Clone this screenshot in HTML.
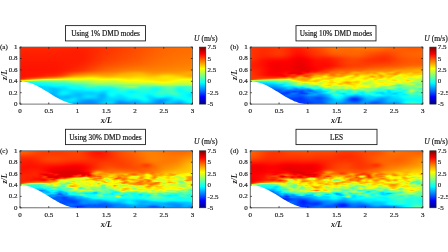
<!DOCTYPE html><html><head><meta charset="utf-8"><style>*{margin:0;padding:0}
html,body{width:448px;height:252px;overflow:hidden;background:#fff}
.fld{position:absolute;width:172.5px;height:57px}
.fld div{position:absolute;left:0;width:100%;height:1.05px}
svg{position:absolute;left:0;top:0}
.t{font-family:"Liberation Serif",serif;font-size:7px;fill:#111;stroke:#333;stroke-width:0.2px}
.tt{font-family:"Liberation Serif",serif;font-size:7.3px;fill:#111;stroke:#222;stroke-width:0.2px}
.al{font-family:"Liberation Serif",serif;font-size:8px;font-weight:bold;font-style:italic;fill:#111}
.u{font-size:7.6px}
</style></head><body><div class="fld" style="left:20.0px;top:47.1px"><div style="top:0.00px;background:linear-gradient(90deg,#ff2700,#ff2700,#ff2700,#ff2700,#ff2700,#ff2700,#ff2700,#ff2700,#ff2700,#ff2700,#ff2700,#ff2700,#ff2700,#ff2700,#ff2700,#ff2700,#ff2700,#ff2700,#ff2600,#ff2600,#ff2600,#ff2500,#ff2500,#ff2400,#ff2400,#ff2400,#ff2300,#ff2300,#ff2300,#ff2300,#ff2300,#ff2400,#ff2400,#ff2500,#ff2600,#ff2800,#ff2900,#ff2b00,#ff2c00,#ff2e00,#ff2f00,#ff3100,#ff3300,#ff3400,#ff3500,#ff3700,#ff3900,#ff3a00,#ff3c00,#ff3e00,#ff3f00,#ff4100,#ff4300,#ff4500,#ff4700,#ff4800,#ff4a00,#ff4c00,#ff4e00,#ff5000,#ff5100,#ff5300,#ff5500,#ff5700,#ff5900,#ff5b00,#ff5d00,#ff5f00,#ff6000,#ff6200,#ff6300,#ff6400,#ff6500,#ff6600,#ff6700,#ff6800,#ff6900,#ff6900,#ff6a00,#ff6b00,#ff6b00,#ff6c00,#ff6c00,#ff6d00,#ff6d00,#ff6d00,#ff6d00)"></div><div style="top:1.00px;background:linear-gradient(90deg,#ff2600,#ff2600,#ff2600,#ff2600,#ff2600,#ff2600,#ff2600,#ff2600,#ff2600,#ff2600,#ff2600,#ff2600,#ff2600,#ff2600,#ff2600,#ff2600,#ff2600,#ff2600,#ff2500,#ff2500,#ff2400,#ff2400,#ff2300,#ff2300,#ff2200,#ff2200,#ff2200,#ff2100,#ff2100,#ff2100,#ff2200,#ff2200,#ff2300,#ff2400,#ff2500,#ff2700,#ff2800,#ff2a00,#ff2c00,#ff2e00,#ff2f00,#ff3100,#ff3300,#ff3400,#ff3600,#ff3700,#ff3900,#ff3b00,#ff3c00,#ff3e00,#ff4000,#ff4200,#ff4300,#ff4500,#ff4700,#ff4900,#ff4a00,#ff4c00,#ff4e00,#ff5000,#ff5200,#ff5400,#ff5600,#ff5800,#ff5900,#ff5b00,#ff5d00,#ff5f00,#ff6100,#ff6200,#ff6300,#ff6500,#ff6500,#ff6600,#ff6700,#ff6800,#ff6900,#ff6a00,#ff6a00,#ff6b00,#ff6b00,#ff6c00,#ff6c00,#ff6d00,#ff6d00,#ff6d00,#ff6d00)"></div><div style="top:2.00px;background:linear-gradient(90deg,#ff2500,#ff2500,#ff2500,#ff2500,#ff2500,#ff2500,#ff2500,#ff2500,#ff2500,#ff2500,#ff2500,#ff2500,#ff2500,#ff2500,#ff2500,#ff2500,#ff2500,#ff2400,#ff2400,#ff2400,#ff2300,#ff2300,#ff2200,#ff2200,#ff2100,#ff2100,#ff2000,#ff2000,#ff2000,#ff2000,#ff2000,#ff2100,#ff2200,#ff2300,#ff2400,#ff2600,#ff2800,#ff2a00,#ff2b00,#ff2d00,#ff2f00,#ff3100,#ff3300,#ff3500,#ff3600,#ff3800,#ff3900,#ff3b00,#ff3d00,#ff3e00,#ff4000,#ff4200,#ff4400,#ff4500,#ff4700,#ff4900,#ff4b00,#ff4c00,#ff4e00,#ff5000,#ff5200,#ff5400,#ff5600,#ff5800,#ff5a00,#ff5c00,#ff5e00,#ff5f00,#ff6100,#ff6200,#ff6400,#ff6500,#ff6600,#ff6700,#ff6800,#ff6800,#ff6900,#ff6a00,#ff6b00,#ff6b00,#ff6c00,#ff6c00,#ff6d00,#ff6d00,#ff6d00,#ff6e00,#ff6e00)"></div><div style="top:3.00px;background:linear-gradient(90deg,#ff2400,#ff2400,#ff2400,#ff2400,#ff2400,#ff2400,#ff2400,#ff2400,#ff2400,#ff2400,#ff2400,#ff2400,#ff2400,#ff2400,#ff2400,#ff2400,#ff2300,#ff2300,#ff2300,#ff2200,#ff2200,#ff2100,#ff2100,#ff2000,#ff2000,#ff2000,#ff1f00,#ff1f00,#ff1f00,#ff1f00,#ff1f00,#ff2000,#ff2100,#ff2200,#ff2400,#ff2500,#ff2700,#ff2900,#ff2b00,#ff2d00,#ff2f00,#ff3100,#ff3300,#ff3500,#ff3700,#ff3800,#ff3a00,#ff3c00,#ff3d00,#ff3f00,#ff4100,#ff4200,#ff4400,#ff4600,#ff4800,#ff4900,#ff4b00,#ff4d00,#ff4f00,#ff5000,#ff5200,#ff5400,#ff5600,#ff5800,#ff5a00,#ff5c00,#ff5e00,#ff6000,#ff6100,#ff6300,#ff6400,#ff6500,#ff6600,#ff6700,#ff6800,#ff6900,#ff6a00,#ff6a00,#ff6b00,#ff6c00,#ff6c00,#ff6d00,#ff6d00,#ff6e00,#ff6e00,#ff6e00,#ff6e00)"></div><div style="top:4.00px;background:linear-gradient(90deg,#ff2200,#ff2200,#ff2200,#ff2200,#ff2200,#ff2200,#ff2200,#ff2200,#ff2200,#ff2200,#ff2200,#ff2200,#ff2200,#ff2200,#ff2200,#ff2200,#ff2200,#ff2200,#ff2200,#ff2100,#ff2100,#ff2000,#ff2000,#ff1f00,#ff1f00,#ff1f00,#ff1e00,#ff1e00,#ff1e00,#ff1e00,#ff1e00,#ff1f00,#ff2000,#ff2200,#ff2300,#ff2500,#ff2700,#ff2900,#ff2b00,#ff2e00,#ff3000,#ff3200,#ff3400,#ff3600,#ff3700,#ff3900,#ff3b00,#ff3c00,#ff3e00,#ff4000,#ff4100,#ff4300,#ff4500,#ff4700,#ff4800,#ff4a00,#ff4c00,#ff4d00,#ff4f00,#ff5100,#ff5300,#ff5500,#ff5700,#ff5900,#ff5b00,#ff5d00,#ff5f00,#ff6000,#ff6200,#ff6400,#ff6500,#ff6600,#ff6700,#ff6800,#ff6900,#ff6900,#ff6a00,#ff6b00,#ff6c00,#ff6c00,#ff6d00,#ff6d00,#ff6e00,#ff6e00,#ff6f00,#ff6f00,#ff6f00)"></div><div style="top:5.00px;background:linear-gradient(90deg,#ff2100,#ff2100,#ff2100,#ff2100,#ff2100,#ff2100,#ff2100,#ff2100,#ff2100,#ff2100,#ff2100,#ff2100,#ff2100,#ff2100,#ff2100,#ff2100,#ff2100,#ff2100,#ff2100,#ff2000,#ff2000,#ff1f00,#ff1f00,#ff1f00,#ff1e00,#ff1e00,#ff1e00,#ff1d00,#ff1d00,#ff1d00,#ff1e00,#ff1e00,#ff2000,#ff2100,#ff2300,#ff2500,#ff2700,#ff2900,#ff2c00,#ff2e00,#ff3000,#ff3200,#ff3400,#ff3600,#ff3800,#ff3a00,#ff3b00,#ff3d00,#ff3f00,#ff4100,#ff4200,#ff4400,#ff4600,#ff4700,#ff4900,#ff4b00,#ff4c00,#ff4e00,#ff5000,#ff5200,#ff5400,#ff5600,#ff5800,#ff5a00,#ff5c00,#ff5e00,#ff5f00,#ff6100,#ff6300,#ff6400,#ff6600,#ff6700,#ff6800,#ff6900,#ff6900,#ff6a00,#ff6b00,#ff6c00,#ff6c00,#ff6d00,#ff6e00,#ff6e00,#ff6f00,#ff6f00,#ff6f00,#ff6f00,#ff7000)"></div><div style="top:6.00px;background:linear-gradient(90deg,#ff2000,#ff2000,#ff2000,#ff2000,#ff2000,#ff2000,#ff2000,#ff2000,#ff2000,#ff2000,#ff2000,#ff2000,#ff2000,#ff2000,#ff2000,#ff2000,#ff2000,#ff2000,#ff2000,#ff1f00,#ff1f00,#ff1f00,#ff1e00,#ff1e00,#ff1e00,#ff1d00,#ff1d00,#ff1d00,#ff1d00,#ff1d00,#ff1d00,#ff1e00,#ff1f00,#ff2100,#ff2300,#ff2500,#ff2700,#ff2900,#ff2c00,#ff2e00,#ff3100,#ff3300,#ff3500,#ff3700,#ff3900,#ff3b00,#ff3c00,#ff3e00,#ff4000,#ff4100,#ff4300,#ff4500,#ff4600,#ff4800,#ff4a00,#ff4c00,#ff4d00,#ff4f00,#ff5100,#ff5300,#ff5400,#ff5600,#ff5800,#ff5a00,#ff5c00,#ff5e00,#ff6000,#ff6200,#ff6400,#ff6500,#ff6600,#ff6800,#ff6800,#ff6900,#ff6a00,#ff6b00,#ff6c00,#ff6d00,#ff6d00,#ff6e00,#ff6f00,#ff6f00,#ff6f00,#ff7000,#ff7000,#ff7000,#ff7000)"></div><div style="top:7.00px;background:linear-gradient(90deg,#ff1f00,#ff1f00,#ff1f00,#ff1f00,#ff1f00,#ff1f00,#ff1f00,#ff1f00,#ff1f00,#ff1f00,#ff1f00,#ff1f00,#ff1f00,#ff1f00,#ff1f00,#ff1f00,#ff1f00,#ff1f00,#ff1f00,#ff1e00,#ff1e00,#ff1e00,#ff1e00,#ff1d00,#ff1d00,#ff1d00,#ff1c00,#ff1c00,#ff1c00,#ff1c00,#ff1d00,#ff1e00,#ff1f00,#ff2100,#ff2300,#ff2500,#ff2700,#ff2a00,#ff2c00,#ff2f00,#ff3100,#ff3400,#ff3600,#ff3800,#ff3a00,#ff3c00,#ff3d00,#ff3f00,#ff4100,#ff4200,#ff4400,#ff4600,#ff4700,#ff4900,#ff4b00,#ff4c00,#ff4e00,#ff5000,#ff5200,#ff5300,#ff5500,#ff5700,#ff5900,#ff5b00,#ff5d00,#ff5f00,#ff6100,#ff6300,#ff6500,#ff6600,#ff6700,#ff6800,#ff6900,#ff6a00,#ff6b00,#ff6c00,#ff6d00,#ff6d00,#ff6e00,#ff6f00,#ff6f00,#ff7000,#ff7000,#ff7100,#ff7100,#ff7100,#ff7100)"></div><div style="top:8.00px;background:linear-gradient(90deg,#ff1e00,#ff1e00,#ff1e00,#ff1e00,#ff1e00,#ff1e00,#ff1e00,#ff1e00,#ff1e00,#ff1e00,#ff1e00,#ff1e00,#ff1e00,#ff1e00,#ff1e00,#ff1e00,#ff1e00,#ff1e00,#ff1e00,#ff1e00,#ff1d00,#ff1d00,#ff1d00,#ff1d00,#ff1c00,#ff1c00,#ff1c00,#ff1c00,#ff1c00,#ff1c00,#ff1c00,#ff1d00,#ff1f00,#ff2100,#ff2300,#ff2500,#ff2800,#ff2a00,#ff2d00,#ff3000,#ff3200,#ff3500,#ff3700,#ff3900,#ff3b00,#ff3d00,#ff3e00,#ff4000,#ff4200,#ff4300,#ff4500,#ff4700,#ff4800,#ff4a00,#ff4c00,#ff4d00,#ff4f00,#ff5100,#ff5300,#ff5400,#ff5600,#ff5800,#ff5a00,#ff5c00,#ff5e00,#ff6000,#ff6200,#ff6400,#ff6600,#ff6700,#ff6800,#ff6900,#ff6a00,#ff6b00,#ff6c00,#ff6d00,#ff6e00,#ff6e00,#ff6f00,#ff7000,#ff7000,#ff7100,#ff7100,#ff7200,#ff7200,#ff7200,#ff7200)"></div><div style="top:9.00px;background:linear-gradient(90deg,#ff1d00,#ff1d00,#ff1d00,#ff1d00,#ff1d00,#ff1d00,#ff1d00,#ff1d00,#ff1d00,#ff1d00,#ff1d00,#ff1d00,#ff1d00,#ff1d00,#ff1d00,#ff1d00,#ff1d00,#ff1d00,#ff1d00,#ff1d00,#ff1d00,#ff1d00,#ff1c00,#ff1c00,#ff1c00,#ff1c00,#ff1c00,#ff1c00,#ff1c00,#ff1c00,#ff1c00,#ff1d00,#ff1f00,#ff2100,#ff2300,#ff2500,#ff2800,#ff2b00,#ff2d00,#ff3000,#ff3300,#ff3600,#ff3800,#ff3a00,#ff3c00,#ff3e00,#ff3f00,#ff4100,#ff4300,#ff4500,#ff4600,#ff4800,#ff4a00,#ff4b00,#ff4d00,#ff4f00,#ff5000,#ff5200,#ff5400,#ff5500,#ff5700,#ff5900,#ff5b00,#ff5d00,#ff5f00,#ff6100,#ff6300,#ff6500,#ff6700,#ff6800,#ff6900,#ff6a00,#ff6b00,#ff6c00,#ff6d00,#ff6e00,#ff6f00,#ff6f00,#ff7000,#ff7100,#ff7100,#ff7200,#ff7200,#ff7300,#ff7300,#ff7300,#ff7300)"></div><div style="top:10.00px;background:linear-gradient(90deg,#ff1c00,#ff1c00,#ff1c00,#ff1c00,#ff1c00,#ff1c00,#ff1c00,#ff1c00,#ff1c00,#ff1c00,#ff1c00,#ff1c00,#ff1c00,#ff1c00,#ff1c00,#ff1c00,#ff1c00,#ff1c00,#ff1c00,#ff1c00,#ff1c00,#ff1c00,#ff1c00,#ff1c00,#ff1c00,#ff1c00,#ff1c00,#ff1c00,#ff1c00,#ff1c00,#ff1c00,#ff1d00,#ff1f00,#ff2100,#ff2300,#ff2600,#ff2800,#ff2b00,#ff2e00,#ff3100,#ff3400,#ff3700,#ff3900,#ff3b00,#ff3d00,#ff3f00,#ff4100,#ff4200,#ff4400,#ff4600,#ff4700,#ff4900,#ff4b00,#ff4c00,#ff4e00,#ff5000,#ff5100,#ff5300,#ff5500,#ff5700,#ff5900,#ff5a00,#ff5c00,#ff5e00,#ff6000,#ff6200,#ff6400,#ff6600,#ff6800,#ff6900,#ff6a00,#ff6c00,#ff6c00,#ff6d00,#ff6e00,#ff6f00,#ff7000,#ff7100,#ff7100,#ff7200,#ff7200,#ff7300,#ff7300,#ff7400,#ff7400,#ff7400,#ff7400)"></div><div style="top:11.00px;background:linear-gradient(90deg,#ff1b00,#ff1b00,#ff1b00,#ff1b00,#ff1b00,#ff1b00,#ff1b00,#ff1b00,#ff1b00,#ff1b00,#ff1b00,#ff1b00,#ff1b00,#ff1b00,#ff1b00,#ff1b00,#ff1b00,#ff1b00,#ff1b00,#ff1b00,#ff1b00,#ff1b00,#ff1b00,#ff1b00,#ff1b00,#ff1c00,#ff1c00,#ff1c00,#ff1c00,#ff1c00,#ff1c00,#ff1d00,#ff1f00,#ff2100,#ff2300,#ff2600,#ff2900,#ff2c00,#ff2f00,#ff3200,#ff3500,#ff3800,#ff3a00,#ff3c00,#ff3e00,#ff4000,#ff4200,#ff4400,#ff4500,#ff4700,#ff4900,#ff4a00,#ff4c00,#ff4e00,#ff4f00,#ff5100,#ff5300,#ff5400,#ff5600,#ff5800,#ff5a00,#ff5c00,#ff5e00,#ff6000,#ff6200,#ff6300,#ff6500,#ff6700,#ff6900,#ff6a00,#ff6c00,#ff6d00,#ff6e00,#ff6e00,#ff6f00,#ff7000,#ff7100,#ff7200,#ff7200,#ff7300,#ff7400,#ff7400,#ff7500,#ff7500,#ff7500,#ff7500,#ff7500)"></div><div style="top:12.00px;background:linear-gradient(90deg,#ff1b00,#ff1b00,#ff1b00,#ff1b00,#ff1b00,#ff1b00,#ff1b00,#ff1b00,#ff1b00,#ff1b00,#ff1b00,#ff1b00,#ff1b00,#ff1b00,#ff1b00,#ff1b00,#ff1b00,#ff1b00,#ff1b00,#ff1b00,#ff1b00,#ff1b00,#ff1b00,#ff1b00,#ff1b00,#ff1b00,#ff1b00,#ff1b00,#ff1c00,#ff1c00,#ff1c00,#ff1e00,#ff1f00,#ff2200,#ff2400,#ff2700,#ff2a00,#ff2d00,#ff3000,#ff3300,#ff3600,#ff3900,#ff3c00,#ff3e00,#ff4000,#ff4200,#ff4300,#ff4500,#ff4700,#ff4900,#ff4a00,#ff4c00,#ff4d00,#ff4f00,#ff5100,#ff5200,#ff5400,#ff5600,#ff5700,#ff5900,#ff5b00,#ff5d00,#ff5f00,#ff6100,#ff6300,#ff6500,#ff6700,#ff6800,#ff6a00,#ff6b00,#ff6d00,#ff6e00,#ff6f00,#ff6f00,#ff7000,#ff7100,#ff7200,#ff7300,#ff7300,#ff7400,#ff7500,#ff7500,#ff7600,#ff7600,#ff7600,#ff7600,#ff7700)"></div><div style="top:13.00px;background:linear-gradient(90deg,#ff1a00,#ff1a00,#ff1a00,#ff1a00,#ff1a00,#ff1a00,#ff1a00,#ff1a00,#ff1a00,#ff1a00,#ff1a00,#ff1a00,#ff1a00,#ff1a00,#ff1a00,#ff1a00,#ff1a00,#ff1a00,#ff1a00,#ff1a00,#ff1a00,#ff1a00,#ff1a00,#ff1b00,#ff1b00,#ff1b00,#ff1b00,#ff1c00,#ff1c00,#ff1c00,#ff1d00,#ff1e00,#ff2000,#ff2300,#ff2500,#ff2800,#ff2b00,#ff2e00,#ff3200,#ff3500,#ff3800,#ff3b00,#ff3d00,#ff4000,#ff4200,#ff4300,#ff4500,#ff4700,#ff4900,#ff4b00,#ff4c00,#ff4e00,#ff4f00,#ff5100,#ff5300,#ff5400,#ff5600,#ff5800,#ff5900,#ff5b00,#ff5d00,#ff5f00,#ff6100,#ff6300,#ff6400,#ff6600,#ff6800,#ff6a00,#ff6b00,#ff6d00,#ff6e00,#ff6f00,#ff7000,#ff7100,#ff7200,#ff7200,#ff7300,#ff7400,#ff7500,#ff7500,#ff7600,#ff7600,#ff7700,#ff7700,#ff7700,#ff7800,#ff7800)"></div><div style="top:14.00px;background:linear-gradient(90deg,#ff1900,#ff1900,#ff1900,#ff1900,#ff1900,#ff1900,#ff1900,#ff1900,#ff1900,#ff1900,#ff1900,#ff1900,#ff1900,#ff1900,#ff1900,#ff1900,#ff1900,#ff1900,#ff1900,#ff1900,#ff1900,#ff1a00,#ff1a00,#ff1a00,#ff1b00,#ff1b00,#ff1b00,#ff1c00,#ff1c00,#ff1d00,#ff1e00,#ff1f00,#ff2200,#ff2400,#ff2700,#ff2a00,#ff2d00,#ff3000,#ff3400,#ff3700,#ff3a00,#ff3d00,#ff4000,#ff4200,#ff4400,#ff4600,#ff4800,#ff4900,#ff4b00,#ff4d00,#ff4f00,#ff5000,#ff5200,#ff5300,#ff5500,#ff5700,#ff5800,#ff5a00,#ff5b00,#ff5d00,#ff5f00,#ff6100,#ff6300,#ff6400,#ff6600,#ff6800,#ff6a00,#ff6b00,#ff6d00,#ff6e00,#ff6f00,#ff7000,#ff7100,#ff7200,#ff7300,#ff7400,#ff7400,#ff7500,#ff7600,#ff7600,#ff7700,#ff7800,#ff7800,#ff7800,#ff7900,#ff7900,#ff7900)"></div><div style="top:15.00px;background:linear-gradient(90deg,#ff1800,#ff1800,#ff1800,#ff1800,#ff1800,#ff1800,#ff1800,#ff1800,#ff1800,#ff1800,#ff1800,#ff1800,#ff1800,#ff1800,#ff1800,#ff1800,#ff1800,#ff1800,#ff1800,#ff1800,#ff1900,#ff1900,#ff1a00,#ff1a00,#ff1b00,#ff1b00,#ff1c00,#ff1c00,#ff1d00,#ff1e00,#ff1f00,#ff2100,#ff2300,#ff2600,#ff2900,#ff2c00,#ff2f00,#ff3300,#ff3600,#ff3900,#ff3d00,#ff4000,#ff4200,#ff4500,#ff4700,#ff4900,#ff4a00,#ff4c00,#ff4e00,#ff5000,#ff5100,#ff5300,#ff5500,#ff5600,#ff5800,#ff5900,#ff5b00,#ff5c00,#ff5e00,#ff6000,#ff6100,#ff6300,#ff6500,#ff6700,#ff6800,#ff6a00,#ff6b00,#ff6d00,#ff6e00,#ff7000,#ff7100,#ff7200,#ff7300,#ff7400,#ff7400,#ff7500,#ff7600,#ff7700,#ff7700,#ff7800,#ff7800,#ff7900,#ff7900,#ff7a00,#ff7a00,#ff7a00,#ff7b00)"></div><div style="top:16.00px;background:linear-gradient(90deg,#ff1700,#ff1700,#ff1700,#ff1700,#ff1700,#ff1700,#ff1700,#ff1700,#ff1700,#ff1700,#ff1700,#ff1700,#ff1700,#ff1700,#ff1700,#ff1700,#ff1700,#ff1700,#ff1700,#ff1800,#ff1800,#ff1900,#ff1900,#ff1a00,#ff1b00,#ff1b00,#ff1c00,#ff1d00,#ff1e00,#ff1f00,#ff2000,#ff2200,#ff2500,#ff2800,#ff2b00,#ff2e00,#ff3200,#ff3500,#ff3900,#ff3c00,#ff3f00,#ff4300,#ff4500,#ff4800,#ff4a00,#ff4c00,#ff4e00,#ff4f00,#ff5100,#ff5300,#ff5500,#ff5600,#ff5800,#ff5900,#ff5b00,#ff5d00,#ff5e00,#ff6000,#ff6100,#ff6300,#ff6400,#ff6600,#ff6800,#ff6900,#ff6b00,#ff6c00,#ff6e00,#ff6f00,#ff7000,#ff7200,#ff7300,#ff7400,#ff7400,#ff7500,#ff7600,#ff7700,#ff7700,#ff7800,#ff7900,#ff7900,#ff7a00,#ff7b00,#ff7b00,#ff7b00,#ff7c00,#ff7c00,#ff7c00)"></div><div style="top:17.00px;background:linear-gradient(90deg,#ff1600,#ff1600,#ff1600,#ff1600,#ff1600,#ff1600,#ff1600,#ff1600,#ff1600,#ff1600,#ff1600,#ff1600,#ff1600,#ff1600,#ff1600,#ff1600,#ff1600,#ff1600,#ff1700,#ff1700,#ff1800,#ff1900,#ff1900,#ff1a00,#ff1b00,#ff1c00,#ff1d00,#ff1e00,#ff1f00,#ff2000,#ff2200,#ff2400,#ff2700,#ff2a00,#ff2d00,#ff3100,#ff3400,#ff3800,#ff3c00,#ff3f00,#ff4300,#ff4600,#ff4900,#ff4b00,#ff4d00,#ff4f00,#ff5100,#ff5300,#ff5500,#ff5700,#ff5800,#ff5a00,#ff5c00,#ff5d00,#ff5f00,#ff6000,#ff6200,#ff6300,#ff6500,#ff6600,#ff6800,#ff6900,#ff6a00,#ff6c00,#ff6d00,#ff6f00,#ff7000,#ff7100,#ff7200,#ff7400,#ff7500,#ff7600,#ff7600,#ff7700,#ff7800,#ff7900,#ff7900,#ff7a00,#ff7b00,#ff7b00,#ff7c00,#ff7c00,#ff7d00,#ff7d00,#ff7e00,#ff7e00,#ff7e00)"></div><div style="top:18.00px;background:linear-gradient(90deg,#ff1500,#ff1500,#ff1500,#ff1500,#ff1500,#ff1500,#ff1500,#ff1500,#ff1500,#ff1500,#ff1500,#ff1500,#ff1500,#ff1500,#ff1500,#ff1500,#ff1500,#ff1600,#ff1600,#ff1700,#ff1800,#ff1800,#ff1900,#ff1a00,#ff1c00,#ff1d00,#ff1e00,#ff1f00,#ff2100,#ff2200,#ff2400,#ff2600,#ff2900,#ff2d00,#ff3000,#ff3400,#ff3800,#ff3b00,#ff3f00,#ff4300,#ff4700,#ff4a00,#ff4d00,#ff4f00,#ff5100,#ff5300,#ff5500,#ff5700,#ff5900,#ff5b00,#ff5d00,#ff5e00,#ff6000,#ff6100,#ff6300,#ff6400,#ff6600,#ff6700,#ff6800,#ff6a00,#ff6b00,#ff6d00,#ff6e00,#ff6f00,#ff7000,#ff7200,#ff7300,#ff7400,#ff7500,#ff7600,#ff7700,#ff7800,#ff7900,#ff7900,#ff7a00,#ff7b00,#ff7b00,#ff7c00,#ff7d00,#ff7d00,#ff7e00,#ff7e00,#ff7f00,#ff7f00,#ff8000,#ff8000,#ff8000)"></div><div style="top:19.00px;background:linear-gradient(90deg,#ff1400,#ff1400,#ff1400,#ff1400,#ff1400,#ff1400,#ff1400,#ff1400,#ff1400,#ff1400,#ff1400,#ff1400,#ff1400,#ff1400,#ff1400,#ff1500,#ff1500,#ff1500,#ff1600,#ff1600,#ff1700,#ff1800,#ff1a00,#ff1b00,#ff1c00,#ff1e00,#ff1f00,#ff2100,#ff2200,#ff2400,#ff2600,#ff2900,#ff2c00,#ff2f00,#ff3300,#ff3700,#ff3b00,#ff3f00,#ff4300,#ff4700,#ff4b00,#ff4e00,#ff5100,#ff5400,#ff5600,#ff5800,#ff5a00,#ff5c00,#ff5e00,#ff6000,#ff6100,#ff6300,#ff6500,#ff6600,#ff6700,#ff6900,#ff6a00,#ff6c00,#ff6d00,#ff6e00,#ff6f00,#ff7000,#ff7200,#ff7300,#ff7400,#ff7500,#ff7600,#ff7700,#ff7800,#ff7900,#ff7a00,#ff7a00,#ff7b00,#ff7c00,#ff7c00,#ff7d00,#ff7e00,#ff7e00,#ff7f00,#ff8000,#ff8000,#ff8100,#ff8100,#ff8200,#ff8200,#ff8200,#ff8300)"></div><div style="top:20.00px;background:linear-gradient(90deg,#ff1400,#ff1400,#ff1400,#ff1400,#ff1400,#ff1400,#ff1400,#ff1400,#ff1400,#ff1400,#ff1400,#ff1400,#ff1400,#ff1400,#ff1400,#ff1400,#ff1400,#ff1500,#ff1500,#ff1600,#ff1700,#ff1900,#ff1a00,#ff1b00,#ff1d00,#ff1f00,#ff2100,#ff2300,#ff2400,#ff2600,#ff2900,#ff2c00,#ff2f00,#ff3300,#ff3700,#ff3b00,#ff3f00,#ff4300,#ff4800,#ff4c00,#ff4f00,#ff5300,#ff5600,#ff5800,#ff5b00,#ff5d00,#ff5f00,#ff6100,#ff6300,#ff6500,#ff6600,#ff6800,#ff6a00,#ff6b00,#ff6d00,#ff6e00,#ff6f00,#ff7100,#ff7200,#ff7300,#ff7400,#ff7500,#ff7600,#ff7600,#ff7700,#ff7800,#ff7900,#ff7a00,#ff7b00,#ff7c00,#ff7c00,#ff7d00,#ff7e00,#ff7f00,#ff7f00,#ff8000,#ff8000,#ff8100,#ff8200,#ff8200,#ff8300,#ff8300,#ff8400,#ff8400,#ff8500,#ff8500,#ff8500)"></div><div style="top:21.00px;background:linear-gradient(90deg,#ff1400,#ff1400,#ff1400,#ff1400,#ff1400,#ff1400,#ff1400,#ff1400,#ff1400,#ff1400,#ff1400,#ff1400,#ff1400,#ff1400,#ff1400,#ff1400,#ff1400,#ff1500,#ff1500,#ff1600,#ff1700,#ff1900,#ff1a00,#ff1c00,#ff1e00,#ff2000,#ff2200,#ff2400,#ff2700,#ff2900,#ff2c00,#ff2f00,#ff3300,#ff3700,#ff3b00,#ff3f00,#ff4300,#ff4800,#ff4c00,#ff5000,#ff5400,#ff5800,#ff5b00,#ff5e00,#ff6000,#ff6200,#ff6400,#ff6600,#ff6800,#ff6a00,#ff6c00,#ff6e00,#ff7000,#ff7100,#ff7300,#ff7400,#ff7500,#ff7600,#ff7700,#ff7800,#ff7900,#ff7900,#ff7a00,#ff7b00,#ff7b00,#ff7c00,#ff7d00,#ff7d00,#ff7e00,#ff7f00,#ff7f00,#ff8000,#ff8100,#ff8100,#ff8200,#ff8300,#ff8300,#ff8400,#ff8500,#ff8500,#ff8600,#ff8600,#ff8700,#ff8700,#ff8700,#ff8800,#ff8800)"></div><div style="top:22.00px;background:linear-gradient(90deg,#ff1300,#ff1300,#ff1300,#ff1300,#ff1300,#ff1300,#ff1300,#ff1300,#ff1300,#ff1300,#ff1300,#ff1300,#ff1300,#ff1300,#ff1300,#ff1400,#ff1400,#ff1400,#ff1500,#ff1600,#ff1800,#ff1900,#ff1b00,#ff1d00,#ff1f00,#ff2100,#ff2400,#ff2600,#ff2900,#ff2c00,#ff2f00,#ff3300,#ff3700,#ff3b00,#ff3f00,#ff4400,#ff4800,#ff4d00,#ff5100,#ff5600,#ff5a00,#ff5d00,#ff6000,#ff6300,#ff6500,#ff6700,#ff6900,#ff6b00,#ff6d00,#ff7000,#ff7200,#ff7400,#ff7600,#ff7800,#ff7900,#ff7b00,#ff7c00,#ff7d00,#ff7e00,#ff7e00,#ff7f00,#ff7f00,#ff7f00,#ff7f00,#ff7f00,#ff8000,#ff8000,#ff8000,#ff8100,#ff8200,#ff8200,#ff8300,#ff8400,#ff8400,#ff8500,#ff8600,#ff8600,#ff8700,#ff8800,#ff8800,#ff8900,#ff8900,#ff8a00,#ff8a00,#ff8b00,#ff8b00,#ff8c00)"></div><div style="top:23.00px;background:linear-gradient(90deg,#ff1300,#ff1300,#ff1300,#ff1300,#ff1300,#ff1300,#ff1300,#ff1300,#ff1300,#ff1300,#ff1300,#ff1400,#ff1400,#ff1400,#ff1400,#ff1400,#ff1400,#ff1500,#ff1600,#ff1700,#ff1900,#ff1a00,#ff1c00,#ff1f00,#ff2200,#ff2500,#ff2800,#ff2b00,#ff2e00,#ff3100,#ff3500,#ff3900,#ff3e00,#ff4200,#ff4700,#ff4b00,#ff5000,#ff5400,#ff5800,#ff5d00,#ff6100,#ff6400,#ff6700,#ff6900,#ff6b00,#ff6d00,#ff6f00,#ff7100,#ff7300,#ff7500,#ff7800,#ff7a00,#ff7d00,#ff8000,#ff8200,#ff8400,#ff8600,#ff8700,#ff8700,#ff8700,#ff8700,#ff8600,#ff8500,#ff8500,#ff8400,#ff8400,#ff8400,#ff8400,#ff8500,#ff8500,#ff8600,#ff8700,#ff8700,#ff8800,#ff8900,#ff8a00,#ff8a00,#ff8b00,#ff8c00,#ff8c00,#ff8d00,#ff8e00,#ff8f00,#ff9000,#ff9000,#ff9100,#ff9100)"></div><div style="top:24.00px;background:linear-gradient(90deg,#ff1300,#ff1300,#ff1300,#ff1300,#ff1300,#ff1400,#ff1400,#ff1400,#ff1400,#ff1400,#ff1400,#ff1400,#ff1500,#ff1500,#ff1500,#ff1500,#ff1600,#ff1600,#ff1800,#ff1a00,#ff1c00,#ff1f00,#ff2300,#ff2600,#ff2a00,#ff2e00,#ff3200,#ff3600,#ff3a00,#ff3e00,#ff4300,#ff4800,#ff4c00,#ff5100,#ff5500,#ff5900,#ff5d00,#ff6100,#ff6500,#ff6800,#ff6c00,#ff6f00,#ff7100,#ff7300,#ff7400,#ff7600,#ff7800,#ff7a00,#ff7c00,#ff7e00,#ff8100,#ff8500,#ff8800,#ff8b00,#ff8f00,#ff9200,#ff9400,#ff9500,#ff9600,#ff9500,#ff9400,#ff9200,#ff9000,#ff8e00,#ff8d00,#ff8c00,#ff8b00,#ff8a00,#ff8b00,#ff8b00,#ff8c00,#ff8e00,#ff8f00,#ff8f00,#ff9000,#ff9100,#ff9100,#ff9200,#ff9200,#ff9300,#ff9500,#ff9600,#ff9800,#ff9900,#ff9a00,#ff9b00,#ff9c00)"></div><div style="top:25.00px;background:linear-gradient(90deg,#ff1300,#ff1300,#ff1300,#ff1400,#ff1400,#ff1400,#ff1400,#ff1400,#ff1500,#ff1500,#ff1500,#ff1500,#ff1600,#ff1800,#ff1800,#ff1800,#ff1900,#ff1a00,#ff1c00,#ff1f00,#ff2200,#ff2700,#ff2c00,#ff3100,#ff3700,#ff3d00,#ff4300,#ff4800,#ff4d00,#ff5200,#ff5700,#ff5c00,#ff6000,#ff6500,#ff6900,#ff6c00,#ff6f00,#ff7200,#ff7500,#ff7800,#ff7a00,#ff7c00,#ff7e00,#ff7f00,#ff8000,#ff8200,#ff8300,#ff8600,#ff8900,#ff8c00,#ff8f00,#ff9300,#ff9600,#ff9a00,#ff9e00,#ffa100,#ffa400,#ffa600,#ffa600,#ffa600,#ffa400,#ffa100,#ff9e00,#ff9b00,#ff9800,#ff9500,#ff9300,#ff9200,#ff9200,#ff9400,#ff9600,#ff9800,#ff9900,#ff9a00,#ff9b00,#ff9b00,#ff9a00,#ff9a00,#ff9b00,#ff9c00,#ff9d00,#ff9f00,#ffa100,#ffa300,#ffa400,#ffa500,#ffa600)"></div><div style="top:26.00px;background:linear-gradient(90deg,#ff1300,#ff1300,#ff1400,#ff1400,#ff1400,#ff1400,#ff1500,#ff1500,#ff1600,#ff1600,#ff1700,#ff1700,#ff1900,#ff1c00,#ff1d00,#ff1d00,#ff1e00,#ff1f00,#ff2100,#ff2500,#ff2900,#ff2f00,#ff3600,#ff3d00,#ff4600,#ff4e00,#ff5600,#ff5d00,#ff6300,#ff6800,#ff6d00,#ff7200,#ff7600,#ff7a00,#ff7e00,#ff8000,#ff8300,#ff8500,#ff8700,#ff8800,#ff8a00,#ff8a00,#ff8b00,#ff8c00,#ff8d00,#ff8f00,#ff9100,#ff9500,#ff9800,#ff9c00,#ffa000,#ffa300,#ffa500,#ffa800,#ffab00,#ffae00,#ffb100,#ffb300,#ffb400,#ffb400,#ffb200,#ffb000,#ffac00,#ffa800,#ffa400,#ffa000,#ff9d00,#ff9c00,#ff9d00,#ffa000,#ffa300,#ffa700,#ffa900,#ffaa00,#ffaa00,#ffa900,#ffa800,#ffa600,#ffa500,#ffa600,#ffa600,#ffa700,#ffa800,#ffa900,#ffa900,#ffa900,#ffa900)"></div><div style="top:27.00px;background:linear-gradient(90deg,#ff1300,#ff1300,#ff1400,#ff1400,#ff1400,#ff1500,#ff1600,#ff1600,#ff1700,#ff1800,#ff1900,#ff1a00,#ff1d00,#ff2100,#ff2300,#ff2300,#ff2400,#ff2500,#ff2800,#ff2b00,#ff3100,#ff3800,#ff4000,#ff4a00,#ff5500,#ff6000,#ff6a00,#ff7200,#ff7900,#ff7e00,#ff8300,#ff8700,#ff8b00,#ff8f00,#ff9200,#ff9500,#ff9700,#ff9900,#ff9900,#ff9900,#ff9800,#ff9700,#ff9700,#ff9700,#ff9800,#ff9a00,#ff9e00,#ffa200,#ffa600,#ffaa00,#ffae00,#ffb000,#ffb100,#ffb300,#ffb400,#ffb600,#ffb800,#ffbb00,#ffbc00,#ffbd00,#ffbd00,#ffbb00,#ffb800,#ffb400,#ffaf00,#ffac00,#ffaa00,#ffaa00,#ffac00,#ffb000,#ffb500,#ffba00,#ffbe00,#ffbf00,#ffbe00,#ffbc00,#ffb900,#ffb600,#ffb300,#ffb200,#ffb000,#ffaf00,#ffad00,#ffab00,#ffa800,#ffa600,#ffa600)"></div><div style="top:28.00px;background:linear-gradient(90deg,#ff1300,#ff1300,#ff1400,#ff1400,#ff1500,#ff1600,#ff1700,#ff1800,#ff1900,#ff1a00,#ff1c00,#ff1e00,#ff2100,#ff2600,#ff2900,#ff2a00,#ff2b00,#ff2e00,#ff3100,#ff3700,#ff3e00,#ff4700,#ff5100,#ff5d00,#ff6a00,#ff7700,#ff8200,#ff8c00,#ff9300,#ff9800,#ff9b00,#ff9f00,#ffa300,#ffa700,#ffab00,#ffae00,#ffaf00,#ffb000,#ffaf00,#ffad00,#ffaa00,#ffa700,#ffa500,#ffa400,#ffa400,#ffa600,#ffaa00,#ffae00,#ffb300,#ffb600,#ffb900,#ffba00,#ffbb00,#ffbb00,#ffbb00,#ffbc00,#ffbe00,#ffc100,#ffc300,#ffc500,#ffc600,#ffc500,#ffc200,#ffbf00,#ffbb00,#ffb800,#ffb700,#ffb900,#ffbd00,#ffc200,#ffc900,#ffce00,#ffd200,#ffd300,#ffd200,#ffcf00,#ffcb00,#ffc700,#ffc300,#ffbf00,#ffbb00,#ffb800,#ffb300,#ffae00,#ffaa00,#ffa600,#ffa400)"></div><div style="top:29.00px;background:linear-gradient(90deg,#ff1300,#ff1400,#ff1400,#ff1600,#ff1800,#ff1a00,#ff1c00,#ff1f00,#ff2200,#ff2600,#ff2900,#ff2d00,#ff3300,#ff3a00,#ff3f00,#ff4200,#ff4500,#ff4a00,#ff4f00,#ff5700,#ff5f00,#ff6900,#ff7500,#ff8100,#ff8e00,#ff9a00,#ffa400,#ffac00,#ffb200,#ffb500,#ffb700,#ffba00,#ffbe00,#ffc200,#ffc600,#ffc900,#ffcb00,#ffca00,#ffc800,#ffc400,#ffc000,#ffbc00,#ffb800,#ffb600,#ffb600,#ffb700,#ffba00,#ffbe00,#ffc200,#ffc400,#ffc600,#ffc600,#ffc500,#ffc500,#ffc500,#ffc600,#ffc800,#ffcb00,#ffce00,#ffd000,#ffd000,#ffd000,#ffcd00,#ffca00,#ffc700,#ffc500,#ffc500,#ffc700,#ffcc00,#ffd200,#ffd800,#ffdd00,#ffe000,#ffe100,#ffe000,#ffdd00,#ffda00,#ffd500,#ffd100,#ffcd00,#ffc900,#ffc500,#ffc000,#ffba00,#ffb500,#ffb100,#ffaf00)"></div><div style="top:30.00px;background:linear-gradient(90deg,#ff1300,#ff1900,#ff1e00,#ff2300,#ff2900,#ff2e00,#ff3400,#ff3a00,#ff4000,#ff4600,#ff4c00,#ff5200,#ff5a00,#ff6200,#ff6900,#ff6f00,#ff7400,#ff7a00,#ff8200,#ff8a00,#ff9300,#ff9d00,#ffa700,#ffb200,#ffbb00,#ffc400,#ffca00,#ffcf00,#ffd100,#ffd200,#ffd400,#ffd600,#ffda00,#ffde00,#ffe200,#ffe500,#ffe500,#ffe400,#ffe100,#ffdd00,#ffd800,#ffd400,#ffd000,#ffce00,#ffce00,#ffcf00,#ffd100,#ffd400,#ffd600,#ffd700,#ffd600,#ffd500,#ffd300,#ffd200,#ffd300,#ffd400,#ffd700,#ffda00,#ffdc00,#ffdd00,#ffdd00,#ffdc00,#ffd900,#ffd600,#ffd300,#ffd100,#ffd100,#ffd300,#ffd700,#ffdb00,#ffe000,#ffe300,#ffe600,#ffe600,#ffe500,#ffe400,#ffe200,#ffe000,#ffde00,#ffdc00,#ffda00,#ffd700,#ffd300,#ffd000,#ffcc00,#ffc900,#ffc700)"></div><div style="top:31.00px;background:linear-gradient(90deg,#ff1400,#ff2100,#ff2e00,#ff3a00,#ff4700,#ff5200,#ff5e00,#ff6800,#ff7300,#ff7d00,#ff8600,#ff8f00,#ff9800,#ffa100,#ffa800,#ffae00,#ffb300,#ffb900,#ffc000,#ffc700,#ffd000,#ffd800,#ffe000,#ffe700,#ffec00,#fff000,#fff200,#fff200,#fff200,#fff100,#fff100,#fff300,#fff600,#fffa00,#fffc00,#fffe00,#fffd00,#fffa00,#fff700,#fff300,#ffef00,#ffec00,#ffea00,#ffea00,#ffeb00,#ffec00,#ffee00,#ffef00,#ffef00,#ffee00,#ffeb00,#ffe800,#ffe500,#ffe300,#ffe300,#ffe500,#ffe700,#ffea00,#ffeb00,#ffeb00,#ffea00,#ffe800,#ffe400,#ffe100,#ffde00,#ffdc00,#ffdb00,#ffdc00,#ffde00,#ffe000,#ffe200,#ffe400,#ffe500,#ffe600,#ffe600,#ffe700,#ffe700,#ffe800,#ffea00,#ffeb00,#ffec00,#ffec00,#ffec00,#ffea00,#ffe900,#ffe700,#ffe600)"></div><div style="top:32.00px;background:linear-gradient(90deg,#ff4400,#ff5700,#ff6a00,#ff7d00,#ff8f00,#ffa100,#ffb100,#ffc100,#ffcf00,#ffdc00,#ffe700,#fff100,#fff900,#fffe00,#fdff02,#fcff03,#fbff04,#faff05,#f7ff08,#f3ff0c,#eeff11,#e9ff16,#e5ff1a,#e2ff1d,#e2ff1d,#e4ff1b,#e6ff19,#e9ff16,#eaff15,#ebff14,#eaff15,#e8ff17,#e6ff19,#e4ff1b,#e3ff1c,#e4ff1b,#e7ff18,#ebff14,#efff10,#f3ff0c,#f6ff09,#f8ff07,#f8ff07,#f8ff07,#f6ff09,#f4ff0b,#f3ff0c,#f4ff0b,#f6ff09,#faff05,#ffff00,#fffa00,#fff600,#fff300,#fff300,#fff400,#fff600,#fff700,#fff700,#fff600,#fff400,#fff100,#ffee00,#ffeb00,#ffe900,#ffe700,#ffe500,#ffe400,#ffe300,#ffe200,#ffe200,#ffe300,#ffe400,#ffe500,#ffe700,#ffea00,#ffee00,#fff200,#fff600,#fffa00,#fffe00,#fdff02,#fbff04,#faff05,#faff05,#fbff04,#fbff04)"></div><div style="top:33.00px;background:linear-gradient(90deg,#ffd300,#ffe300,#fff200,#fdff02,#efff10,#e1ff1e,#d5ff2a,#caff35,#c0ff3f,#b7ff48,#afff50,#a9ff56,#a4ff5b,#a1ff5e,#a0ff5f,#a0ff5f,#a2ff5d,#a3ff5c,#a3ff5c,#a2ff5d,#a1ff5e,#a0ff5f,#a0ff5f,#a3ff5c,#a9ff56,#b1ff4e,#b8ff47,#bfff40,#c3ff3c,#c5ff3a,#c5ff3a,#c4ff3b,#c3ff3c,#c4ff3b,#c6ff39,#caff35,#cfff30,#d5ff2a,#daff25,#deff21,#e0ff1f,#e1ff1e,#e0ff1f,#deff21,#dcff23,#daff25,#daff25,#dbff24,#dfff20,#e5ff1a,#ebff14,#f2ff0d,#f7ff08,#faff05,#fbff04,#fbff04,#faff05,#faff05,#fcff03,#feff01,#fffe00,#fffb00,#fff900,#fff700,#fff600,#fff400,#fff100,#ffee00,#ffeb00,#ffe800,#ffe600,#ffe600,#ffe700,#ffe900,#ffed00,#fff200,#fff700,#fffd00,#fbff04,#f5ff0a,#f0ff0f,#ecff13,#eaff15,#e9ff16,#e8ff17,#e8ff17,#e8ff17)"></div><div style="top:34.00px;background:linear-gradient(90deg,#37ffc8,#38ffc7,#3affc5,#3cffc3,#3effc1,#40ffbf,#43ffbc,#45ffba,#48ffb7,#4bffb4,#4effb1,#51ffae,#54ffab,#58ffa7,#5cffa3,#61ff9e,#65ff9a,#69ff96,#6cff93,#6dff92,#6eff91,#6fff90,#71ff8e,#76ff89,#7eff81,#87ff78,#90ff6f,#97ff68,#9cff63,#9eff61,#9fff60,#9fff60,#a1ff5e,#a5ff5a,#aaff55,#b1ff4e,#b9ff46,#c1ff3e,#c7ff38,#cbff34,#cdff32,#cdff32,#ccff33,#c9ff36,#c7ff38,#c5ff3a,#c5ff3a,#c7ff38,#ccff33,#d2ff2d,#d9ff26,#e0ff1f,#e5ff1a,#e9ff16,#eaff15,#ebff14,#ebff14,#ecff13,#eeff11,#f0ff0f,#f2ff0d,#f4ff0b,#f5ff0a,#f5ff0a,#f5ff0a,#f7ff08,#faff05,#feff01,#fffb00,#fff600,#fff200,#fff100,#fff200,#fff500,#fff900,#ffff00,#f9ff06,#f3ff0c,#ecff13,#e7ff18,#e2ff1d,#dfff20,#deff21,#deff21,#dfff20,#e0ff1f,#e0ff1f)"></div><div style="top:35.00px;background:linear-gradient(90deg,#08fff7,#0afff5,#0cfff3,#0efff1,#11ffee,#14ffeb,#17ffe8,#1affe5,#1dffe2,#20ffdf,#24ffdb,#27ffd8,#2bffd4,#30ffcf,#34ffcb,#39ffc6,#3fffc0,#44ffbb,#47ffb8,#4affb5,#4bffb4,#4dffb2,#50ffaf,#55ffaa,#5effa1,#67ff98,#70ff8f,#77ff88,#7bff84,#7eff81,#80ff7f,#82ff7d,#86ff79,#8cff73,#95ff6a,#9eff61,#a7ff58,#afff50,#b6ff49,#baff45,#bbff44,#bbff44,#baff45,#b7ff48,#b5ff4a,#b4ff4b,#b5ff4a,#b7ff48,#bbff44,#c1ff3e,#c7ff38,#cdff32,#d2ff2d,#d5ff2a,#d7ff28,#d8ff27,#d9ff26,#daff25,#dbff24,#ddff22,#deff21,#dfff20,#deff21,#ddff22,#dcff23,#ddff22,#e1ff1e,#e6ff19,#ecff13,#f3ff0c,#f7ff08,#f9ff06,#f9ff06,#f6ff09,#f2ff0d,#edff12,#e7ff18,#e1ff1e,#dcff23,#d7ff28,#d4ff2b,#d3ff2c,#d3ff2c,#d5ff2a,#d7ff28,#daff25,#dcff23)"></div><div style="top:36.00px;background:linear-gradient(90deg,#00f6ff,#00f7ff,#00f8ff,#00faff,#00fcff,#00feff,#01fffe,#03fffc,#06fff9,#09fff6,#0bfff4,#0efff1,#12ffed,#15ffea,#19ffe6,#1effe1,#23ffdc,#28ffd7,#2cffd3,#2fffd0,#31ffce,#33ffcc,#36ffc9,#3bffc4,#42ffbd,#4affb5,#52ffad,#58ffa7,#5cffa3,#60ff9f,#63ff9c,#68ff97,#6eff91,#76ff89,#80ff7f,#89ff76,#92ff6d,#9aff65,#9fff60,#a2ff5d,#a3ff5c,#a3ff5c,#a2ff5d,#a1ff5e,#a0ff5f,#a0ff5f,#a1ff5e,#a4ff5b,#a7ff58,#acff53,#b1ff4e,#b6ff49,#baff45,#bdff42,#bfff40,#c0ff3f,#c1ff3e,#c2ff3d,#c2ff3d,#c3ff3c,#c3ff3c,#c3ff3c,#c2ff3d,#c0ff3f,#bfff40,#c0ff3f,#c3ff3c,#c9ff36,#d0ff2f,#d7ff28,#ddff22,#e0ff1f,#e0ff1f,#dfff20,#dbff24,#d7ff28,#d2ff2d,#cdff32,#c9ff36,#c5ff3a,#c3ff3c,#c3ff3c,#c4ff3b,#c7ff38,#cbff34,#cfff30,#d2ff2d)"></div><div style="top:37.00px;background:linear-gradient(90deg,#00ebff,#00ecff,#00ecff,#00edff,#00efff,#00f0ff,#00f2ff,#00f4ff,#00f6ff,#00f8ff,#00faff,#00fdff,#00ffff,#03fffc,#06fff9,#0afff5,#0ffff0,#14ffeb,#18ffe7,#1bffe4,#1effe1,#1fffe0,#22ffdd,#25ffda,#2affd5,#2fffd0,#35ffca,#39ffc6,#3effc1,#42ffbd,#47ffb8,#4dffb2,#55ffaa,#5effa1,#67ff98,#70ff8f,#78ff87,#7eff81,#82ff7d,#84ff7b,#85ff7a,#85ff7a,#85ff7a,#85ff7a,#86ff79,#87ff78,#88ff77,#8aff75,#8cff73,#90ff6f,#93ff6c,#97ff68,#9aff65,#9dff62,#9fff60,#a0ff5f,#a0ff5f,#a0ff5f,#a0ff5f,#a0ff5f,#a0ff5f,#9fff60,#9eff61,#9dff62,#9cff63,#9eff61,#a2ff5d,#a8ff57,#afff50,#b6ff49,#bcff43,#c0ff3f,#c1ff3e,#c1ff3e,#bfff40,#bcff43,#b8ff47,#b4ff4b,#b0ff4f,#adff52,#abff54,#acff53,#adff52,#b1ff4e,#b5ff4a,#b9ff46,#bcff43)"></div><div style="top:38.00px;background:linear-gradient(90deg,#00e5ff,#00e5ff,#00e5ff,#00e6ff,#00e7ff,#00e8ff,#00e9ff,#00eaff,#00ecff,#00edff,#00efff,#00f1ff,#00f2ff,#00f4ff,#00f6ff,#00f9ff,#00feff,#03fffc,#08fff7,#0bfff4,#0efff1,#11ffee,#13ffec,#15ffea,#17ffe8,#1bffe4,#1effe1,#22ffdd,#26ffd9,#2affd5,#2fffd0,#36ffc9,#3dffc2,#45ffba,#4dffb2,#54ffab,#5bffa4,#5fffa0,#63ff9c,#65ff9a,#66ff99,#67ff98,#68ff97,#68ff97,#69ff96,#6bff94,#6cff93,#6eff91,#70ff8f,#72ff8d,#74ff8b,#77ff88,#7aff85,#7cff83,#7eff81,#7fff80,#7fff80,#7fff80,#7fff80,#7eff81,#7eff81,#7dff82,#7cff83,#7bff84,#7bff84,#7cff83,#80ff7f,#85ff7a,#8bff74,#91ff6e,#97ff68,#9bff64,#9dff62,#9dff62,#9cff63,#9aff65,#97ff68,#93ff6c,#90ff6f,#8dff72,#8cff73,#8cff73,#8dff72,#90ff6f,#94ff6b,#97ff68,#9aff65)"></div><div style="top:39.00px;background:linear-gradient(90deg,#1effe1,#10ffef,#00fbff,#00e8ff,#00dbff,#00d3ff,#00ceff,#00cbff,#00cbff,#00cdff,#00d3ff,#00d9ff,#00dfff,#00e3ff,#00e5ff,#00e7ff,#00ecff,#00f1ff,#00f5ff,#00f6ff,#00f5ff,#00f3ff,#00f3ff,#00f7ff,#02fffd,#0dfff2,#16ffe9,#19ffe6,#18ffe7,#18ffe7,#1bffe4,#24ffdb,#32ffcd,#42ffbd,#4dffb2,#52ffad,#50ffaf,#49ffb6,#41ffbe,#39ffc6,#34ffcb,#35ffca,#39ffc6,#3dffc2,#40ffbf,#44ffbb,#4dffb2,#58ffa7,#62ff9d,#68ff97,#6cff93,#72ff8d,#7bff84,#86ff79,#92ff6d,#9aff65,#9dff62,#97ff68,#87ff78,#70ff8f,#5cffa3,#53ffac,#57ffa8,#5effa1,#62ff9d,#5cffa3,#52ffad,#4cffb3,#4dffb2,#53ffac,#5affa5,#60ff9f,#65ff9a,#6eff91,#76ff89,#7aff85,#73ff8c,#64ff9b,#54ffab,#4affb5,#45ffba,#43ffbc,#44ffbb,#45ffba,#49ffb6,#4effb1,#52ffad)"></div><div style="top:40.00px;background:linear-gradient(90deg,#16ffe9,#0afff5,#00f6ff,#00e4ff,#00d7ff,#00ceff,#00c8ff,#00c5ff,#00c4ff,#00c8ff,#00ceff,#00d4ff,#00d7ff,#00d8ff,#00d7ff,#00d6ff,#00d7ff,#00daff,#00deff,#00e2ff,#00e6ff,#00e8ff,#00eaff,#00f0ff,#00f9ff,#05fffa,#0cfff3,#0efff1,#0cfff3,#0afff5,#0bfff4,#10ffef,#1affe5,#25ffda,#2dffd2,#30ffcf,#2fffd0,#2effd1,#2effd1,#2bffd4,#28ffd7,#25ffda,#25ffda,#26ffd9,#25ffda,#27ffd8,#2dffd2,#38ffc7,#43ffbc,#4cffb3,#53ffac,#5bffa4,#63ff9c,#6bff94,#72ff8d,#78ff87,#7bff84,#77ff88,#6bff94,#58ffa7,#46ffb9,#3fffc0,#41ffbe,#47ffb8,#47ffb8,#3dffc2,#30ffcf,#27ffd8,#28ffd7,#31ffce,#3cffc3,#45ffba,#4dffb2,#56ffa9,#5fffa0,#62ff9d,#5affa5,#49ffb6,#37ffc8,#2affd5,#27ffd8,#2bffd4,#30ffcf,#34ffcb,#37ffc8,#39ffc6,#3bffc4)"></div><div style="top:41.00px;background:linear-gradient(90deg,#0ffff0,#04fffb,#00f2ff,#00e1ff,#00d5ff,#00cdff,#00c7ff,#00c3ff,#00c3ff,#00c6ff,#00cbff,#00d0ff,#00d3ff,#00d3ff,#00d0ff,#00ccff,#00c9ff,#00c8ff,#00ccff,#00d3ff,#00daff,#00e1ff,#00e5ff,#00eaff,#00f1ff,#00f9ff,#00feff,#01fffe,#00ffff,#00ffff,#00ffff,#03fffc,#08fff7,#10ffef,#15ffea,#17ffe8,#17ffe8,#1affe5,#1effe1,#1effe1,#1affe5,#15ffea,#12ffed,#11ffee,#10ffef,#11ffee,#15ffea,#1effe1,#2affd5,#35ffca,#40ffbf,#47ffb8,#4cffb3,#4dffb2,#4effb1,#50ffaf,#52ffad,#52ffad,#4cffb3,#41ffbe,#35ffca,#2fffd0,#31ffce,#35ffca,#32ffcd,#27ffd8,#19ffe6,#10ffef,#11ffee,#1dffe2,#2cffd3,#38ffc7,#42ffbd,#4affb5,#51ffae,#52ffad,#49ffb6,#36ffc9,#21ffde,#14ffeb,#14ffeb,#1dffe2,#29ffd6,#30ffcf,#32ffcd,#32ffcd,#31ffce)"></div><div style="top:42.00px;background:linear-gradient(90deg,#0dfff2,#01fffe,#00efff,#00e0ff,#00d5ff,#00ceff,#00caff,#00c6ff,#00c5ff,#00c7ff,#00cbff,#00cfff,#00d2ff,#00d2ff,#00cfff,#00c9ff,#00c3ff,#00c0ff,#00c3ff,#00cbff,#00d6ff,#00dfff,#00e4ff,#00e7ff,#00eaff,#00edff,#00f0ff,#00f1ff,#00f2ff,#00f4ff,#00f5ff,#00f6ff,#00faff,#00ffff,#04fffb,#05fffa,#06fff9,#09fff6,#0efff1,#0ffff0,#09fff6,#02fffd,#00feff,#00feff,#01fffe,#03fffc,#07fff8,#0ffff0,#1affe5,#26ffd9,#32ffcd,#38ffc7,#38ffc7,#32ffcd,#2cffd3,#29ffd6,#2affd5,#2effd1,#2fffd0,#2cffd3,#28ffd7,#26ffd9,#27ffd8,#29ffd6,#25ffda,#1bffe4,#0efff1,#07fff8,#0afff5,#17ffe8,#28ffd7,#35ffca,#3dffc2,#43ffbc,#48ffb7,#49ffb6,#40ffbf,#2dffd2,#16ffe9,#07fff8,#07fff8,#13ffec,#22ffdd,#2cffd3,#30ffcf,#2fffd0,#2dffd2)"></div><div style="top:43.00px;background:linear-gradient(90deg,#0ffff0,#01fffe,#00eeff,#00deff,#00d6ff,#00d2ff,#00d0ff,#00cdff,#00cbff,#00caff,#00cbff,#00cfff,#00d2ff,#00d3ff,#00d1ff,#00caff,#00c2ff,#00bdff,#00c0ff,#00caff,#00d8ff,#00e2ff,#00e8ff,#00e9ff,#00e7ff,#00e5ff,#00e3ff,#00e3ff,#00e5ff,#00e7ff,#00e9ff,#00eaff,#00edff,#00f0ff,#00f3ff,#00f4ff,#00f4ff,#00f8ff,#00fcff,#00fcff,#00f6ff,#00efff,#00ecff,#00f0ff,#00f7ff,#00fdff,#03fffc,#09fff6,#11ffee,#1cffe3,#27ffd8,#2cffd3,#28ffd7,#1dffe2,#12ffed,#0bfff4,#0bfff4,#12ffed,#19ffe6,#1dffe2,#1fffe0,#20ffdf,#21ffde,#21ffde,#1dffe2,#15ffea,#0dfff2,#0afff5,#0ffff0,#1dffe2,#2cffd3,#37ffc8,#3cffc3,#3fffc0,#43ffbc,#45ffba,#40ffbf,#2fffd0,#18ffe7,#06fff9,#02fffd,#0bfff4,#19ffe6,#24ffdb,#28ffd7,#28ffd7,#27ffd8)"></div><div style="top:44.00px;background:linear-gradient(90deg,#14ffeb,#04fffb,#00edff,#00dcff,#00d5ff,#00d6ff,#00d7ff,#00d6ff,#00d2ff,#00ceff,#00cbff,#00cdff,#00d0ff,#00d2ff,#00d0ff,#00c8ff,#00bfff,#00bbff,#00c0ff,#00cdff,#00ddff,#00eaff,#00f0ff,#00eeff,#00e8ff,#00e1ff,#00dbff,#00d8ff,#00d8ff,#00daff,#00dcff,#00ddff,#00dfff,#00e1ff,#00e3ff,#00e3ff,#00e4ff,#00e8ff,#00ebff,#00ebff,#00e5ff,#00deff,#00dfff,#00e7ff,#00f4ff,#00feff,#06fff9,#09fff6,#0dfff2,#14ffeb,#1cffe3,#20ffdf,#1bffe4,#10ffef,#03fffc,#00faff,#00faff,#02fffd,#0cfff3,#14ffeb,#1affe5,#1cffe3,#1dffe2,#1affe5,#16ffe9,#12ffed,#10ffef,#12ffed,#1affe5,#27ffd8,#33ffcc,#39ffc6,#3affc5,#3bffc4,#3fffc0,#45ffba,#45ffba,#39ffc6,#24ffdb,#10ffef,#06fff9,#08fff7,#0ffff0,#16ffe9,#19ffe6,#19ffe6,#19ffe6)"></div><div style="top:45.00px;background:linear-gradient(90deg,#1affe5,#06fff9,#00ecff,#00d9ff,#00d3ff,#00d7ff,#00ddff,#00ddff,#00d9ff,#00d1ff,#00cbff,#00c9ff,#00cbff,#00cdff,#00caff,#00c3ff,#00bbff,#00baff,#00c2ff,#00d2ff,#00e3ff,#00f0ff,#00f5ff,#00f2ff,#00eaff,#00e0ff,#00d7ff,#00d1ff,#00ceff,#00cdff,#00cfff,#00d2ff,#00d4ff,#00d6ff,#00d5ff,#00d5ff,#00d6ff,#00dbff,#00deff,#00ddff,#00d6ff,#00d0ff,#00d4ff,#00e2ff,#00f4ff,#04fffb,#0afff5,#0afff5,#08fff7,#0afff5,#0ffff0,#13ffec,#11ffee,#08fff7,#00fdff,#00f7ff,#00f8ff,#00feff,#08fff7,#11ffee,#16ffe9,#18ffe7,#16ffe9,#13ffec,#0ffff0,#0ffff0,#12ffed,#19ffe6,#24ffdb,#2fffd0,#36ffc9,#38ffc7,#35ffca,#35ffca,#3affc5,#44ffbb,#48ffb7,#42ffbd,#31ffce,#1dffe2,#0efff1,#07fff8,#07fff8,#07fff8,#07fff8,#06fff9,#05fffa)"></div><div style="top:46.00px;background:linear-gradient(90deg,#19ffe6,#04fffb,#00e8ff,#00d4ff,#00cfff,#00d5ff,#00deff,#00e1ff,#00ddff,#00d3ff,#00caff,#00c5ff,#00c5ff,#00c4ff,#00c1ff,#00baff,#00b6ff,#00b9ff,#00c4ff,#00d5ff,#00e6ff,#00f0ff,#00f3ff,#00eeff,#00e5ff,#00dbff,#00d3ff,#00ccff,#00c6ff,#00c3ff,#00c5ff,#00caff,#00d0ff,#00d2ff,#00d1ff,#00cfff,#00d0ff,#00d4ff,#00d6ff,#00d1ff,#00c9ff,#00c4ff,#00caff,#00ddff,#00f4ff,#06fff9,#0cfff3,#08fff7,#00ffff,#00fcff,#01fffe,#06fff9,#08fff7,#06fff9,#02fffd,#00ffff,#02fffd,#07fff8,#0dfff2,#11ffee,#13ffec,#12ffed,#0dfff2,#08fff7,#05fffa,#08fff7,#10ffef,#1bffe4,#26ffd9,#2effd1,#32ffcd,#31ffce,#2dffd2,#2cffd3,#32ffcd,#3cffc3,#44ffbb,#43ffbc,#37ffc8,#25ffda,#14ffeb,#08fff7,#02fffd,#00fcff,#00f7ff,#00f3ff,#00f1ff)"></div><div style="top:47.00px;background:linear-gradient(90deg,#0efff1,#00faff,#00e0ff,#00cdff,#00c7ff,#00ceff,#00d9ff,#00deff,#00dbff,#00d2ff,#00c8ff,#00c1ff,#00beff,#00bbff,#00b6ff,#00b0ff,#00aeff,#00b4ff,#00c2ff,#00d3ff,#00e1ff,#00e7ff,#00e5ff,#00dfff,#00d8ff,#00d2ff,#00cdff,#00c7ff,#00c1ff,#00bdff,#00c0ff,#00c8ff,#00d1ff,#00d6ff,#00d5ff,#00d3ff,#00d3ff,#00d4ff,#00d2ff,#00c9ff,#00bdff,#00b9ff,#00c1ff,#00d7ff,#00f0ff,#03fffc,#09fff6,#02fffd,#00f6ff,#00f0ff,#00f3ff,#00f9ff,#00ffff,#04fffb,#06fff9,#09fff6,#0cfff3,#10ffef,#13ffec,#14ffeb,#11ffee,#0cfff3,#04fffb,#00fbff,#00f7ff,#00fbff,#06fff9,#13ffec,#1fffe0,#26ffd9,#29ffd6,#26ffd9,#21ffde,#1effe1,#21ffde,#2affd5,#34ffcb,#38ffc7,#32ffcd,#25ffda,#16ffe9,#0afff5,#01fffe,#00f7ff,#00efff,#00e9ff,#00e6ff)"></div><div style="top:48.00px;background:linear-gradient(90deg,#00fbff,#00ebff,#00d5ff,#00c3ff,#00bcff,#00c1ff,#00cbff,#00d1ff,#00d0ff,#00caff,#00c3ff,#00bdff,#00b9ff,#00b4ff,#00adff,#00a6ff,#00a3ff,#00aaff,#00b9ff,#00c9ff,#00d5ff,#00d8ff,#00d3ff,#00ccff,#00c8ff,#00c7ff,#00c8ff,#00c6ff,#00c0ff,#00bcff,#00bfff,#00c9ff,#00d5ff,#00dcff,#00ddff,#00dbff,#00daff,#00d8ff,#00d0ff,#00c3ff,#00b6ff,#00b1ff,#00bbff,#00d1ff,#00e9ff,#00fbff,#00ffff,#00f8ff,#00eeff,#00e7ff,#00e8ff,#00efff,#00f6ff,#00feff,#06fff9,#0cfff3,#11ffee,#16ffe9,#17ffe8,#16ffe9,#11ffee,#09fff6,#00fdff,#00f2ff,#00ecff,#00eeff,#00f8ff,#06fff9,#11ffee,#18ffe7,#1affe5,#16ffe9,#10ffef,#0bfff4,#0bfff4,#11ffee,#1cffe3,#24ffdb,#25ffda,#1dffe2,#13ffec,#0bfff4,#03fffc,#00f9ff,#00efff,#00e8ff,#00e5ff)"></div><div style="top:49.00px;background:linear-gradient(90deg,#00e7ff,#00dbff,#00caff,#00b9ff,#00b0ff,#00b0ff,#00b5ff,#00baff,#00bbff,#00bbff,#00baff,#00b9ff,#00b7ff,#00b1ff,#00a7ff,#009dff,#0099ff,#009eff,#00acff,#00bcff,#00c7ff,#00c9ff,#00c4ff,#00beff,#00bdff,#00c1ff,#00c7ff,#00c9ff,#00c5ff,#00c0ff,#00c2ff,#00ccff,#00d7ff,#00deff,#00e0ff,#00deff,#00dcff,#00d8ff,#00cfff,#00c0ff,#00b3ff,#00b0ff,#00baff,#00cdff,#00e1ff,#00f0ff,#00f4ff,#00efff,#00e6ff,#00e1ff,#00e1ff,#00e5ff,#00ecff,#00f6ff,#00ffff,#07fff8,#0dfff2,#12ffed,#15ffea,#15ffea,#11ffee,#0afff5,#00fdff,#00f0ff,#00e5ff,#00e3ff,#00e9ff,#00f4ff,#00feff,#05fffa,#05fffa,#00ffff,#00f8ff,#00f2ff,#00f1ff,#00f7ff,#03fffc,#0ffff0,#14ffeb,#12ffed,#0ffff0,#0cfff3,#07fff8,#00fdff,#00f4ff,#00eeff,#00edff)"></div><div style="top:50.00px;background:linear-gradient(90deg,#00d7ff,#00cfff,#00c2ff,#00b3ff,#00a7ff,#00a1ff,#00a0ff,#00a1ff,#00a4ff,#00a9ff,#00b0ff,#00b6ff,#00b7ff,#00b2ff,#00a7ff,#009bff,#0094ff,#0097ff,#00a4ff,#00b4ff,#00c0ff,#00c2ff,#00bfff,#00bbff,#00bdff,#00c5ff,#00ceff,#00d1ff,#00cdff,#00c6ff,#00c5ff,#00caff,#00d2ff,#00d8ff,#00d8ff,#00d6ff,#00d4ff,#00d0ff,#00c9ff,#00bdff,#00b4ff,#00b3ff,#00bdff,#00ccff,#00dbff,#00e4ff,#00e7ff,#00e4ff,#00dfff,#00dbff,#00daff,#00dcff,#00e2ff,#00ecff,#00f6ff,#00fcff,#01fffe,#06fff9,#0afff5,#0efff1,#10ffef,#0dfff2,#03fffc,#00f4ff,#00e5ff,#00dcff,#00dcff,#00e2ff,#00e8ff,#00eaff,#00e8ff,#00e2ff,#00dcff,#00d9ff,#00dbff,#00e3ff,#00f0ff,#00fdff,#04fffb,#06fff9,#08fff7,#0afff5,#09fff6,#02fffd,#00faff,#00f9ff,#00fbff)"></div><div style="top:51.00px;background:linear-gradient(90deg,#00ccff,#00c7ff,#00c0ff,#00b3ff,#00a6ff,#009bff,#0093ff,#0090ff,#0092ff,#009bff,#00a9ff,#00b4ff,#00b8ff,#00b5ff,#00abff,#009eff,#0097ff,#0099ff,#00a5ff,#00b5ff,#00c0ff,#00c4ff,#00c3ff,#00c3ff,#00c8ff,#00d2ff,#00dbff,#00dcff,#00d4ff,#00c9ff,#00c3ff,#00c2ff,#00c6ff,#00c7ff,#00c5ff,#00c2ff,#00c2ff,#00c1ff,#00beff,#00b8ff,#00b4ff,#00b7ff,#00c1ff,#00cdff,#00d6ff,#00dcff,#00ddff,#00dbff,#00d7ff,#00d4ff,#00d2ff,#00d3ff,#00daff,#00e3ff,#00ecff,#00f0ff,#00f1ff,#00f2ff,#00f7ff,#00ffff,#07fff8,#0bfff4,#07fff8,#00faff,#00e8ff,#00d9ff,#00d2ff,#00d0ff,#00d0ff,#00cdff,#00c8ff,#00c3ff,#00c2ff,#00c5ff,#00ccff,#00d8ff,#00e6ff,#00f0ff,#00f5ff,#00f7ff,#00fcff,#04fffb,#07fff8,#05fffa,#02fffd,#04fffb,#09fff6)"></div><div style="top:52.00px;background:linear-gradient(90deg,#00c4ff,#00c3ff,#00c1ff,#00b9ff,#00acff,#009fff,#0093ff,#008aff,#008aff,#0093ff,#00a2ff,#00b0ff,#00b7ff,#00b5ff,#00adff,#00a3ff,#009cff,#009fff,#00acff,#00bbff,#00c6ff,#00cbff,#00cdff,#00d0ff,#00d7ff,#00e0ff,#00e6ff,#00e3ff,#00d7ff,#00c8ff,#00bcff,#00b6ff,#00b4ff,#00b1ff,#00aeff,#00abff,#00acff,#00afff,#00b1ff,#00b1ff,#00b2ff,#00b8ff,#00c2ff,#00ccff,#00d3ff,#00d6ff,#00d5ff,#00d2ff,#00cdff,#00c8ff,#00c6ff,#00c8ff,#00cfff,#00d9ff,#00e0ff,#00e1ff,#00deff,#00dcff,#00e0ff,#00e9ff,#00f6ff,#01fffe,#04fffb,#00faff,#00e9ff,#00d7ff,#00caff,#00c1ff,#00baff,#00b2ff,#00abff,#00aaff,#00aeff,#00b9ff,#00c6ff,#00d4ff,#00dfff,#00e5ff,#00e5ff,#00e6ff,#00ecff,#00f7ff,#01fffe,#05fffa,#08fff7,#0dfff2,#14ffeb)"></div><div style="top:53.00px;background:linear-gradient(90deg,#00bfff,#00c1ff,#00c4ff,#00c1ff,#00b7ff,#00a9ff,#009bff,#008eff,#008aff,#008fff,#009bff,#00a7ff,#00afff,#00b1ff,#00abff,#00a3ff,#009fff,#00a4ff,#00b2ff,#00c2ff,#00ceff,#00d4ff,#00d6ff,#00daff,#00e0ff,#00e6ff,#00e8ff,#00e1ff,#00d3ff,#00c1ff,#00b2ff,#00a8ff,#00a3ff,#009eff,#009aff,#0099ff,#009bff,#00a0ff,#00a6ff,#00aaff,#00b0ff,#00b8ff,#00c2ff,#00cbff,#00d1ff,#00d3ff,#00d0ff,#00c9ff,#00bfff,#00b7ff,#00b4ff,#00b7ff,#00bfff,#00c9ff,#00cfff,#00cfff,#00caff,#00c6ff,#00c9ff,#00d3ff,#00e1ff,#00efff,#00f5ff,#00f1ff,#00e3ff,#00d2ff,#00c2ff,#00b4ff,#00a8ff,#009dff,#0098ff,#009cff,#00a7ff,#00b7ff,#00c5ff,#00d1ff,#00d7ff,#00d7ff,#00d3ff,#00d1ff,#00d7ff,#00e5ff,#00f4ff,#00ffff,#08fff7,#10ffef,#17ffe8)"></div><div style="top:54.00px;background:linear-gradient(90deg,#00bcff,#00c1ff,#00c7ff,#00c7ff,#00c0ff,#00b3ff,#00a4ff,#0096ff,#008dff,#008bff,#0091ff,#009aff,#00a3ff,#00a8ff,#00a6ff,#00a0ff,#009fff,#00a8ff,#00b9ff,#00caff,#00d6ff,#00dcff,#00ddff,#00deff,#00dfff,#00e0ff,#00ddff,#00d4ff,#00c6ff,#00b5ff,#00a7ff,#009dff,#0096ff,#0092ff,#008fff,#008eff,#0091ff,#0097ff,#009fff,#00a8ff,#00b1ff,#00bbff,#00c6ff,#00cfff,#00d4ff,#00d4ff,#00cdff,#00c0ff,#00b0ff,#00a4ff,#00a0ff,#00a3ff,#00abff,#00b3ff,#00b9ff,#00baff,#00b8ff,#00b6ff,#00b8ff,#00c1ff,#00cfff,#00dcff,#00e3ff,#00e0ff,#00d6ff,#00c8ff,#00b9ff,#00aaff,#009cff,#0092ff,#0091ff,#009aff,#00abff,#00bcff,#00c8ff,#00cdff,#00cdff,#00c8ff,#00c0ff,#00bcff,#00c2ff,#00d2ff,#00e5ff,#00f4ff,#01fffe,#0afff5,#11ffee)"></div><div style="top:55.00px;background:linear-gradient(90deg,#00bcff,#00c2ff,#00caff,#00cbff,#00c4ff,#00b9ff,#00abff,#009cff,#0090ff,#0088ff,#0087ff,#008cff,#0096ff,#009eff,#00a0ff,#009eff,#00a0ff,#00acff,#00c1ff,#00d4ff,#00e0ff,#00e3ff,#00e2ff,#00deff,#00d9ff,#00d3ff,#00ccff,#00c1ff,#00b4ff,#00a7ff,#009bff,#0093ff,#008eff,#008cff,#008aff,#008aff,#008cff,#0092ff,#009cff,#00a9ff,#00b6ff,#00c2ff,#00cdff,#00d6ff,#00dbff,#00d9ff,#00cdff,#00b9ff,#00a4ff,#0095ff,#008fff,#0091ff,#0096ff,#009cff,#00a1ff,#00a6ff,#00aaff,#00adff,#00b0ff,#00b7ff,#00c2ff,#00cbff,#00d0ff,#00cdff,#00c5ff,#00baff,#00aeff,#00a1ff,#0095ff,#008dff,#0090ff,#00a0ff,#00b4ff,#00c3ff,#00caff,#00c9ff,#00c3ff,#00baff,#00b0ff,#00abff,#00b1ff,#00c2ff,#00d5ff,#00e6ff,#00f2ff,#00fbff,#02fffd)"></div><div style="top:56.00px;background:linear-gradient(90deg,#00bdff,#00c3ff,#00cbff,#00cdff,#00c6ff,#00bbff,#00aeff,#00a0ff,#0092ff,#0086ff,#0080ff,#0083ff,#008dff,#0098ff,#009dff,#009eff,#00a2ff,#00b1ff,#00c7ff,#00dcff,#00e7ff,#00e8ff,#00e4ff,#00ddff,#00d4ff,#00caff,#00bfff,#00b3ff,#00a7ff,#009cff,#0093ff,#008dff,#008aff,#0089ff,#0089ff,#0088ff,#008aff,#008fff,#009bff,#00abff,#00bbff,#00c8ff,#00d3ff,#00ddff,#00e1ff,#00ddff,#00ceff,#00b6ff,#009dff,#008cff,#0085ff,#0086ff,#0088ff,#008bff,#0091ff,#009aff,#00a2ff,#00a9ff,#00adff,#00b3ff,#00bbff,#00c1ff,#00c3ff,#00c0ff,#00b8ff,#00afff,#00a6ff,#009bff,#0090ff,#008bff,#0091ff,#00a4ff,#00b9ff,#00c7ff,#00caff,#00c4ff,#00bbff,#00b0ff,#00a6ff,#00a1ff,#00a7ff,#00b7ff,#00caff,#00daff,#00e5ff,#00eeff,#00f4ff)"></div></div><div class="fld" style="left:250.3px;top:47.1px"><div style="top:0.00px;background:linear-gradient(90deg,#ff3700,#ff3700,#ff3600,#ff3400,#ff3200,#ff3000,#ff2f00,#ff2e00,#ff2e00,#ff2f00,#ff3000,#ff3200,#ff3400,#ff3600,#ff3700,#ff3700,#ff3600,#ff3400,#ff3100,#ff2c00,#ff2800,#ff2400,#ff2100,#ff1f00,#ff1f00,#ff2100,#ff2500,#ff2a00,#ff2f00,#ff3400,#ff3900,#ff3e00,#ff4200,#ff4500,#ff4900,#ff4d00,#ff5200,#ff5700,#ff5c00,#ff6200,#ff6700,#ff6b00,#ff6e00,#ff6f00,#ff6f00,#ff6e00,#ff6d00,#ff6d00,#ff6c00,#ff6d00,#ff6e00,#ff6f00,#ff7100,#ff7200,#ff7300,#ff7400,#ff7500,#ff7500,#ff7600,#ff7600,#ff7600,#ff7600,#ff7500,#ff7300,#ff7100,#ff6f00,#ff6c00,#ff6900,#ff6700,#ff6400,#ff6300,#ff6100,#ff6000,#ff5f00,#ff5e00,#ff5d00,#ff5c00,#ff5b00,#ff5a00,#ff5900,#ff5800,#ff5800,#ff5800,#ff5800,#ff5800,#ff5900,#ff5900)"></div><div style="top:1.00px;background:linear-gradient(90deg,#ff3500,#ff3500,#ff3400,#ff3300,#ff3100,#ff2f00,#ff2e00,#ff2d00,#ff2d00,#ff2e00,#ff3000,#ff3200,#ff3400,#ff3600,#ff3700,#ff3700,#ff3600,#ff3300,#ff3000,#ff2b00,#ff2700,#ff2200,#ff1f00,#ff1d00,#ff1d00,#ff1f00,#ff2200,#ff2700,#ff2d00,#ff3200,#ff3700,#ff3c00,#ff4000,#ff4300,#ff4700,#ff4b00,#ff5000,#ff5500,#ff5b00,#ff6100,#ff6600,#ff6a00,#ff6d00,#ff6e00,#ff6e00,#ff6d00,#ff6c00,#ff6b00,#ff6b00,#ff6b00,#ff6c00,#ff6d00,#ff6f00,#ff7000,#ff7100,#ff7100,#ff7200,#ff7200,#ff7200,#ff7200,#ff7200,#ff7100,#ff7100,#ff6f00,#ff6d00,#ff6b00,#ff6800,#ff6600,#ff6300,#ff6200,#ff6000,#ff5f00,#ff5f00,#ff5e00,#ff5d00,#ff5d00,#ff5c00,#ff5b00,#ff5a00,#ff5900,#ff5900,#ff5900,#ff5900,#ff5900,#ff5900,#ff5a00,#ff5a00)"></div><div style="top:2.00px;background:linear-gradient(90deg,#ff3400,#ff3400,#ff3300,#ff3100,#ff2f00,#ff2e00,#ff2c00,#ff2c00,#ff2d00,#ff2e00,#ff3000,#ff3200,#ff3400,#ff3600,#ff3700,#ff3700,#ff3600,#ff3300,#ff2f00,#ff2a00,#ff2500,#ff2000,#ff1d00,#ff1b00,#ff1a00,#ff1c00,#ff2000,#ff2400,#ff2a00,#ff2f00,#ff3400,#ff3900,#ff3d00,#ff4100,#ff4500,#ff4900,#ff4e00,#ff5300,#ff5900,#ff5f00,#ff6400,#ff6800,#ff6b00,#ff6c00,#ff6c00,#ff6c00,#ff6b00,#ff6a00,#ff6900,#ff6a00,#ff6a00,#ff6b00,#ff6c00,#ff6d00,#ff6e00,#ff6e00,#ff6e00,#ff6d00,#ff6d00,#ff6d00,#ff6c00,#ff6c00,#ff6b00,#ff6900,#ff6700,#ff6500,#ff6300,#ff6000,#ff5e00,#ff5d00,#ff5c00,#ff5c00,#ff5c00,#ff5c00,#ff5c00,#ff5c00,#ff5c00,#ff5b00,#ff5b00,#ff5b00,#ff5a00,#ff5a00,#ff5b00,#ff5b00,#ff5b00,#ff5c00,#ff5c00)"></div><div style="top:3.00px;background:linear-gradient(90deg,#ff3300,#ff3300,#ff3200,#ff3000,#ff2e00,#ff2d00,#ff2b00,#ff2b00,#ff2c00,#ff2d00,#ff3000,#ff3200,#ff3400,#ff3600,#ff3700,#ff3700,#ff3600,#ff3200,#ff2e00,#ff2900,#ff2400,#ff1f00,#ff1b00,#ff1800,#ff1800,#ff1a00,#ff1d00,#ff2100,#ff2700,#ff2c00,#ff3100,#ff3600,#ff3a00,#ff3e00,#ff4200,#ff4600,#ff4b00,#ff5000,#ff5600,#ff5c00,#ff6100,#ff6600,#ff6900,#ff6a00,#ff6a00,#ff6a00,#ff6900,#ff6800,#ff6800,#ff6800,#ff6900,#ff6900,#ff6a00,#ff6b00,#ff6b00,#ff6a00,#ff6a00,#ff6900,#ff6800,#ff6700,#ff6600,#ff6500,#ff6300,#ff6200,#ff6000,#ff5e00,#ff5b00,#ff5900,#ff5800,#ff5800,#ff5800,#ff5800,#ff5900,#ff5a00,#ff5b00,#ff5c00,#ff5c00,#ff5c00,#ff5c00,#ff5c00,#ff5c00,#ff5c00,#ff5d00,#ff5d00,#ff5e00,#ff5e00,#ff5e00)"></div><div style="top:4.00px;background:linear-gradient(90deg,#ff3300,#ff3300,#ff3100,#ff3000,#ff2d00,#ff2c00,#ff2a00,#ff2a00,#ff2b00,#ff2d00,#ff2f00,#ff3200,#ff3400,#ff3600,#ff3700,#ff3700,#ff3500,#ff3200,#ff2e00,#ff2800,#ff2300,#ff1d00,#ff1900,#ff1600,#ff1500,#ff1700,#ff1a00,#ff1e00,#ff2300,#ff2900,#ff2e00,#ff3300,#ff3700,#ff3b00,#ff3f00,#ff4300,#ff4800,#ff4d00,#ff5300,#ff5800,#ff5e00,#ff6200,#ff6500,#ff6700,#ff6800,#ff6800,#ff6700,#ff6600,#ff6600,#ff6600,#ff6700,#ff6800,#ff6800,#ff6900,#ff6800,#ff6700,#ff6600,#ff6400,#ff6200,#ff6000,#ff5f00,#ff5d00,#ff5c00,#ff5a00,#ff5800,#ff5600,#ff5400,#ff5200,#ff5100,#ff5200,#ff5300,#ff5400,#ff5600,#ff5800,#ff5a00,#ff5b00,#ff5c00,#ff5d00,#ff5e00,#ff5e00,#ff5e00,#ff5f00,#ff5f00,#ff6000,#ff6000,#ff6100,#ff6100)"></div><div style="top:5.00px;background:linear-gradient(90deg,#ff3300,#ff3300,#ff3100,#ff2f00,#ff2d00,#ff2b00,#ff2a00,#ff2a00,#ff2b00,#ff2d00,#ff2f00,#ff3200,#ff3400,#ff3600,#ff3700,#ff3700,#ff3500,#ff3200,#ff2d00,#ff2700,#ff2100,#ff1c00,#ff1700,#ff1400,#ff1300,#ff1400,#ff1600,#ff1b00,#ff2000,#ff2600,#ff2b00,#ff3000,#ff3400,#ff3800,#ff3c00,#ff4000,#ff4400,#ff4900,#ff4e00,#ff5400,#ff5900,#ff5e00,#ff6100,#ff6300,#ff6400,#ff6400,#ff6400,#ff6400,#ff6400,#ff6500,#ff6500,#ff6600,#ff6700,#ff6700,#ff6600,#ff6400,#ff6200,#ff5f00,#ff5d00,#ff5b00,#ff5900,#ff5700,#ff5400,#ff5200,#ff5000,#ff4e00,#ff4c00,#ff4b00,#ff4b00,#ff4c00,#ff4d00,#ff5000,#ff5300,#ff5600,#ff5900,#ff5b00,#ff5d00,#ff5e00,#ff5f00,#ff5f00,#ff6000,#ff6100,#ff6100,#ff6200,#ff6200,#ff6300,#ff6300)"></div><div style="top:6.00px;background:linear-gradient(90deg,#ff3300,#ff3300,#ff3100,#ff2f00,#ff2d00,#ff2a00,#ff2900,#ff2900,#ff2a00,#ff2c00,#ff2e00,#ff3100,#ff3400,#ff3600,#ff3700,#ff3600,#ff3400,#ff3100,#ff2c00,#ff2600,#ff2000,#ff1a00,#ff1500,#ff1100,#ff1000,#ff1100,#ff1300,#ff1700,#ff1c00,#ff2200,#ff2800,#ff2d00,#ff3100,#ff3500,#ff3900,#ff3c00,#ff4000,#ff4400,#ff4900,#ff4f00,#ff5400,#ff5800,#ff5c00,#ff5f00,#ff6000,#ff6100,#ff6100,#ff6100,#ff6200,#ff6300,#ff6400,#ff6500,#ff6500,#ff6500,#ff6400,#ff6200,#ff5f00,#ff5c00,#ff5900,#ff5600,#ff5300,#ff5100,#ff4e00,#ff4c00,#ff4900,#ff4700,#ff4500,#ff4400,#ff4500,#ff4600,#ff4900,#ff4c00,#ff5000,#ff5400,#ff5700,#ff5a00,#ff5c00,#ff5e00,#ff5f00,#ff6000,#ff6100,#ff6200,#ff6300,#ff6300,#ff6400,#ff6400,#ff6400)"></div><div style="top:7.00px;background:linear-gradient(90deg,#ff3400,#ff3300,#ff3100,#ff2f00,#ff2c00,#ff2900,#ff2800,#ff2800,#ff2800,#ff2a00,#ff2d00,#ff2f00,#ff3200,#ff3400,#ff3500,#ff3400,#ff3200,#ff2f00,#ff2a00,#ff2400,#ff1d00,#ff1700,#ff1200,#ff0f00,#ff0d00,#ff0d00,#ff1000,#ff1400,#ff1900,#ff1e00,#ff2400,#ff2900,#ff2e00,#ff3200,#ff3500,#ff3800,#ff3b00,#ff3f00,#ff4300,#ff4800,#ff4d00,#ff5100,#ff5500,#ff5800,#ff5a00,#ff5c00,#ff5d00,#ff5d00,#ff5f00,#ff6000,#ff6100,#ff6200,#ff6300,#ff6200,#ff6100,#ff5f00,#ff5c00,#ff5800,#ff5400,#ff5100,#ff4e00,#ff4b00,#ff4800,#ff4600,#ff4300,#ff4100,#ff3f00,#ff3f00,#ff4000,#ff4200,#ff4500,#ff4900,#ff4d00,#ff5200,#ff5600,#ff5900,#ff5c00,#ff5e00,#ff5f00,#ff6000,#ff6100,#ff6200,#ff6300,#ff6300,#ff6400,#ff6400,#ff6400)"></div><div style="top:8.00px;background:linear-gradient(90deg,#ff3500,#ff3300,#ff3100,#ff2e00,#ff2a00,#ff2700,#ff2600,#ff2500,#ff2500,#ff2700,#ff2900,#ff2b00,#ff2e00,#ff2f00,#ff3000,#ff3000,#ff2e00,#ff2a00,#ff2500,#ff2000,#ff1a00,#ff1400,#ff0e00,#ff0b00,#ff0900,#ff0900,#ff0b00,#ff0f00,#ff1400,#ff1900,#ff1f00,#ff2400,#ff2900,#ff2d00,#ff2f00,#ff3200,#ff3400,#ff3700,#ff3a00,#ff3f00,#ff4300,#ff4700,#ff4b00,#ff4f00,#ff5200,#ff5400,#ff5500,#ff5700,#ff5900,#ff5b00,#ff5c00,#ff5e00,#ff5e00,#ff5e00,#ff5c00,#ff5a00,#ff5700,#ff5300,#ff4f00,#ff4c00,#ff4800,#ff4500,#ff4300,#ff4000,#ff3d00,#ff3b00,#ff3a00,#ff3900,#ff3b00,#ff3d00,#ff4100,#ff4600,#ff4a00,#ff4f00,#ff5300,#ff5700,#ff5a00,#ff5c00,#ff5e00,#ff5f00,#ff6000,#ff6100,#ff6200,#ff6300,#ff6300,#ff6300,#ff6300)"></div><div style="top:9.00px;background:linear-gradient(90deg,#ff3500,#ff3300,#ff3100,#ff2e00,#ff2a00,#ff2700,#ff2400,#ff2300,#ff2300,#ff2300,#ff2500,#ff2600,#ff2800,#ff2900,#ff2900,#ff2800,#ff2600,#ff2300,#ff1f00,#ff1a00,#ff1400,#ff0f00,#ff0a00,#ff0600,#ff0400,#ff0400,#ff0600,#ff0900,#ff0e00,#ff1400,#ff1a00,#ff1f00,#ff2300,#ff2700,#ff2900,#ff2a00,#ff2c00,#ff2e00,#ff3100,#ff3400,#ff3800,#ff3c00,#ff4000,#ff4400,#ff4700,#ff4a00,#ff4d00,#ff4f00,#ff5200,#ff5400,#ff5600,#ff5800,#ff5800,#ff5800,#ff5600,#ff5400,#ff5100,#ff4d00,#ff4900,#ff4600,#ff4300,#ff4000,#ff3d00,#ff3a00,#ff3800,#ff3600,#ff3500,#ff3500,#ff3600,#ff3900,#ff3d00,#ff4200,#ff4700,#ff4c00,#ff5100,#ff5500,#ff5800,#ff5a00,#ff5c00,#ff5d00,#ff5f00,#ff5f00,#ff6000,#ff6100,#ff6100,#ff6100,#ff6200)"></div><div style="top:10.00px;background:linear-gradient(90deg,#ff3400,#ff3200,#ff2f00,#ff2b00,#ff2700,#ff2400,#ff2100,#ff1f00,#ff1e00,#ff1d00,#ff1e00,#ff1f00,#ff2000,#ff2000,#ff2000,#ff2000,#ff1e00,#ff1b00,#ff1800,#ff1300,#ff0e00,#ff0900,#ff0500,#ff0100,#fe0000,#fe0000,#ff0000,#ff0400,#ff0800,#ff0e00,#ff1400,#ff1900,#ff1d00,#ff2000,#ff2200,#ff2300,#ff2400,#ff2500,#ff2700,#ff2900,#ff2d00,#ff3100,#ff3500,#ff3900,#ff3d00,#ff4100,#ff4400,#ff4700,#ff4a00,#ff4d00,#ff4f00,#ff5100,#ff5200,#ff5100,#ff5000,#ff4d00,#ff4a00,#ff4700,#ff4300,#ff4000,#ff3d00,#ff3a00,#ff3800,#ff3500,#ff3300,#ff3200,#ff3100,#ff3100,#ff3300,#ff3600,#ff3a00,#ff3f00,#ff4400,#ff4900,#ff4e00,#ff5200,#ff5500,#ff5800,#ff5a00,#ff5b00,#ff5c00,#ff5d00,#ff5e00,#ff5e00,#ff5e00,#ff5f00,#ff5f00)"></div><div style="top:11.00px;background:linear-gradient(90deg,#ff3300,#ff3000,#ff2d00,#ff2900,#ff2400,#ff2000,#ff1c00,#ff1a00,#ff1800,#ff1700,#ff1600,#ff1700,#ff1700,#ff1700,#ff1700,#ff1700,#ff1500,#ff1300,#ff1000,#ff0d00,#ff0900,#ff0400,#ff0000,#fb0000,#f90000,#f90000,#fa0000,#fd0000,#ff0300,#ff0800,#ff0e00,#ff1300,#ff1700,#ff1a00,#ff1b00,#ff1c00,#ff1c00,#ff1d00,#ff1e00,#ff2000,#ff2300,#ff2700,#ff2b00,#ff3000,#ff3500,#ff3900,#ff3d00,#ff4100,#ff4400,#ff4700,#ff4a00,#ff4b00,#ff4c00,#ff4b00,#ff4a00,#ff4700,#ff4400,#ff4100,#ff3d00,#ff3a00,#ff3800,#ff3500,#ff3300,#ff3100,#ff3000,#ff2e00,#ff2e00,#ff2f00,#ff3100,#ff3400,#ff3800,#ff3d00,#ff4200,#ff4700,#ff4b00,#ff4f00,#ff5300,#ff5500,#ff5700,#ff5900,#ff5a00,#ff5b00,#ff5b00,#ff5c00,#ff5c00,#ff5c00,#ff5d00)"></div><div style="top:12.00px;background:linear-gradient(90deg,#ff3100,#ff2e00,#ff2a00,#ff2500,#ff2100,#ff1c00,#ff1800,#ff1500,#ff1200,#ff1000,#ff0f00,#ff0e00,#ff0e00,#ff0e00,#ff0e00,#ff0e00,#ff0d00,#ff0c00,#ff0a00,#ff0700,#ff0300,#ff0000,#fb0000,#f70000,#f50000,#f40000,#f60000,#f80000,#fd0000,#ff0300,#ff0800,#ff0d00,#ff1100,#ff1400,#ff1500,#ff1600,#ff1600,#ff1600,#ff1800,#ff1a00,#ff1d00,#ff2100,#ff2600,#ff2b00,#ff2f00,#ff3400,#ff3900,#ff3d00,#ff4100,#ff4400,#ff4600,#ff4700,#ff4700,#ff4700,#ff4500,#ff4200,#ff3f00,#ff3c00,#ff3800,#ff3600,#ff3300,#ff3200,#ff3000,#ff2f00,#ff2d00,#ff2d00,#ff2d00,#ff2e00,#ff3000,#ff3300,#ff3700,#ff3c00,#ff4100,#ff4500,#ff4a00,#ff4d00,#ff5100,#ff5300,#ff5500,#ff5700,#ff5800,#ff5900,#ff5900,#ff5a00,#ff5a00,#ff5a00,#ff5a00)"></div><div style="top:13.00px;background:linear-gradient(90deg,#ff2e00,#ff2b00,#ff2700,#ff2200,#ff1e00,#ff1900,#ff1500,#ff1100,#ff0d00,#ff0b00,#ff0900,#ff0800,#ff0700,#ff0700,#ff0700,#ff0700,#ff0700,#ff0600,#ff0500,#ff0200,#ff0000,#fb0000,#f80000,#f40000,#f20000,#f10000,#f20000,#f50000,#f90000,#fe0000,#ff0400,#ff0900,#ff0d00,#ff0f00,#ff1100,#ff1100,#ff1200,#ff1200,#ff1400,#ff1600,#ff1a00,#ff1e00,#ff2300,#ff2800,#ff2d00,#ff3200,#ff3700,#ff3b00,#ff3f00,#ff4200,#ff4400,#ff4500,#ff4500,#ff4400,#ff4200,#ff3f00,#ff3c00,#ff3800,#ff3500,#ff3300,#ff3100,#ff3000,#ff2f00,#ff2e00,#ff2e00,#ff2d00,#ff2e00,#ff2f00,#ff3100,#ff3400,#ff3800,#ff3d00,#ff4100,#ff4500,#ff4900,#ff4d00,#ff5000,#ff5200,#ff5400,#ff5600,#ff5700,#ff5800,#ff5800,#ff5800,#ff5800,#ff5900,#ff5900)"></div><div style="top:14.00px;background:linear-gradient(90deg,#ff2a00,#ff2700,#ff2300,#ff1f00,#ff1b00,#ff1700,#ff1200,#ff0e00,#ff0b00,#ff0800,#ff0500,#ff0300,#ff0200,#ff0200,#ff0200,#ff0200,#ff0200,#ff0200,#ff0100,#ff0000,#fc0000,#f90000,#f60000,#f30000,#f10000,#f00000,#f10000,#f30000,#f70000,#fc0000,#ff0200,#ff0700,#ff0b00,#ff0d00,#ff0f00,#ff0f00,#ff0f00,#ff1000,#ff1100,#ff1300,#ff1700,#ff1b00,#ff2000,#ff2500,#ff2b00,#ff3000,#ff3500,#ff3a00,#ff3e00,#ff4100,#ff4300,#ff4400,#ff4300,#ff4200,#ff4000,#ff3d00,#ff3b00,#ff3800,#ff3500,#ff3400,#ff3200,#ff3200,#ff3100,#ff3100,#ff3100,#ff3100,#ff3100,#ff3300,#ff3500,#ff3800,#ff3b00,#ff3f00,#ff4300,#ff4700,#ff4a00,#ff4d00,#ff5000,#ff5300,#ff5500,#ff5600,#ff5800,#ff5800,#ff5900,#ff5800,#ff5800,#ff5800,#ff5900)"></div><div style="top:15.00px;background:linear-gradient(90deg,#ff2700,#ff2400,#ff2100,#ff1d00,#ff1900,#ff1500,#ff1100,#ff0d00,#ff0900,#ff0500,#ff0200,#ff0000,#fd0000,#fd0000,#fd0000,#fd0000,#fe0000,#fe0000,#fe0000,#fd0000,#fb0000,#f80000,#f50000,#f20000,#f00000,#ef0000,#f00000,#f20000,#f60000,#fb0000,#ff0100,#ff0500,#ff0900,#ff0c00,#ff0d00,#ff0d00,#ff0d00,#ff0e00,#ff0f00,#ff1100,#ff1400,#ff1900,#ff1e00,#ff2300,#ff2900,#ff2f00,#ff3400,#ff3900,#ff3d00,#ff4000,#ff4200,#ff4200,#ff4200,#ff4100,#ff3f00,#ff3d00,#ff3b00,#ff3900,#ff3700,#ff3600,#ff3600,#ff3600,#ff3600,#ff3600,#ff3600,#ff3600,#ff3700,#ff3800,#ff3a00,#ff3c00,#ff4000,#ff4300,#ff4600,#ff4900,#ff4c00,#ff4f00,#ff5200,#ff5400,#ff5600,#ff5800,#ff5900,#ff5a00,#ff5a00,#ff5a00,#ff5a00,#ff5a00,#ff5a00)"></div><div style="top:16.00px;background:linear-gradient(90deg,#ff2400,#ff2100,#ff1e00,#ff1b00,#ff1800,#ff1400,#ff1000,#ff0c00,#ff0800,#ff0400,#ff0000,#fc0000,#fb0000,#fa0000,#fa0000,#fb0000,#fc0000,#fc0000,#fc0000,#fb0000,#fa0000,#f70000,#f40000,#f10000,#ee0000,#ee0000,#ee0000,#f10000,#f50000,#f90000,#fe0000,#ff0400,#ff0800,#ff0b00,#ff0c00,#ff0c00,#ff0c00,#ff0c00,#ff0d00,#ff0f00,#ff1200,#ff1600,#ff1c00,#ff2200,#ff2700,#ff2d00,#ff3300,#ff3800,#ff3c00,#ff3e00,#ff4000,#ff4100,#ff4100,#ff4000,#ff3f00,#ff3d00,#ff3c00,#ff3a00,#ff3a00,#ff3a00,#ff3a00,#ff3b00,#ff3b00,#ff3c00,#ff3c00,#ff3d00,#ff3d00,#ff3e00,#ff4000,#ff4200,#ff4500,#ff4700,#ff4a00,#ff4d00,#ff4f00,#ff5200,#ff5400,#ff5700,#ff5900,#ff5b00,#ff5c00,#ff5d00,#ff5d00,#ff5d00,#ff5c00,#ff5c00,#ff5d00)"></div><div style="top:17.00px;background:linear-gradient(90deg,#ff2200,#ff1f00,#ff1d00,#ff1a00,#ff1700,#ff1300,#ff1000,#ff0b00,#ff0700,#ff0300,#fe0000,#fb0000,#f80000,#f80000,#f80000,#f90000,#fa0000,#fb0000,#fb0000,#fa0000,#f80000,#f60000,#f30000,#ef0000,#ed0000,#ec0000,#ed0000,#ef0000,#f30000,#f80000,#fd0000,#ff0300,#ff0700,#ff0a00,#ff0b00,#ff0b00,#ff0a00,#ff0a00,#ff0b00,#ff0d00,#ff1000,#ff1500,#ff1a00,#ff2000,#ff2600,#ff2c00,#ff3100,#ff3600,#ff3a00,#ff3d00,#ff3f00,#ff4000,#ff4000,#ff4000,#ff3f00,#ff3e00,#ff3e00,#ff3d00,#ff3d00,#ff3e00,#ff3f00,#ff4000,#ff4100,#ff4200,#ff4300,#ff4400,#ff4500,#ff4500,#ff4700,#ff4900,#ff4b00,#ff4d00,#ff4f00,#ff5100,#ff5400,#ff5600,#ff5800,#ff5a00,#ff5d00,#ff5e00,#ff6000,#ff6100,#ff6100,#ff6100,#ff6000,#ff6000,#ff6100)"></div><div style="top:18.00px;background:linear-gradient(90deg,#ff2100,#ff1e00,#ff1c00,#ff1a00,#ff1700,#ff1400,#ff1000,#ff0c00,#ff0700,#ff0200,#fd0000,#fa0000,#f70000,#f60000,#f60000,#f70000,#f80000,#f90000,#fa0000,#f90000,#f80000,#f50000,#f20000,#ee0000,#ec0000,#eb0000,#ec0000,#ee0000,#f20000,#f70000,#fc0000,#ff0200,#ff0600,#ff0800,#ff0a00,#ff0900,#ff0900,#ff0900,#ff0a00,#ff0c00,#ff0f00,#ff1400,#ff1900,#ff1f00,#ff2500,#ff2b00,#ff3000,#ff3500,#ff3800,#ff3b00,#ff3d00,#ff3e00,#ff3f00,#ff3f00,#ff3f00,#ff4000,#ff4000,#ff4100,#ff4200,#ff4300,#ff4500,#ff4600,#ff4800,#ff4900,#ff4a00,#ff4b00,#ff4b00,#ff4c00,#ff4e00,#ff4f00,#ff5100,#ff5300,#ff5500,#ff5700,#ff5900,#ff5b00,#ff5e00,#ff6000,#ff6200,#ff6400,#ff6600,#ff6700,#ff6800,#ff6800,#ff6800,#ff6900,#ff6a00)"></div><div style="top:19.00px;background:linear-gradient(90deg,#ff2100,#ff1f00,#ff1d00,#ff1a00,#ff1800,#ff1400,#ff1100,#ff0c00,#ff0800,#ff0300,#fd0000,#f90000,#f70000,#f50000,#f60000,#f70000,#f80000,#f90000,#f90000,#f90000,#f70000,#f40000,#f10000,#ed0000,#eb0000,#ea0000,#ea0000,#ed0000,#f00000,#f50000,#fa0000,#ff0000,#ff0400,#ff0700,#ff0900,#ff0900,#ff0a00,#ff0b00,#ff0d00,#ff1000,#ff1400,#ff1900,#ff1e00,#ff2400,#ff2a00,#ff2f00,#ff3400,#ff3800,#ff3b00,#ff3e00,#ff3f00,#ff4100,#ff4200,#ff4300,#ff4300,#ff4400,#ff4500,#ff4700,#ff4800,#ff4a00,#ff4c00,#ff4e00,#ff5000,#ff5100,#ff5200,#ff5300,#ff5400,#ff5500,#ff5700,#ff5800,#ff5a00,#ff5c00,#ff5e00,#ff6000,#ff6200,#ff6400,#ff6600,#ff6900,#ff6b00,#ff6e00,#ff7000,#ff7100,#ff7200,#ff7300,#ff7400,#ff7500,#ff7600)"></div><div style="top:20.00px;background:linear-gradient(90deg,#ff2300,#ff2100,#ff1e00,#ff1c00,#ff1900,#ff1600,#ff1200,#ff0e00,#ff0900,#ff0300,#fe0000,#f90000,#f70000,#f50000,#f50000,#f60000,#f80000,#f90000,#f90000,#f80000,#f60000,#f40000,#f00000,#ed0000,#ea0000,#e80000,#e90000,#eb0000,#ee0000,#f30000,#f80000,#fd0000,#ff0200,#ff0500,#ff0800,#ff0a00,#ff0c00,#ff0f00,#ff1300,#ff1700,#ff1d00,#ff2300,#ff2900,#ff2f00,#ff3400,#ff3900,#ff3c00,#ff4000,#ff4200,#ff4500,#ff4600,#ff4800,#ff4900,#ff4a00,#ff4b00,#ff4c00,#ff4d00,#ff4f00,#ff5100,#ff5300,#ff5500,#ff5800,#ff5a00,#ff5b00,#ff5d00,#ff5e00,#ff5f00,#ff6000,#ff6200,#ff6400,#ff6600,#ff6700,#ff6900,#ff6c00,#ff6e00,#ff6f00,#ff7200,#ff7500,#ff7700,#ff7a00,#ff7c00,#ff7e00,#ff7f00,#ff8100,#ff8200,#ff8300,#ff8400)"></div><div style="top:21.00px;background:linear-gradient(90deg,#ff2600,#ff2300,#ff2100,#ff1e00,#ff1b00,#ff1800,#ff1400,#ff0f00,#ff0a00,#ff0400,#fe0000,#fa0000,#f70000,#f50000,#f50000,#f60000,#f80000,#f80000,#f80000,#f80000,#f70000,#f40000,#f10000,#ed0000,#e90000,#e70000,#e70000,#e90000,#ec0000,#f10000,#f60000,#fb0000,#ff0000,#ff0400,#ff0800,#ff0b00,#ff0f00,#ff1500,#ff1b00,#ff2200,#ff2900,#ff3000,#ff3700,#ff3d00,#ff4200,#ff4500,#ff4700,#ff4900,#ff4c00,#ff4e00,#ff5000,#ff5200,#ff5300,#ff5500,#ff5500,#ff5600,#ff5700,#ff5900,#ff5c00,#ff5f00,#ff6100,#ff6300,#ff6500,#ff6700,#ff6800,#ff6a00,#ff6b00,#ff6d00,#ff6f00,#ff7100,#ff7200,#ff7500,#ff7700,#ff7a00,#ff7c00,#ff7d00,#ff8000,#ff8200,#ff8500,#ff8800,#ff8a00,#ff8d00,#ff8e00,#ff9000,#ff9100,#ff9200,#ff9400)"></div><div style="top:22.00px;background:linear-gradient(90deg,#ff2900,#ff2700,#ff2400,#ff2100,#ff1e00,#ff1a00,#ff1500,#ff1000,#ff0b00,#ff0500,#ff0000,#fa0000,#f70000,#f60000,#f60000,#f70000,#f80000,#fa0000,#f90000,#f80000,#f70000,#f50000,#f20000,#ee0000,#eb0000,#e80000,#e80000,#ea0000,#ee0000,#f20000,#f80000,#fd0000,#ff0200,#ff0600,#ff0a00,#ff0f00,#ff1500,#ff1e00,#ff2600,#ff2d00,#ff3700,#ff4000,#ff4600,#ff4b00,#ff5000,#ff5300,#ff5300,#ff5400,#ff5600,#ff5900,#ff5b00,#ff5d00,#ff5e00,#ff5f00,#ff5f00,#ff6000,#ff6300,#ff6500,#ff6900,#ff6c00,#ff6e00,#ff7000,#ff7200,#ff7200,#ff7400,#ff7600,#ff7900,#ff7b00,#ff7d00,#ff7e00,#ff7e00,#ff8100,#ff8600,#ff8a00,#ff8b00,#ff8c00,#ff8f00,#ff9100,#ff9300,#ff9600,#ff9800,#ff9a00,#ff9d00,#ff9f00,#ffa100,#ffa200,#ffa300)"></div><div style="top:23.00px;background:linear-gradient(90deg,#ff2d00,#ff2a00,#ff2700,#ff2300,#ff1f00,#ff1b00,#ff1600,#ff1100,#ff0b00,#ff0500,#ff0000,#fb0000,#f70000,#f60000,#f70000,#f80000,#f90000,#fb0000,#fd0000,#fb0000,#f80000,#f70000,#f50000,#f40000,#ee0000,#ea0000,#ed0000,#ee0000,#ee0000,#f30000,#fd0000,#ff0600,#ff0a00,#ff0c00,#ff1200,#ff1a00,#ff2500,#ff3000,#ff3700,#ff3c00,#ff4600,#ff5000,#ff5500,#ff5a00,#ff5f00,#ff6200,#ff6200,#ff6100,#ff6100,#ff6300,#ff6600,#ff6a00,#ff6d00,#ff6c00,#ff6800,#ff6900,#ff7100,#ff7700,#ff7b00,#ff7c00,#ff7f00,#ff8200,#ff8300,#ff8100,#ff8200,#ff8700,#ff8800,#ff8700,#ff8700,#ff8800,#ff8900,#ff8e00,#ff9600,#ff9b00,#ff9b00,#ff9c00,#ff9e00,#ff9f00,#ffa000,#ffa200,#ffa200,#ffa600,#ffaa00,#ffad00,#ffaf00,#ffaf00,#ffaf00)"></div><div style="top:24.00px;background:linear-gradient(90deg,#ff3100,#ff2e00,#ff2a00,#ff2600,#ff2100,#ff1c00,#ff1600,#ff1000,#ff0a00,#ff0400,#fe0000,#fa0000,#f80000,#f80000,#fa0000,#fc0000,#fc0000,#ff0000,#ff0500,#ff0500,#fc0000,#f30000,#f00000,#f00000,#ed0000,#ef0000,#fc0000,#fc0000,#f00000,#f40000,#ff0900,#ff1500,#ff1400,#ff1800,#ff2700,#ff3100,#ff3400,#ff3b00,#ff4100,#ff4900,#ff5900,#ff6200,#ff6400,#ff6900,#ff6f00,#ff7200,#ff7200,#ff6f00,#ff6c00,#ff6d00,#ff7600,#ff8200,#ff8b00,#ff8700,#ff8000,#ff7e00,#ff8700,#ff8e00,#ff8c00,#ff8c00,#ff9400,#ff9700,#ff9300,#ff9500,#ff9c00,#ff9f00,#ff9900,#ff9400,#ff9400,#ff9a00,#ffa500,#ffab00,#ffa500,#ff9f00,#ff9b00,#ff9d00,#ffa700,#ffab00,#ffa800,#ffaa00,#ffac00,#ffac00,#ffac00,#ffae00,#ffae00,#ffb100,#ffb500)"></div><div style="top:25.00px;background:linear-gradient(90deg,#ff3500,#ff3100,#ff2c00,#ff2700,#ff2200,#ff1c00,#ff1600,#ff1000,#ff0a00,#ff0400,#fe0000,#fb0000,#f90000,#fc0000,#fe0000,#ff0000,#ff0100,#ff0700,#ff0c00,#ff0500,#f40000,#e70000,#e80000,#ed0000,#ec0000,#ef0000,#ff0300,#ff0b00,#ff0500,#ff0f00,#ff2500,#ff2f00,#ff3300,#ff3c00,#ff4900,#ff4e00,#ff4800,#ff4a00,#ff5100,#ff5a00,#ff6800,#ff7300,#ff7100,#ff7300,#ff7c00,#ff8200,#ff8100,#ff7c00,#ff7200,#ff7800,#ff8a00,#ffa000,#ffaa00,#ffa800,#ffa500,#ff9d00,#ff9b00,#ff9b00,#ff9100,#ff9100,#ff9e00,#ff9d00,#ff9800,#ffa700,#ffbc00,#ffc500,#ffbd00,#ffaf00,#ffab00,#ffb300,#ffc200,#ffc100,#ffa900,#ff9100,#ff9200,#ffa300,#ffb300,#ffb600,#ffb300,#ffbc00,#ffbf00,#ffb200,#ffa900,#ffa900,#ffac00,#ffb800,#ffc200)"></div><div style="top:26.00px;background:linear-gradient(90deg,#ff3700,#ff3300,#ff2e00,#ff2900,#ff2300,#ff1d00,#ff1700,#ff1100,#ff0b00,#ff0600,#ff0100,#fd0000,#fc0000,#fd0000,#ff0100,#ff0000,#ff0300,#ff0c00,#ff0c00,#fd0000,#f10000,#f30000,#ff0100,#fc0000,#e90000,#e30000,#f90000,#ff1800,#ff2e00,#ff3c00,#ff4a00,#ff5700,#ff6100,#ff6600,#ff6400,#ff5f00,#ff6200,#ff6f00,#ff7a00,#ff7d00,#ff7300,#ff7000,#ff7700,#ff8300,#ff8600,#ff7e00,#ff7800,#ff7d00,#ff8300,#ff8e00,#ffa000,#ffb000,#ffab00,#ff9f00,#ffa500,#ffaa00,#ffa800,#ffa200,#ff9a00,#ffa400,#ffb800,#ffad00,#ff9c00,#ffa900,#ffbe00,#ffd400,#ffde00,#ffd400,#ffbe00,#ffb200,#ffb500,#ffac00,#ff9500,#ff8e00,#ffa900,#ffc900,#ffcb00,#ffc300,#ffc900,#ffda00,#ffd400,#ffbd00,#ffba00,#ffbf00,#ffc300,#ffc900,#ffca00)"></div><div style="top:27.00px;background:linear-gradient(90deg,#ff3800,#ff3300,#ff2e00,#ff2900,#ff2300,#ff1d00,#ff1700,#ff1200,#ff0c00,#ff0800,#ff0400,#ff0100,#fe0000,#fe0000,#fe0000,#fa0000,#fe0000,#ff1100,#ff1a00,#ff1100,#ff1600,#ff2700,#ff2e00,#ff1800,#ff0700,#ff1300,#ff2800,#ff3c00,#ff5100,#ff5700,#ff5600,#ff6600,#ff7c00,#ff8700,#ff8400,#ff7d00,#ff8100,#ff9100,#ffa100,#ff9700,#ff7c00,#ff7000,#ff7c00,#ff9600,#ffa400,#ff9600,#ff8900,#ff9100,#ff9e00,#ffa700,#ffb300,#ffbc00,#ffa600,#ff9500,#ffaa00,#ffc100,#ffc300,#ffbc00,#ffba00,#ffc500,#ffd000,#ffcc00,#ffc400,#ffc300,#ffb400,#ffbd00,#ffd400,#ffd900,#ffc600,#ffb000,#ffaf00,#ffa600,#ff9500,#ffaa00,#ffde00,#fff600,#ffea00,#ffe000,#ffdd00,#ffd900,#ffcf00,#ffc800,#ffcc00,#ffd000,#ffcd00,#ffcc00,#ffd000)"></div><div style="top:28.00px;background:linear-gradient(90deg,#ff3800,#ff3400,#ff3000,#ff2b00,#ff2600,#ff2100,#ff1b00,#ff1600,#ff1100,#ff0d00,#ff0900,#ff0700,#ff0400,#ff0300,#ff0200,#fe0000,#fc0000,#ff0400,#ff1200,#ff1a00,#ff2b00,#ff3600,#ff3200,#ff2f00,#ff4200,#ff5f00,#ff5f00,#ff4300,#ff3c00,#ff4700,#ff5600,#ff7000,#ff9000,#ffa700,#ffa900,#ffa200,#ffaa00,#ffc100,#ffc800,#ffa500,#ff8700,#ff8000,#ff8200,#ff9500,#ffa100,#ff9200,#ff8d00,#ffa000,#ffba00,#ffd500,#ffe600,#ffe200,#ffbb00,#ffa300,#ffc600,#ffe600,#ffe100,#ffd800,#ffda00,#ffd700,#ffc400,#ffc100,#ffd500,#ffdb00,#ffb600,#ff9e00,#ffb300,#ffd300,#ffda00,#ffd500,#ffcc00,#ffc700,#ffcb00,#ffe400,#fcff03,#feff01,#ffed00,#fff200,#ffed00,#ffd800,#ffd500,#ffe000,#ffe400,#ffe600,#fff100,#fff900,#ffff00)"></div><div style="top:29.00px;background:linear-gradient(90deg,#ff3600,#ff3600,#ff3400,#ff3200,#ff2f00,#ff2c00,#ff2800,#ff2400,#ff2000,#ff1d00,#ff1a00,#ff1900,#ff1600,#ff1400,#ff1500,#ff1700,#ff0e00,#ff0600,#ff1a00,#ff3300,#ff3d00,#ff3500,#ff3900,#ff5200,#ff7800,#ff9800,#ff8500,#ff5700,#ff4800,#ff5600,#ff7300,#ff9c00,#ffb100,#ffb800,#ffb800,#ffb900,#ffce00,#ffef00,#ffe700,#ffbe00,#ffaa00,#ffa100,#ff9900,#ffa000,#ffa500,#ffa000,#ffb200,#ffd500,#fff500,#fdff02,#fff200,#ffe100,#ffc900,#ffbf00,#ffe100,#fffb00,#fff900,#ffea00,#ffe200,#ffd600,#ffb000,#ff9f00,#ffba00,#ffd700,#ffc300,#ff9f00,#ffab00,#ffd000,#ffd900,#ffca00,#ffbe00,#ffd300,#fffb00,#e7ff18,#ddff22,#edff12,#ffef00,#ffe400,#fff000,#fff200,#ffe600,#fff100,#faff05,#fdff02,#f1ff0e,#ddff22,#d3ff2c)"></div><div style="top:30.00px;background:linear-gradient(90deg,#ff3300,#ff3300,#ff3200,#ff3100,#ff3000,#ff2f00,#ff2e00,#ff2d00,#ff2d00,#ff2d00,#ff2e00,#ff3000,#ff3100,#ff3200,#ff3800,#ff4200,#ff4700,#ff4700,#ff5800,#ff7500,#ff7300,#ff5000,#ff5200,#ff8000,#ffab00,#ffba00,#ffaa00,#ff9b00,#ff9100,#ff7e00,#ff7f00,#ffaa00,#ffcc00,#ffd600,#ffe400,#ffdd00,#ffd800,#ffe800,#ffe400,#ffd100,#ffc100,#ffb500,#ffc400,#ffd700,#ffe100,#ffdf00,#ffea00,#fffb00,#f9ff06,#fff400,#ffd600,#ffc900,#ffd300,#ffeb00,#fffc00,#fffb00,#fff500,#ffe100,#ffd600,#ffd300,#ffc800,#ffc100,#ffc700,#ffd900,#ffd000,#ffb500,#ffc900,#ffec00,#ffdd00,#ffc500,#ffda00,#fdff02,#e3ff1c,#daff25,#d3ff2c,#d5ff2a,#edff12,#fff100,#fff600,#e8ff17,#e9ff16,#eaff15,#e6ff19,#fdff02,#fcff03,#dcff23,#c8ff37)"></div><div style="top:31.00px;background:linear-gradient(90deg,#ff3000,#ff3500,#ff3a00,#ff3f00,#ff4400,#ff4800,#ff4d00,#ff5100,#ff5600,#ff5b00,#ff6100,#ff6800,#ff6d00,#ff7500,#ff8300,#ff9200,#ff9b00,#ff9a00,#ffa100,#ffbc00,#ffc100,#ff9d00,#ff9300,#ffab00,#ffb900,#ffb300,#ff9e00,#ffa800,#ffb000,#ff9b00,#ffa900,#ffdb00,#fff000,#fff200,#fdff02,#fff300,#ffd200,#ffd400,#ffd000,#ffc100,#ffbd00,#ffc700,#ffe400,#fffd00,#fbff04,#fdff02,#fbff04,#fff700,#fff100,#ffec00,#ffe100,#ffdd00,#fff100,#f7ff08,#f5ff0a,#fff900,#ffe700,#ffd100,#ffcf00,#ffe300,#fffe00,#fffd00,#ffe700,#ffdb00,#ffd600,#ffd700,#fff400,#f7ff08,#ffee00,#ffe300,#ffff00,#f1ff0e,#e9ff16,#e0ff1f,#e1ff1e,#e1ff1e,#e2ff1d,#fffc00,#fffd00,#c3ff3c,#b8ff47,#ceff31,#dbff24,#e5ff1a,#d8ff27,#bbff44,#b1ff4e)"></div><div style="top:32.00px;background:linear-gradient(90deg,#ff2c00,#ff4000,#ff5400,#ff6600,#ff7800,#ff8800,#ff9700,#ffa500,#ffb200,#ffbd00,#ffc800,#ffd200,#ffd900,#ffe000,#ffe800,#ffed00,#ffed00,#ffee00,#fff600,#fcff03,#fffc00,#ffdb00,#ffc900,#ffc000,#ffb200,#ffaf00,#ffa000,#ffa000,#ffa200,#ffa700,#ffd100,#fff800,#fff600,#ffdd00,#ffd500,#ffd800,#ffd600,#ffdb00,#ffd900,#ffd600,#ffdf00,#fff300,#f7ff08,#f7ff08,#fff900,#ffff00,#f9ff06,#fff100,#ffe800,#ffe700,#ffe400,#fff500,#f2ff0d,#f6ff09,#fffe00,#fffd00,#fff500,#ffe400,#ffed00,#f3ff0c,#e2ff1d,#fcff03,#ffd900,#ffdf00,#fcff03,#efff10,#eeff11,#f8ff07,#fff100,#fff100,#fffb00,#ffe900,#ffed00,#f6ff09,#f4ff0b,#ebff14,#dcff23,#fbff04,#ffee00,#f0ff0f,#d8ff27,#d1ff2e,#c7ff38,#bfff40,#b3ff4c,#a6ff59,#a5ff5a)"></div><div style="top:33.00px;background:linear-gradient(90deg,#c9ff36,#bfff40,#b6ff49,#aeff51,#a7ff58,#a2ff5d,#9dff62,#99ff66,#96ff69,#94ff6b,#93ff6c,#92ff6d,#93ff6c,#99ff66,#a1ff5e,#aaff55,#acff53,#a2ff5d,#9cff63,#9fff60,#b9ff46,#e6ff19,#fffc00,#ffea00,#ffd000,#ffc400,#ffb700,#ffae00,#ffad00,#ffc400,#ffe000,#ffdf00,#ffcd00,#ffc000,#ffc400,#ffda00,#fff700,#f3ff0c,#f2ff0d,#fffd00,#ffe000,#ffe200,#f7ff08,#eaff15,#f8ff07,#feff01,#fffc00,#fff400,#ffe900,#ffe800,#fff500,#f8ff07,#f9ff06,#fff200,#fff000,#fffd00,#fffd00,#fffa00,#faff05,#dfff20,#ccff33,#e4ff1b,#fff100,#fbff04,#ceff31,#c9ff36,#ceff31,#d5ff2a,#e4ff1b,#f7ff08,#fffd00,#ffe200,#ffd800,#fff100,#fdff02,#e9ff16,#ddff22,#fffd00,#ffd700,#ffda00,#fff700,#e1ff1e,#c1ff3e,#b0ff4f,#a8ff57,#aaff55,#a9ff56)"></div><div style="top:34.00px;background:linear-gradient(90deg,#00fdff,#01fffe,#04fffb,#08fff7,#0cfff3,#10ffef,#14ffeb,#19ffe6,#1effe1,#24ffdb,#2affd5,#30ffcf,#39ffc6,#4bffb4,#62ff9d,#72ff8d,#70ff8f,#67ff98,#6cff93,#74ff8b,#8aff75,#aeff51,#bcff43,#bdff42,#ddff22,#fff700,#ffd800,#ffcf00,#ffcf00,#ffd600,#ffda00,#ffd500,#ffc400,#ffc200,#ffdd00,#fdff02,#dfff20,#cbff34,#d0ff2f,#f1ff0e,#ffe100,#ffde00,#fffb00,#f0ff0f,#f1ff0e,#fffa00,#ffe400,#ffd600,#ffc200,#ffc800,#ffe100,#ffe700,#ffd700,#ffc800,#ffd300,#fff500,#faff05,#eeff11,#dcff23,#c6ff39,#b9ff46,#cdff32,#f1ff0e,#e8ff17,#ceff31,#dfff20,#e8ff17,#d5ff2a,#d6ff29,#efff10,#f9ff06,#fffd00,#fdff02,#f0ff0f,#f8ff07,#edff12,#dcff23,#f0ff0f,#ffee00,#fff400,#e9ff16,#c8ff37,#b6ff49,#b2ff4d,#aaff55,#a7ff58,#a2ff5d)"></div><div style="top:35.00px;background:linear-gradient(90deg,#00e3ff,#00e4ff,#00e5ff,#00e6ff,#00e7ff,#00e8ff,#00eaff,#00edff,#00efff,#00f3ff,#00f7ff,#00fcff,#06fff9,#17ffe8,#2dffd2,#41ffbe,#40ffbf,#31ffce,#36ffc9,#53ffac,#69ff96,#7dff82,#90ff6f,#9cff63,#b8ff47,#dcff23,#f2ff0d,#ecff13,#ecff13,#feff01,#fff200,#fffd00,#fff700,#fff000,#e9ff16,#c5ff3a,#ceff31,#e7ff18,#fffd00,#ffe800,#ffd200,#ffd000,#ffe000,#fff400,#fcff03,#fff200,#ffd300,#ffb800,#ffa100,#ffa100,#ffb800,#ffd200,#ffd400,#ffcb00,#ffd500,#f8ff07,#d4ff2b,#c3ff3c,#b6ff49,#b9ff46,#bdff42,#ccff33,#e7ff18,#faff05,#fffa00,#ffea00,#ffe700,#fffe00,#e8ff17,#e5ff1a,#e0ff1f,#dbff24,#d8ff27,#ddff22,#f5ff0a,#f7ff08,#d7ff28,#d0ff2f,#e3ff1c,#d8ff27,#b7ff48,#9eff61,#8eff71,#92ff6d,#99ff66,#94ff6b,#8aff75)"></div><div style="top:36.00px;background:linear-gradient(90deg,#00d1ff,#00d1ff,#00d1ff,#00d0ff,#00d0ff,#00d0ff,#00d0ff,#00d1ff,#00d2ff,#00d4ff,#00d7ff,#00dbff,#00e3ff,#00f0ff,#00ffff,#0efff1,#0dfff2,#01fffe,#0dfff2,#32ffcd,#4affb5,#5affa5,#6cff93,#86ff79,#b4ff4b,#cfff30,#baff45,#94ff6b,#a1ff5e,#c5ff3a,#dfff20,#e7ff18,#fbff04,#fff800,#daff25,#b4ff4b,#ceff31,#f4ff0b,#fff800,#fff200,#ffe600,#ffeb00,#fff900,#fff400,#ffde00,#ffc600,#ffc600,#ffc800,#ffb800,#ffb100,#ffc400,#ffde00,#ffdd00,#ffdf00,#ffec00,#f2ff0d,#c4ff3b,#a6ff59,#a1ff5e,#b7ff48,#c7ff38,#d6ff29,#e5ff1a,#f5ff0a,#feff01,#fcff03,#fffa00,#fff500,#fbff04,#f0ff0f,#edff12,#f2ff0d,#e6ff19,#c6ff39,#bfff40,#caff35,#c2ff3d,#bcff43,#c3ff3c,#c4ff3b,#b6ff49,#b1ff4e,#9bff64,#7fff80,#7eff81,#8bff74,#8eff71)"></div><div style="top:37.00px;background:linear-gradient(90deg,#00c3ff,#00c3ff,#00c2ff,#00c1ff,#00c0ff,#00beff,#00bdff,#00bcff,#00bcff,#00bdff,#00bfff,#00c2ff,#00c8ff,#00d3ff,#00ddff,#00dfff,#00dfff,#00eeff,#0afff5,#21ffde,#34ffcb,#50ffaf,#6fff90,#85ff7a,#a8ff57,#c0ff3f,#a7ff58,#83ff7c,#85ff7a,#9aff65,#b7ff48,#c7ff38,#d1ff2e,#dbff24,#d3ff2c,#d5ff2a,#f1ff0e,#ffff00,#fffc00,#ffed00,#ffe000,#fff300,#f3ff0c,#fdff02,#ffdf00,#ffcf00,#ffe400,#fff100,#ffe500,#ffd600,#ffd100,#ffd800,#ffe100,#fff800,#f8ff07,#efff10,#d1ff2e,#bfff40,#c7ff38,#d0ff2f,#cdff32,#caff35,#cfff30,#e1ff1e,#f2ff0d,#f1ff0e,#f8ff07,#fff000,#ffea00,#fffb00,#eaff15,#dbff24,#c2ff3d,#8aff75,#6dff92,#84ff7b,#9bff64,#a0ff5f,#aaff55,#bfff40,#c3ff3c,#c1ff3e,#9fff60,#70ff8f,#67ff98,#7dff82,#8aff75)"></div><div style="top:38.00px;background:linear-gradient(90deg,#00b9ff,#00b8ff,#00b7ff,#00b5ff,#00b3ff,#00b1ff,#00afff,#00adff,#00abff,#00abff,#00acff,#00aeff,#00b1ff,#00b8ff,#00c4ff,#00ceff,#00daff,#00f6ff,#10ffef,#13ffec,#13ffec,#1fffe0,#3dffc2,#59ffa6,#73ff8c,#79ff86,#6aff95,#66ff99,#6bff94,#77ff88,#86ff79,#81ff7e,#71ff8e,#6dff92,#8fff70,#ccff33,#f8ff07,#fff700,#ffec00,#ffd700,#ffd900,#fffb00,#dfff20,#dbff24,#e8ff17,#e3ff1c,#d5ff2a,#e0ff1f,#eaff15,#f4ff0b,#fff300,#ffe800,#ffe900,#fff500,#fbff04,#fcff03,#f8ff07,#ecff13,#eaff15,#e5ff1a,#ccff33,#b7ff48,#c4ff3b,#e5ff1a,#f1ff0e,#ddff22,#cfff30,#e4ff1b,#efff10,#dbff24,#abff54,#8bff74,#78ff87,#4dffb2,#2fffd0,#47ffb8,#6cff93,#7eff81,#8bff74,#95ff6a,#95ff6a,#95ff6a,#8aff75,#7aff85,#7bff84,#82ff7d,#7fff80)"></div><div style="top:39.00px;background:linear-gradient(90deg,#00b1ff,#00b0ff,#00aeff,#00acff,#00a9ff,#00a6ff,#00a2ff,#009fff,#009dff,#009bff,#009bff,#009cff,#009eff,#00a4ff,#00afff,#00bfff,#00cdff,#00dcff,#00e6ff,#00e9ff,#00eaff,#00e9ff,#00f0ff,#0bfff4,#24ffdb,#17ffe8,#0bfff4,#25ffda,#41ffbe,#56ffa9,#69ff96,#67ff98,#4cffb3,#3bffc4,#66ff99,#9aff65,#bbff44,#e0ff1f,#f2ff0d,#eeff11,#dbff24,#beff41,#a5ff5a,#b0ff4f,#ccff33,#c2ff3d,#b0ff4f,#c7ff38,#d8ff27,#d6ff29,#e5ff1a,#fffb00,#ffec00,#fffa00,#efff10,#f7ff08,#fff900,#fffa00,#fdff02,#f0ff0f,#c6ff39,#abff54,#c3ff3c,#dfff20,#d3ff2c,#abff54,#89ff76,#89ff76,#94ff6b,#9cff63,#94ff6b,#86ff79,#7aff85,#63ff9c,#56ffa9,#63ff9c,#6eff91,#76ff89,#7aff85,#7fff80,#82ff7d,#7eff81,#86ff79,#93ff6c,#97ff68,#8eff71,#81ff7e)"></div><div style="top:40.00px;background:linear-gradient(90deg,#00a9ff,#00a6ff,#00a3ff,#009fff,#009aff,#0096ff,#0091ff,#008dff,#008aff,#0088ff,#0087ff,#0088ff,#008aff,#008fff,#0099ff,#00a1ff,#00a7ff,#00b2ff,#00c1ff,#00cdff,#00ceff,#00c7ff,#00bcff,#00ccff,#00ecff,#00e4ff,#00d4ff,#00edff,#0dfff2,#1effe1,#32ffcd,#46ffb9,#46ffb9,#3bffc4,#47ffb8,#50ffaf,#70ff8f,#b0ff4f,#c9ff36,#b9ff46,#b4ff4b,#baff45,#b6ff49,#bdff42,#ccff33,#c0ff3f,#acff53,#c3ff3c,#dbff24,#ceff31,#caff35,#f8ff07,#ffec00,#f5ff0a,#d8ff27,#d1ff2e,#c4ff3b,#c7ff38,#d6ff29,#d7ff28,#bcff43,#a4ff5b,#abff54,#b1ff4e,#97ff68,#72ff8d,#68ff97,#71ff8e,#82ff7d,#99ff66,#9eff61,#8cff73,#7dff82,#71ff8e,#5effa1,#53ffac,#57ffa8,#61ff9e,#5fffa0,#69ff96,#75ff8a,#6fff90,#74ff8b,#88ff77,#8eff71,#8dff72,#8cff73)"></div><div style="top:41.00px;background:linear-gradient(90deg,#00a2ff,#009eff,#0099ff,#0093ff,#008dff,#0087ff,#0081ff,#007cff,#0077ff,#0074ff,#0072ff,#0072ff,#0074ff,#0079ff,#0081ff,#0088ff,#0092ff,#009dff,#00b2ff,#00c7ff,#00bfff,#00b2ff,#0097ff,#0090ff,#00b0ff,#00bdff,#00b8ff,#00c2ff,#00c4ff,#00c4ff,#00e2ff,#0efff1,#2cffd3,#2affd5,#1cffe3,#11ffee,#36ffc9,#71ff8e,#7fff80,#77ff88,#8fff70,#a9ff56,#a8ff57,#a9ff56,#b0ff4f,#a4ff5b,#95ff6a,#b4ff4b,#cbff34,#b2ff4d,#aaff55,#d3ff2c,#ecff13,#daff25,#c3ff3c,#b6ff49,#a5ff5a,#9dff62,#93ff6c,#8cff73,#89ff76,#84ff7b,#82ff7d,#75ff8a,#58ffa7,#4cffb3,#5bffa4,#66ff99,#7bff84,#93ff6c,#93ff6c,#80ff7f,#66ff99,#46ffb9,#29ffd6,#2effd1,#50ffaf,#62ff9d,#58ffa7,#63ff9c,#76ff89,#70ff8f,#69ff96,#66ff99,#4effb1,#3dffc2,#45ffba)"></div><div style="top:42.00px;background:linear-gradient(90deg,#009cff,#0096ff,#0090ff,#0089ff,#0082ff,#007aff,#0073ff,#006cff,#0067ff,#0062ff,#0060ff,#005eff,#0061ff,#0063ff,#0064ff,#006cff,#0080ff,#008cff,#0094ff,#009dff,#0095ff,#0092ff,#0089ff,#0076ff,#0077ff,#0087ff,#0086ff,#0090ff,#0094ff,#008aff,#009cff,#00c6ff,#00e5ff,#00e6ff,#00e2ff,#00e0ff,#09fff6,#38ffc7,#38ffc7,#32ffcd,#4cffb3,#69ff96,#74ff8b,#73ff8c,#6cff93,#58ffa7,#48ffb7,#69ff96,#7cff83,#65ff9a,#6bff94,#91ff6e,#a1ff5e,#96ff69,#8dff72,#93ff6c,#9cff63,#97ff68,#84ff7b,#77ff88,#78ff87,#7aff85,#73ff8c,#58ffa7,#3affc5,#3affc5,#4affb5,#3effc1,#27ffd8,#2fffd0,#4bffb4,#56ffa9,#4dffb2,#34ffcb,#1dffe2,#2fffd0,#3fffc0,#3bffc4,#3affc5,#6aff95,#9fff60,#9aff65,#86ff79,#6cff93,#4dffb2,#37ffc8,#39ffc6)"></div><div style="top:43.00px;background:linear-gradient(90deg,#0097ff,#0091ff,#0089ff,#0081ff,#0078ff,#0070ff,#0068ff,#0060ff,#005aff,#0055ff,#0051ff,#004fff,#0051ff,#0052ff,#0053ff,#005cff,#006eff,#0076ff,#006fff,#006cff,#0065ff,#0063ff,#0066ff,#0066ff,#0063ff,#005eff,#0059ff,#006fff,#007bff,#006eff,#0069ff,#0085ff,#00b1ff,#00c0ff,#00c6ff,#00cbff,#00e4ff,#00faff,#02fffd,#16ffe9,#40ffbf,#6cff93,#6cff93,#49ffb6,#3cffc3,#46ffb9,#48ffb7,#49ffb6,#43ffbc,#30ffcf,#34ffcb,#5affa5,#71ff8e,#64ff9b,#56ffa9,#5bffa4,#61ff9e,#66ff99,#7aff85,#7cff83,#69ff96,#61ff9e,#58ffa7,#3dffc2,#2bffd4,#2dffd2,#3bffc4,#35ffca,#02fffd,#00e8ff,#07fff8,#1affe5,#1bffe4,#21ffde,#28ffd7,#2fffd0,#1cffe3,#1affe5,#3effc1,#7eff81,#b7ff48,#b4ff4b,#8cff73,#63ff9c,#5fffa0,#67ff98,#64ff9b)"></div><div style="top:44.00px;background:linear-gradient(90deg,#0094ff,#008cff,#0084ff,#007bff,#0072ff,#0068ff,#0060ff,#0058ff,#0051ff,#004bff,#0047ff,#0044ff,#0046ff,#0049ff,#004bff,#0055ff,#0064ff,#0064ff,#0052ff,#004fff,#0054ff,#004aff,#003fff,#0049ff,#0051ff,#003fff,#0040ff,#0063ff,#0077ff,#0078ff,#0076ff,#0078ff,#008aff,#009fff,#00aeff,#00b7ff,#00c6ff,#00cdff,#00e5ff,#17ffe8,#4fffb0,#71ff8e,#52ffad,#16ffe9,#0ffff0,#3bffc4,#4fffb0,#3effc1,#2effd1,#18ffe7,#1dffe2,#4cffb3,#6aff95,#5bffa4,#3bffc4,#2affd5,#26ffd9,#3affc5,#5fffa0,#5effa1,#41ffbe,#2effd1,#20ffdf,#12ffed,#0cfff3,#00ffff,#01fffe,#17ffe8,#00feff,#00deff,#00edff,#06fff9,#09fff6,#0cfff3,#0dfff2,#10ffef,#14ffeb,#30ffcf,#5effa1,#8cff73,#b4ff4b,#abff54,#71ff8e,#42ffbd,#4effb1,#65ff9a,#60ff9f)"></div><div style="top:45.00px;background:linear-gradient(90deg,#0092ff,#008aff,#0081ff,#0078ff,#006eff,#0065ff,#005cff,#0055ff,#004eff,#0048ff,#0043ff,#0040ff,#0040ff,#0043ff,#0046ff,#004aff,#004dff,#0049ff,#003aff,#0037ff,#004bff,#005bff,#0058ff,#005eff,#005cff,#003eff,#003eff,#0055ff,#0067ff,#0082ff,#0097ff,#0096ff,#008bff,#0090ff,#00a3ff,#00b4ff,#00cbff,#00dcff,#00fbff,#20ffdf,#32ffcd,#3affc5,#2fffd0,#0ffff0,#01fffe,#17ffe8,#1dffe2,#18ffe7,#23ffdc,#1cffe3,#1fffe0,#39ffc6,#46ffb9,#39ffc6,#12ffed,#00f8ff,#00f6ff,#19ffe6,#45ffba,#42ffbd,#28ffd7,#19ffe6,#05fffa,#00f0ff,#00eaff,#00dfff,#00dcff,#00fbff,#00f7ff,#00dfff,#00e5ff,#00f3ff,#00efff,#00efff,#00f0ff,#00f3ff,#03fffc,#2bffd4,#52ffad,#6bff94,#83ff7c,#78ff87,#51ffae,#32ffcd,#38ffc7,#42ffbd,#36ffc9)"></div><div style="top:46.00px;background:linear-gradient(90deg,#0091ff,#0088ff,#0080ff,#0077ff,#006eff,#0065ff,#005dff,#0055ff,#004eff,#0049ff,#0044ff,#0041ff,#003fff,#0041ff,#0044ff,#0043ff,#003eff,#003cff,#003dff,#0047ff,#0062ff,#0076ff,#0073ff,#006eff,#005bff,#0040ff,#003cff,#0040ff,#0049ff,#006dff,#0088ff,#0095ff,#00a0ff,#00a7ff,#00a7ff,#00aeff,#00c0ff,#00d0ff,#00e2ff,#00f4ff,#02fffd,#18ffe7,#2affd5,#1fffe0,#05fffa,#00f5ff,#00e4ff,#00e7ff,#00feff,#0bfff4,#14ffeb,#22ffdd,#1dffe2,#10ffef,#03fffc,#00f9ff,#00edff,#00ffff,#24ffdb,#31ffce,#31ffce,#29ffd6,#07fff8,#00efff,#00f0ff,#00e5ff,#00d3ff,#00e1ff,#00eaff,#00e8ff,#00e6ff,#00daff,#00ccff,#00d9ff,#00f4ff,#00feff,#00fcff,#12ffed,#37ffc8,#55ffaa,#69ff96,#59ffa6,#41ffbe,#3affc5,#49ffb6,#43ffbc,#20ffdf)"></div><div style="top:47.00px;background:linear-gradient(90deg,#0090ff,#0088ff,#007fff,#0077ff,#006eff,#0065ff,#005eff,#0056ff,#0050ff,#004aff,#0046ff,#0042ff,#0040ff,#0042ff,#0044ff,#0041ff,#0042ff,#0045ff,#0050ff,#005bff,#0068ff,#0070ff,#006dff,#0060ff,#0054ff,#0058ff,#005fff,#005fff,#006aff,#0088ff,#0099ff,#00a1ff,#00abff,#00a5ff,#0093ff,#0094ff,#00a1ff,#00aeff,#00c1ff,#00d0ff,#00e9ff,#13ffec,#37ffc8,#40ffbf,#2fffd0,#14ffeb,#00f5ff,#00ecff,#00f6ff,#00fdff,#00fbff,#00f7ff,#00e7ff,#00dcff,#00e7ff,#00f4ff,#00eeff,#00f3ff,#00feff,#06fff9,#19ffe6,#22ffdd,#14ffeb,#12ffed,#13ffec,#00faff,#00e4ff,#00e4ff,#00ebff,#00e9ff,#00e3ff,#00e1ff,#00e0ff,#00e6ff,#00f4ff,#00feff,#00f6ff,#00f3ff,#09fff6,#2dffd2,#4cffb3,#46ffb9,#34ffcb,#38ffc7,#50ffaf,#49ffb6,#2affd5)"></div><div style="top:48.00px;background:linear-gradient(90deg,#0090ff,#0088ff,#007fff,#0077ff,#006fff,#0067ff,#005fff,#0059ff,#0052ff,#004dff,#0048ff,#0044ff,#0043ff,#0044ff,#0044ff,#0042ff,#0048ff,#0051ff,#005dff,#006aff,#006bff,#005eff,#005bff,#005aff,#0053ff,#0057ff,#005fff,#006aff,#007dff,#0094ff,#009cff,#0098ff,#0095ff,#008fff,#0084ff,#0083ff,#008aff,#0097ff,#00abff,#00bdff,#00d6ff,#00fbff,#22ffdd,#32ffcd,#2bffd4,#1fffe0,#06fff9,#00ebff,#00e0ff,#00dcff,#00d1ff,#00c7ff,#00bbff,#00b4ff,#00c0ff,#00cfff,#00d6ff,#00e4ff,#00eaff,#00e7ff,#00f2ff,#01fffe,#03fffc,#0afff5,#09fff6,#00faff,#00f3ff,#00eaff,#00e1ff,#00deff,#00e6ff,#00f3ff,#00f4ff,#00eeff,#00f3ff,#00fdff,#01fffe,#02fffd,#09fff6,#1affe5,#2effd1,#30ffcf,#24ffdb,#25ffda,#31ffce,#31ffce,#29ffd6)"></div><div style="top:49.00px;background:linear-gradient(90deg,#0090ff,#0088ff,#0080ff,#0078ff,#0070ff,#0069ff,#0061ff,#005bff,#0055ff,#004fff,#004aff,#0046ff,#0044ff,#0044ff,#0043ff,#0043ff,#0048ff,#004cff,#0052ff,#005cff,#0060ff,#005aff,#0056ff,#0056ff,#0050ff,#004bff,#0050ff,#005fff,#006eff,#0079ff,#007cff,#007bff,#0076ff,#006fff,#006cff,#006fff,#0078ff,#0088ff,#009cff,#00b3ff,#00ccff,#00e4ff,#00fdff,#0cfff3,#0bfff4,#06fff9,#00f6ff,#00deff,#00cbff,#00baff,#00a4ff,#0094ff,#008bff,#008bff,#0099ff,#00acff,#00baff,#00cbff,#00d8ff,#00daff,#00d9ff,#00deff,#00e7ff,#00eaff,#00e2ff,#00dcff,#00d8ff,#00d2ff,#00ccff,#00ccff,#00d8ff,#00e3ff,#00e5ff,#00e7ff,#00efff,#00faff,#05fffa,#10ffef,#19ffe6,#20ffdf,#27ffd8,#28ffd7,#24ffdb,#20ffdf,#1effe1,#1bffe4,#1affe5)"></div><div style="top:50.00px;background:linear-gradient(90deg,#0091ff,#0089ff,#0081ff,#0079ff,#0072ff,#006aff,#0064ff,#005dff,#0057ff,#0052ff,#004dff,#0048ff,#0045ff,#0044ff,#0043ff,#0044ff,#0046ff,#0046ff,#0047ff,#004cff,#0051ff,#004fff,#004aff,#0046ff,#0041ff,#003eff,#0042ff,#0050ff,#005fff,#006aff,#006dff,#0068ff,#005eff,#0055ff,#0052ff,#0057ff,#0063ff,#0074ff,#0088ff,#009fff,#00bbff,#00d7ff,#00f0ff,#00feff,#00feff,#00f6ff,#00e5ff,#00cdff,#00b2ff,#0093ff,#0075ff,#0062ff,#005bff,#0062ff,#0075ff,#008cff,#00a2ff,#00b7ff,#00c5ff,#00cbff,#00cdff,#00cfff,#00ceff,#00c8ff,#00bdff,#00b6ff,#00b5ff,#00b8ff,#00bcff,#00c3ff,#00cfff,#00d7ff,#00ddff,#00e4ff,#00ebff,#00f3ff,#00ffff,#0cfff3,#13ffec,#18ffe7,#1affe5,#19ffe6,#17ffe8,#15ffea,#12ffed,#0ffff0,#0dfff2)"></div><div style="top:51.00px;background:linear-gradient(90deg,#0092ff,#008aff,#0082ff,#007aff,#0073ff,#006cff,#0066ff,#005fff,#0059ff,#0054ff,#004eff,#004aff,#0046ff,#0045ff,#0045ff,#0046ff,#0046ff,#0044ff,#0042ff,#0041ff,#0042ff,#0041ff,#003fff,#003bff,#0037ff,#0035ff,#0038ff,#0043ff,#0051ff,#005eff,#0065ff,#0061ff,#0059ff,#0051ff,#004cff,#004fff,#005cff,#006cff,#007dff,#0090ff,#00a7ff,#00c0ff,#00d9ff,#00eaff,#00eeff,#00e6ff,#00d3ff,#00b8ff,#0098ff,#0076ff,#0058ff,#0043ff,#003bff,#0042ff,#0057ff,#0071ff,#008dff,#00a6ff,#00b8ff,#00c2ff,#00c6ff,#00c3ff,#00baff,#00aeff,#00a3ff,#009dff,#009fff,#00a8ff,#00b3ff,#00bfff,#00caff,#00d1ff,#00d5ff,#00dbff,#00e1ff,#00e9ff,#00f3ff,#00feff,#05fffa,#09fff6,#0afff5,#0bfff4,#0dfff2,#0cfff3,#0bfff4,#0afff5,#08fff7)"></div><div style="top:52.00px;background:linear-gradient(90deg,#0094ff,#008cff,#0084ff,#007cff,#0075ff,#006eff,#0067ff,#0061ff,#005bff,#0055ff,#004fff,#004aff,#0047ff,#0046ff,#0047ff,#0048ff,#0047ff,#0044ff,#0040ff,#003dff,#003cff,#003cff,#003cff,#0039ff,#0036ff,#0035ff,#0036ff,#003dff,#0048ff,#0055ff,#005dff,#005eff,#005aff,#0054ff,#0051ff,#0055ff,#0060ff,#006fff,#007fff,#008eff,#009fff,#00b3ff,#00c7ff,#00d6ff,#00dbff,#00d3ff,#00c0ff,#00a5ff,#0086ff,#0067ff,#004dff,#0039ff,#0031ff,#0036ff,#004aff,#0065ff,#0083ff,#009dff,#00afff,#00b7ff,#00b8ff,#00b3ff,#00a9ff,#009cff,#0092ff,#008fff,#0094ff,#00a1ff,#00b0ff,#00beff,#00c8ff,#00ccff,#00ceff,#00d1ff,#00d6ff,#00dfff,#00e9ff,#00f3ff,#00faff,#00ffff,#01fffe,#03fffc,#04fffb,#04fffb,#04fffb,#03fffc,#02fffd)"></div><div style="top:53.00px;background:linear-gradient(90deg,#0096ff,#008dff,#0085ff,#007dff,#0076ff,#006fff,#0068ff,#0062ff,#005cff,#0056ff,#0050ff,#004bff,#0047ff,#0047ff,#0048ff,#004aff,#0049ff,#0046ff,#0042ff,#003fff,#003dff,#003cff,#003bff,#0039ff,#0038ff,#0037ff,#0037ff,#003bff,#0043ff,#004cff,#0056ff,#005bff,#005bff,#0058ff,#0055ff,#0058ff,#0063ff,#0073ff,#0084ff,#0093ff,#00a0ff,#00aeff,#00bdff,#00c7ff,#00caff,#00c2ff,#00b1ff,#009aff,#007fff,#0066ff,#0050ff,#0041ff,#0039ff,#003eff,#0050ff,#006aff,#0085ff,#009bff,#00a6ff,#00a7ff,#00a2ff,#009aff,#0091ff,#0088ff,#0083ff,#0084ff,#008dff,#009dff,#00afff,#00beff,#00c6ff,#00c9ff,#00c8ff,#00c9ff,#00cfff,#00d9ff,#00e6ff,#00f3ff,#00feff,#05fffa,#08fff7,#08fff7,#05fffa,#01fffe,#00feff,#00feff,#00feff)"></div><div style="top:54.00px;background:linear-gradient(90deg,#0097ff,#008fff,#0087ff,#007fff,#0077ff,#0070ff,#0069ff,#0062ff,#005cff,#0056ff,#0050ff,#004aff,#0047ff,#0047ff,#0049ff,#004bff,#004bff,#004aff,#0047ff,#0044ff,#0040ff,#003cff,#0038ff,#0035ff,#0035ff,#0036ff,#0038ff,#003bff,#003fff,#0045ff,#004cff,#0054ff,#0058ff,#0057ff,#0055ff,#0056ff,#0060ff,#0072ff,#0085ff,#0097ff,#00a5ff,#00b0ff,#00b9ff,#00beff,#00bbff,#00b3ff,#00a4ff,#0092ff,#0080ff,#0070ff,#0061ff,#0056ff,#0050ff,#0053ff,#0062ff,#0078ff,#008eff,#009cff,#009eff,#0096ff,#008aff,#007eff,#0077ff,#0074ff,#0075ff,#007bff,#0087ff,#0097ff,#00a8ff,#00b6ff,#00bcff,#00bdff,#00baff,#00bcff,#00c4ff,#00d3ff,#00e6ff,#00f9ff,#0afff5,#16ffe9,#1bffe4,#1bffe4,#15ffea,#0efff1,#08fff7,#06fff9,#06fff9)"></div><div style="top:55.00px;background:linear-gradient(90deg,#0099ff,#0090ff,#0087ff,#007fff,#0078ff,#0070ff,#0069ff,#0062ff,#005cff,#0055ff,#004fff,#0049ff,#0046ff,#0046ff,#0048ff,#004bff,#004cff,#004cff,#004bff,#0046ff,#003fff,#0037ff,#002fff,#002bff,#002cff,#0031ff,#0037ff,#003cff,#003dff,#003eff,#0041ff,#0049ff,#0050ff,#0054ff,#0053ff,#0053ff,#005bff,#006cff,#0081ff,#0096ff,#00a6ff,#00b0ff,#00b4ff,#00b2ff,#00aaff,#009eff,#0092ff,#0087ff,#007fff,#0079ff,#0072ff,#006bff,#0065ff,#0065ff,#006fff,#0080ff,#0091ff,#0098ff,#0091ff,#0081ff,#006fff,#0062ff,#005dff,#0060ff,#0068ff,#0073ff,#0081ff,#0090ff,#009dff,#00a7ff,#00abff,#00a9ff,#00a6ff,#00a9ff,#00b5ff,#00c9ff,#00e2ff,#00fcff,#14ffeb,#25ffda,#2fffd0,#32ffcd,#2cffd3,#23ffdc,#1bffe4,#17ffe8,#15ffea)"></div><div style="top:56.00px;background:linear-gradient(90deg,#0099ff,#0090ff,#0088ff,#007fff,#0077ff,#0070ff,#0068ff,#0061ff,#005bff,#0054ff,#004eff,#0048ff,#0045ff,#0045ff,#0047ff,#004aff,#004dff,#004eff,#004cff,#0047ff,#003eff,#0032ff,#0028ff,#0022ff,#0024ff,#002dff,#0037ff,#003dff,#003cff,#003aff,#003aff,#0041ff,#004bff,#0052ff,#0053ff,#0053ff,#0058ff,#0066ff,#007bff,#0090ff,#00a1ff,#00aaff,#00abff,#00a5ff,#0099ff,#008bff,#0080ff,#007aff,#007aff,#007dff,#007fff,#007bff,#0075ff,#0071ff,#0076ff,#0082ff,#008eff,#0090ff,#0085ff,#0070ff,#005bff,#004eff,#004bff,#0051ff,#005dff,#006cff,#007aff,#0088ff,#0093ff,#0099ff,#0099ff,#0096ff,#0094ff,#0098ff,#00a7ff,#00bfff,#00dcff,#00faff,#16ffe9,#2affd5,#38ffc7,#3dffc2,#3affc5,#31ffce,#28ffd7,#21ffde,#1effe1)"></div></div><div class="fld" style="left:20.0px;top:150.8px"><div style="top:0.00px;background:linear-gradient(90deg,#ff6500,#ff6400,#ff6300,#ff6000,#ff5d00,#ff5900,#ff5400,#ff4f00,#ff4a00,#ff4500,#ff4200,#ff3f00,#ff3e00,#ff3d00,#ff3c00,#ff3c00,#ff3c00,#ff3b00,#ff3b00,#ff3c00,#ff3c00,#ff3c00,#ff3d00,#ff3e00,#ff4000,#ff4200,#ff4300,#ff4500,#ff4500,#ff4400,#ff4200,#ff3e00,#ff3800,#ff3100,#ff2a00,#ff2300,#ff1d00,#ff1800,#ff1600,#ff1500,#ff1700,#ff1a00,#ff1f00,#ff2400,#ff2a00,#ff3100,#ff3800,#ff3e00,#ff4500,#ff4a00,#ff4f00,#ff5300,#ff5600,#ff5a00,#ff5d00,#ff6000,#ff6400,#ff6800,#ff6c00,#ff7100,#ff7500,#ff7900,#ff7c00,#ff7e00,#ff7f00,#ff8000,#ff8000,#ff7e00,#ff7d00,#ff7a00,#ff7800,#ff7600,#ff7300,#ff7100,#ff6f00,#ff6e00,#ff6c00,#ff6b00,#ff6a00,#ff6a00,#ff6a00,#ff6a00,#ff6c00,#ff6e00,#ff7000,#ff7300,#ff7500)"></div><div style="top:1.00px;background:linear-gradient(90deg,#ff5f00,#ff5e00,#ff5d00,#ff5b00,#ff5800,#ff5400,#ff4f00,#ff4b00,#ff4600,#ff4300,#ff4000,#ff3d00,#ff3c00,#ff3b00,#ff3b00,#ff3a00,#ff3a00,#ff3a00,#ff3a00,#ff3a00,#ff3a00,#ff3b00,#ff3b00,#ff3c00,#ff3e00,#ff3f00,#ff4100,#ff4200,#ff4300,#ff4200,#ff4000,#ff3c00,#ff3600,#ff3000,#ff2800,#ff2200,#ff1c00,#ff1700,#ff1400,#ff1400,#ff1600,#ff1900,#ff1d00,#ff2300,#ff2900,#ff2f00,#ff3600,#ff3d00,#ff4300,#ff4800,#ff4d00,#ff5100,#ff5400,#ff5800,#ff5b00,#ff5e00,#ff6200,#ff6600,#ff6a00,#ff6f00,#ff7300,#ff7700,#ff7a00,#ff7d00,#ff7e00,#ff7f00,#ff7f00,#ff7e00,#ff7c00,#ff7a00,#ff7800,#ff7600,#ff7400,#ff7200,#ff7000,#ff6f00,#ff6e00,#ff6d00,#ff6c00,#ff6c00,#ff6c00,#ff6d00,#ff6e00,#ff7100,#ff7300,#ff7600,#ff7800)"></div><div style="top:2.00px;background:linear-gradient(90deg,#ff5700,#ff5600,#ff5500,#ff5300,#ff5100,#ff4d00,#ff4a00,#ff4600,#ff4300,#ff4000,#ff3e00,#ff3c00,#ff3b00,#ff3b00,#ff3b00,#ff3b00,#ff3b00,#ff3b00,#ff3a00,#ff3a00,#ff3a00,#ff3a00,#ff3b00,#ff3c00,#ff3d00,#ff3e00,#ff4000,#ff4100,#ff4100,#ff4100,#ff3f00,#ff3b00,#ff3600,#ff2f00,#ff2800,#ff2200,#ff1c00,#ff1800,#ff1500,#ff1400,#ff1600,#ff1900,#ff1d00,#ff2200,#ff2800,#ff2e00,#ff3500,#ff3b00,#ff4100,#ff4600,#ff4b00,#ff4f00,#ff5300,#ff5600,#ff5900,#ff5c00,#ff6000,#ff6400,#ff6800,#ff6d00,#ff7100,#ff7500,#ff7900,#ff7c00,#ff7e00,#ff7f00,#ff7f00,#ff7e00,#ff7d00,#ff7b00,#ff7900,#ff7700,#ff7500,#ff7300,#ff7200,#ff7000,#ff7000,#ff6f00,#ff6e00,#ff6f00,#ff6f00,#ff7000,#ff7200,#ff7400,#ff7700,#ff7a00,#ff7c00)"></div><div style="top:3.00px;background:linear-gradient(90deg,#ff4d00,#ff4d00,#ff4c00,#ff4a00,#ff4800,#ff4600,#ff4300,#ff4100,#ff3f00,#ff3d00,#ff3c00,#ff3c00,#ff3c00,#ff3c00,#ff3c00,#ff3c00,#ff3c00,#ff3c00,#ff3c00,#ff3c00,#ff3b00,#ff3b00,#ff3b00,#ff3c00,#ff3c00,#ff3e00,#ff3f00,#ff4000,#ff4100,#ff4000,#ff3e00,#ff3b00,#ff3600,#ff3000,#ff2a00,#ff2300,#ff1e00,#ff1a00,#ff1700,#ff1600,#ff1700,#ff1a00,#ff1e00,#ff2200,#ff2800,#ff2e00,#ff3400,#ff3a00,#ff4000,#ff4500,#ff4a00,#ff4e00,#ff5100,#ff5400,#ff5700,#ff5b00,#ff5e00,#ff6200,#ff6600,#ff6b00,#ff6f00,#ff7400,#ff7700,#ff7b00,#ff7d00,#ff7f00,#ff7f00,#ff7f00,#ff7e00,#ff7c00,#ff7a00,#ff7800,#ff7600,#ff7500,#ff7300,#ff7200,#ff7200,#ff7100,#ff7100,#ff7200,#ff7300,#ff7500,#ff7700,#ff7900,#ff7c00,#ff7f00,#ff8100)"></div><div style="top:4.00px;background:linear-gradient(90deg,#ff4300,#ff4300,#ff4200,#ff4100,#ff3f00,#ff3e00,#ff3c00,#ff3b00,#ff3a00,#ff3a00,#ff3b00,#ff3b00,#ff3c00,#ff3d00,#ff3e00,#ff3f00,#ff3f00,#ff3f00,#ff3e00,#ff3e00,#ff3d00,#ff3c00,#ff3c00,#ff3c00,#ff3d00,#ff3e00,#ff3f00,#ff4000,#ff4000,#ff3f00,#ff3e00,#ff3b00,#ff3600,#ff3100,#ff2b00,#ff2600,#ff2000,#ff1d00,#ff1a00,#ff1900,#ff1a00,#ff1c00,#ff1f00,#ff2400,#ff2900,#ff2e00,#ff3400,#ff3900,#ff3f00,#ff4400,#ff4800,#ff4c00,#ff4f00,#ff5300,#ff5600,#ff5900,#ff5c00,#ff6000,#ff6400,#ff6900,#ff6e00,#ff7200,#ff7600,#ff7a00,#ff7d00,#ff7f00,#ff8000,#ff7f00,#ff7f00,#ff7d00,#ff7b00,#ff7a00,#ff7800,#ff7600,#ff7500,#ff7400,#ff7400,#ff7400,#ff7500,#ff7600,#ff7700,#ff7900,#ff7c00,#ff7e00,#ff8100,#ff8400,#ff8700)"></div><div style="top:5.00px;background:linear-gradient(90deg,#ff3a00,#ff3900,#ff3800,#ff3700,#ff3700,#ff3600,#ff3500,#ff3600,#ff3600,#ff3800,#ff3900,#ff3b00,#ff3d00,#ff3f00,#ff4000,#ff4100,#ff4200,#ff4200,#ff4100,#ff4000,#ff3f00,#ff3e00,#ff3d00,#ff3d00,#ff3d00,#ff3d00,#ff3e00,#ff3f00,#ff3f00,#ff3f00,#ff3d00,#ff3b00,#ff3700,#ff3200,#ff2d00,#ff2800,#ff2400,#ff2000,#ff1e00,#ff1d00,#ff1e00,#ff1f00,#ff2200,#ff2600,#ff2a00,#ff2f00,#ff3400,#ff3900,#ff3e00,#ff4200,#ff4700,#ff4b00,#ff4e00,#ff5100,#ff5400,#ff5700,#ff5b00,#ff5e00,#ff6300,#ff6700,#ff6c00,#ff7100,#ff7500,#ff7900,#ff7d00,#ff7f00,#ff8000,#ff8000,#ff8000,#ff7e00,#ff7d00,#ff7b00,#ff7900,#ff7800,#ff7700,#ff7600,#ff7600,#ff7600,#ff7700,#ff7900,#ff7b00,#ff7e00,#ff8100,#ff8400,#ff8800,#ff8b00,#ff8d00)"></div><div style="top:6.00px;background:linear-gradient(90deg,#ff3100,#ff3100,#ff3000,#ff2f00,#ff2f00,#ff2f00,#ff2f00,#ff3000,#ff3200,#ff3500,#ff3800,#ff3b00,#ff3e00,#ff4000,#ff4200,#ff4300,#ff4400,#ff4400,#ff4300,#ff4200,#ff4100,#ff3f00,#ff3e00,#ff3d00,#ff3d00,#ff3d00,#ff3d00,#ff3e00,#ff3e00,#ff3d00,#ff3c00,#ff3a00,#ff3700,#ff3300,#ff2f00,#ff2b00,#ff2700,#ff2400,#ff2200,#ff2100,#ff2200,#ff2300,#ff2500,#ff2800,#ff2c00,#ff3000,#ff3400,#ff3900,#ff3d00,#ff4100,#ff4500,#ff4900,#ff4c00,#ff4f00,#ff5200,#ff5600,#ff5900,#ff5d00,#ff6100,#ff6500,#ff6a00,#ff6f00,#ff7400,#ff7900,#ff7c00,#ff7f00,#ff8000,#ff8100,#ff8000,#ff7f00,#ff7d00,#ff7c00,#ff7a00,#ff7900,#ff7800,#ff7700,#ff7800,#ff7900,#ff7a00,#ff7c00,#ff7f00,#ff8300,#ff8600,#ff8a00,#ff8e00,#ff9100,#ff9400)"></div><div style="top:7.00px;background:linear-gradient(90deg,#ff2a00,#ff2a00,#ff2900,#ff2800,#ff2800,#ff2800,#ff2a00,#ff2c00,#ff2f00,#ff3200,#ff3600,#ff3a00,#ff3d00,#ff4000,#ff4300,#ff4400,#ff4500,#ff4500,#ff4400,#ff4300,#ff4100,#ff4000,#ff3e00,#ff3d00,#ff3c00,#ff3b00,#ff3b00,#ff3b00,#ff3b00,#ff3b00,#ff3a00,#ff3800,#ff3600,#ff3300,#ff3000,#ff2c00,#ff2900,#ff2700,#ff2600,#ff2600,#ff2600,#ff2700,#ff2900,#ff2c00,#ff2f00,#ff3200,#ff3500,#ff3900,#ff3d00,#ff4000,#ff4400,#ff4700,#ff4b00,#ff4e00,#ff5100,#ff5400,#ff5700,#ff5b00,#ff5f00,#ff6400,#ff6900,#ff6e00,#ff7300,#ff7800,#ff7c00,#ff7f00,#ff8000,#ff8100,#ff8000,#ff7f00,#ff7e00,#ff7c00,#ff7a00,#ff7900,#ff7800,#ff7800,#ff7900,#ff7a00,#ff7c00,#ff7f00,#ff8300,#ff8700,#ff8c00,#ff9000,#ff9500,#ff9800,#ff9b00)"></div><div style="top:8.00px;background:linear-gradient(90deg,#ff2500,#ff2400,#ff2400,#ff2300,#ff2300,#ff2300,#ff2500,#ff2800,#ff2b00,#ff3000,#ff3400,#ff3800,#ff3c00,#ff3f00,#ff4200,#ff4300,#ff4400,#ff4400,#ff4300,#ff4200,#ff4000,#ff3e00,#ff3d00,#ff3b00,#ff3a00,#ff3900,#ff3800,#ff3800,#ff3800,#ff3700,#ff3600,#ff3500,#ff3300,#ff3100,#ff2f00,#ff2d00,#ff2b00,#ff2a00,#ff2900,#ff2a00,#ff2a00,#ff2c00,#ff2d00,#ff2f00,#ff3200,#ff3400,#ff3700,#ff3a00,#ff3c00,#ff4000,#ff4300,#ff4600,#ff4900,#ff4c00,#ff4f00,#ff5200,#ff5600,#ff5900,#ff5e00,#ff6200,#ff6800,#ff6d00,#ff7200,#ff7700,#ff7b00,#ff7e00,#ff8000,#ff8000,#ff8000,#ff7f00,#ff7d00,#ff7c00,#ff7a00,#ff7900,#ff7900,#ff7900,#ff7a00,#ff7c00,#ff7f00,#ff8200,#ff8700,#ff8c00,#ff9100,#ff9600,#ff9b00,#ff9f00,#ffa300)"></div><div style="top:9.00px;background:linear-gradient(90deg,#ff2200,#ff2100,#ff2000,#ff1f00,#ff1f00,#ff1f00,#ff2100,#ff2400,#ff2800,#ff2c00,#ff3100,#ff3500,#ff3900,#ff3c00,#ff3e00,#ff4000,#ff4100,#ff4100,#ff4000,#ff3f00,#ff3d00,#ff3b00,#ff3900,#ff3700,#ff3500,#ff3400,#ff3300,#ff3300,#ff3200,#ff3200,#ff3100,#ff3000,#ff2f00,#ff2e00,#ff2d00,#ff2c00,#ff2c00,#ff2c00,#ff2c00,#ff2d00,#ff2e00,#ff3000,#ff3100,#ff3300,#ff3500,#ff3700,#ff3800,#ff3a00,#ff3d00,#ff3f00,#ff4100,#ff4400,#ff4700,#ff4a00,#ff4d00,#ff5000,#ff5400,#ff5800,#ff5c00,#ff6100,#ff6600,#ff6b00,#ff7000,#ff7500,#ff7900,#ff7c00,#ff7e00,#ff7f00,#ff7f00,#ff7e00,#ff7d00,#ff7b00,#ff7a00,#ff7900,#ff7900,#ff7a00,#ff7b00,#ff7e00,#ff8100,#ff8500,#ff8a00,#ff9000,#ff9600,#ff9c00,#ffa200,#ffa600,#ffaa00)"></div><div style="top:10.00px;background:linear-gradient(90deg,#ff1f00,#ff1e00,#ff1c00,#ff1b00,#ff1b00,#ff1c00,#ff1d00,#ff2000,#ff2400,#ff2800,#ff2c00,#ff3000,#ff3400,#ff3700,#ff3900,#ff3a00,#ff3b00,#ff3b00,#ff3a00,#ff3900,#ff3700,#ff3500,#ff3300,#ff3100,#ff2f00,#ff2d00,#ff2c00,#ff2b00,#ff2a00,#ff2a00,#ff2a00,#ff2a00,#ff2a00,#ff2a00,#ff2a00,#ff2a00,#ff2b00,#ff2c00,#ff2d00,#ff2f00,#ff3100,#ff3300,#ff3500,#ff3700,#ff3800,#ff3900,#ff3a00,#ff3b00,#ff3d00,#ff3e00,#ff4000,#ff4200,#ff4500,#ff4800,#ff4b00,#ff4e00,#ff5200,#ff5600,#ff5b00,#ff5f00,#ff6400,#ff6800,#ff6d00,#ff7100,#ff7500,#ff7900,#ff7b00,#ff7d00,#ff7d00,#ff7d00,#ff7c00,#ff7b00,#ff7b00,#ff7a00,#ff7b00,#ff7b00,#ff7d00,#ff8000,#ff8400,#ff8800,#ff8e00,#ff9500,#ff9b00,#ffa200,#ffa800,#ffad00,#ffb100)"></div><div style="top:11.00px;background:linear-gradient(90deg,#ff1d00,#ff1b00,#ff1a00,#ff1800,#ff1800,#ff1800,#ff1a00,#ff1c00,#ff1f00,#ff2300,#ff2700,#ff2a00,#ff2d00,#ff3000,#ff3100,#ff3200,#ff3300,#ff3300,#ff3200,#ff3100,#ff2f00,#ff2d00,#ff2b00,#ff2800,#ff2600,#ff2400,#ff2300,#ff2200,#ff2100,#ff2100,#ff2100,#ff2200,#ff2200,#ff2400,#ff2500,#ff2700,#ff2900,#ff2b00,#ff2e00,#ff3100,#ff3400,#ff3600,#ff3900,#ff3a00,#ff3b00,#ff3c00,#ff3c00,#ff3d00,#ff3d00,#ff3e00,#ff3f00,#ff4100,#ff4300,#ff4600,#ff4900,#ff4d00,#ff5000,#ff5500,#ff5900,#ff5d00,#ff6000,#ff6200,#ff6500,#ff6800,#ff6c00,#ff7200,#ff7600,#ff7900,#ff7b00,#ff7c00,#ff7c00,#ff7c00,#ff7c00,#ff7c00,#ff7d00,#ff7e00,#ff8000,#ff8300,#ff8700,#ff8c00,#ff9200,#ff9900,#ffa000,#ffa700,#ffae00,#ffb300,#ffb700)"></div><div style="top:12.00px;background:linear-gradient(90deg,#ff1b00,#ff1900,#ff1700,#ff1600,#ff1500,#ff1500,#ff1600,#ff1800,#ff1b00,#ff1e00,#ff2100,#ff2400,#ff2600,#ff2800,#ff2800,#ff2900,#ff2900,#ff2900,#ff2800,#ff2700,#ff2600,#ff2400,#ff2100,#ff1f00,#ff1c00,#ff1a00,#ff1900,#ff1800,#ff1700,#ff1700,#ff1700,#ff1900,#ff1b00,#ff1d00,#ff2000,#ff2300,#ff2600,#ff2a00,#ff2e00,#ff3200,#ff3600,#ff3900,#ff3c00,#ff3e00,#ff3f00,#ff3f00,#ff3f00,#ff3f00,#ff3e00,#ff3e00,#ff3f00,#ff4000,#ff4200,#ff4500,#ff4800,#ff4b00,#ff4f00,#ff5300,#ff5600,#ff5900,#ff5a00,#ff5800,#ff5600,#ff5800,#ff5d00,#ff6600,#ff6f00,#ff7500,#ff7900,#ff7a00,#ff7c00,#ff7d00,#ff7e00,#ff7f00,#ff8000,#ff8100,#ff8400,#ff8700,#ff8b00,#ff9000,#ff9700,#ff9e00,#ffa500,#ffad00,#ffb300,#ffb900,#ffbd00)"></div><div style="top:13.00px;background:linear-gradient(90deg,#ff1900,#ff1700,#ff1500,#ff1400,#ff1300,#ff1300,#ff1400,#ff1500,#ff1700,#ff1a00,#ff1c00,#ff1d00,#ff1f00,#ff1f00,#ff1f00,#ff1f00,#ff1f00,#ff1e00,#ff1e00,#ff1d00,#ff1b00,#ff1900,#ff1700,#ff1400,#ff1200,#ff1000,#ff0e00,#ff0d00,#ff0d00,#ff0d00,#ff0e00,#ff1000,#ff1300,#ff1700,#ff1b00,#ff1f00,#ff2400,#ff2900,#ff2e00,#ff3300,#ff3800,#ff3c00,#ff3f00,#ff4100,#ff4200,#ff4300,#ff4200,#ff4100,#ff4000,#ff4000,#ff4000,#ff4000,#ff4200,#ff4400,#ff4700,#ff4a00,#ff4e00,#ff5100,#ff5400,#ff5500,#ff5300,#ff4d00,#ff4700,#ff4600,#ff4d00,#ff5a00,#ff6700,#ff7000,#ff7600,#ff7a00,#ff7c00,#ff7e00,#ff8000,#ff8200,#ff8400,#ff8600,#ff8800,#ff8c00,#ff9000,#ff9500,#ff9c00,#ffa300,#ffaa00,#ffb100,#ffb800,#ffbe00,#ffc200)"></div><div style="top:14.00px;background:linear-gradient(90deg,#ff1700,#ff1500,#ff1300,#ff1200,#ff1100,#ff1200,#ff1200,#ff1300,#ff1500,#ff1600,#ff1700,#ff1800,#ff1800,#ff1700,#ff1700,#ff1600,#ff1500,#ff1400,#ff1300,#ff1200,#ff1000,#ff0f00,#ff0c00,#ff0a00,#ff0800,#ff0600,#ff0400,#ff0300,#ff0300,#ff0400,#ff0600,#ff0900,#ff0c00,#ff1100,#ff1600,#ff1c00,#ff2200,#ff2800,#ff2e00,#ff3400,#ff3a00,#ff3f00,#ff4300,#ff4500,#ff4600,#ff4600,#ff4600,#ff4500,#ff4300,#ff4200,#ff4100,#ff4100,#ff4200,#ff4400,#ff4600,#ff4900,#ff4d00,#ff5000,#ff5200,#ff5200,#ff4f00,#ff4800,#ff4000,#ff3f00,#ff4600,#ff5400,#ff6200,#ff6d00,#ff7400,#ff7900,#ff7d00,#ff8000,#ff8300,#ff8600,#ff8800,#ff8b00,#ff8d00,#ff9100,#ff9500,#ff9a00,#ffa000,#ffa700,#ffaf00,#ffb600,#ffbc00,#ffc200,#ffc600)"></div><div style="top:15.00px;background:linear-gradient(90deg,#ff1500,#ff1300,#ff1200,#ff1100,#ff1100,#ff1100,#ff1200,#ff1200,#ff1300,#ff1400,#ff1400,#ff1300,#ff1200,#ff1100,#ff0f00,#ff0d00,#ff0c00,#ff0b00,#ff0900,#ff0800,#ff0700,#ff0500,#ff0300,#ff0100,#fe0000,#fc0000,#fb0000,#fa0000,#fa0000,#fb0000,#fe0000,#ff0200,#ff0700,#ff0c00,#ff1200,#ff1900,#ff2000,#ff2700,#ff2f00,#ff3600,#ff3c00,#ff4200,#ff4600,#ff4900,#ff4a00,#ff4b00,#ff4a00,#ff4900,#ff4700,#ff4500,#ff4400,#ff4400,#ff4400,#ff4500,#ff4700,#ff4900,#ff4c00,#ff4f00,#ff5100,#ff5100,#ff4f00,#ff4a00,#ff4500,#ff4500,#ff4b00,#ff5600,#ff6200,#ff6c00,#ff7400,#ff7900,#ff7e00,#ff8300,#ff8700,#ff8a00,#ff8d00,#ff9000,#ff9300,#ff9600,#ff9a00,#ff9f00,#ffa500,#ffac00,#ffb300,#ffb900,#ffbf00,#ffc500,#ffc900)"></div><div style="top:16.00px;background:linear-gradient(90deg,#ff1400,#ff1200,#ff1100,#ff1100,#ff1100,#ff1200,#ff1300,#ff1300,#ff1400,#ff1300,#ff1200,#ff1100,#ff0f00,#ff0c00,#ff0900,#ff0700,#ff0500,#ff0300,#ff0100,#ff0000,#fd0000,#fc0000,#fa0000,#f80000,#f60000,#f50000,#f40000,#f40000,#f40000,#f60000,#f90000,#fd0000,#ff0300,#ff0a00,#ff1000,#ff1800,#ff2000,#ff2800,#ff3000,#ff3800,#ff3f00,#ff4500,#ff4a00,#ff4d00,#ff4f00,#ff5000,#ff4f00,#ff4e00,#ff4c00,#ff4a00,#ff4900,#ff4800,#ff4700,#ff4800,#ff4900,#ff4b00,#ff4c00,#ff4e00,#ff5000,#ff5100,#ff5200,#ff5000,#ff4f00,#ff5000,#ff5500,#ff5c00,#ff6500,#ff6d00,#ff7400,#ff7a00,#ff8000,#ff8500,#ff8a00,#ff8e00,#ff9200,#ff9500,#ff9800,#ff9c00,#ffa000,#ffa500,#ffaa00,#ffb000,#ffb600,#ffbc00,#ffc200,#ffc600,#ffca00)"></div><div style="top:17.00px;background:linear-gradient(90deg,#ff1400,#ff1200,#ff1200,#ff1200,#ff1300,#ff1400,#ff1500,#ff1600,#ff1600,#ff1500,#ff1300,#ff1000,#ff0d00,#ff0a00,#ff0500,#ff0200,#fe0000,#fc0000,#fa0000,#f80000,#f70000,#f50000,#f40000,#f20000,#f10000,#f00000,#ef0000,#f00000,#f10000,#f30000,#f60000,#fb0000,#ff0200,#ff0900,#ff1100,#ff1900,#ff2300,#ff2d00,#ff3600,#ff3f00,#ff4600,#ff4b00,#ff5000,#ff5300,#ff5500,#ff5600,#ff5600,#ff5500,#ff5400,#ff5200,#ff5100,#ff4f00,#ff4e00,#ff4d00,#ff4e00,#ff4f00,#ff5000,#ff5100,#ff5200,#ff5400,#ff5500,#ff5600,#ff5600,#ff5800,#ff5c00,#ff6200,#ff6800,#ff6f00,#ff7500,#ff7c00,#ff8200,#ff8800,#ff8e00,#ff9300,#ff9700,#ff9b00,#ff9e00,#ffa100,#ffa600,#ffab00,#ffb000,#ffb500,#ffba00,#ffbf00,#ffc400,#ffc800,#ffca00)"></div><div style="top:18.00px;background:linear-gradient(90deg,#ff1400,#ff1300,#ff1300,#ff1400,#ff1500,#ff1700,#ff1800,#ff1900,#ff1800,#ff1700,#ff1400,#ff1100,#ff0c00,#ff0700,#ff0200,#fc0000,#f90000,#f60000,#f40000,#f30000,#f10000,#ef0000,#ee0000,#ee0000,#ed0000,#ec0000,#ec0000,#ed0000,#ee0000,#f00000,#f40000,#fa0000,#ff0300,#ff0c00,#ff1400,#ff1e00,#ff2a00,#ff3800,#ff4500,#ff4e00,#ff5200,#ff5500,#ff5800,#ff5a00,#ff5d00,#ff5f00,#ff5f00,#ff5f00,#ff5d00,#ff5c00,#ff5b00,#ff5900,#ff5700,#ff5700,#ff5700,#ff5700,#ff5600,#ff5600,#ff5700,#ff5800,#ff5900,#ff5b00,#ff5c00,#ff5e00,#ff6300,#ff6900,#ff6e00,#ff7100,#ff7700,#ff7f00,#ff8700,#ff8e00,#ff9500,#ff9a00,#ff9e00,#ffa100,#ffa500,#ffa800,#ffad00,#ffb300,#ffb700,#ffba00,#ffbe00,#ffc200,#ffc700,#ffc900,#ffcb00)"></div><div style="top:19.00px;background:linear-gradient(90deg,#ff1400,#ff1400,#ff1500,#ff1600,#ff1800,#ff1900,#ff1b00,#ff1b00,#ff1b00,#ff1a00,#ff1600,#ff1200,#ff0c00,#ff0500,#fe0000,#f80000,#f10000,#ed0000,#ec0000,#ec0000,#ed0000,#eb0000,#e90000,#e90000,#e80000,#e70000,#e90000,#e90000,#e90000,#ec0000,#f00000,#f70000,#ff0100,#ff0c00,#ff1700,#ff2600,#ff3a00,#ff4f00,#ff6100,#ff6b00,#ff6a00,#ff6600,#ff6200,#ff6200,#ff6500,#ff6800,#ff6900,#ff6900,#ff6700,#ff6700,#ff6600,#ff6300,#ff6200,#ff6000,#ff6000,#ff5e00,#ff5c00,#ff5d00,#ff5c00,#ff5900,#ff5900,#ff5b00,#ff5f00,#ff6300,#ff6900,#ff6d00,#ff7300,#ff7700,#ff7c00,#ff8500,#ff8e00,#ff9700,#ff9e00,#ffa100,#ffa400,#ffa800,#ffab00,#ffb100,#ffb700,#ffba00,#ffbd00,#ffbf00,#ffc300,#ffc800,#ffca00,#ffcc00,#ffce00)"></div><div style="top:20.00px;background:linear-gradient(90deg,#ff1600,#ff1600,#ff1700,#ff1800,#ff1a00,#ff1c00,#ff1d00,#ff1e00,#ff1e00,#ff1c00,#ff1800,#ff1500,#ff1200,#ff0c00,#ff0400,#fa0000,#ec0000,#e50000,#e60000,#e60000,#e70000,#e60000,#e30000,#e20000,#e20000,#e10000,#e10000,#e10000,#e10000,#e30000,#ee0000,#f90000,#ff0200,#ff0a00,#ff1400,#ff2700,#ff4a00,#ff7000,#ff8c00,#ff9600,#ff8d00,#ff7d00,#ff6f00,#ff6e00,#ff7300,#ff7100,#ff7100,#ff7400,#ff7400,#ff7300,#ff7600,#ff7400,#ff7000,#ff6c00,#ff6b00,#ff6a00,#ff6700,#ff6900,#ff6c00,#ff6500,#ff5f00,#ff6200,#ff6900,#ff6c00,#ff6f00,#ff7000,#ff7500,#ff7e00,#ff8700,#ff8d00,#ff9400,#ffa000,#ffa500,#ffa800,#ffad00,#ffb000,#ffb300,#ffbb00,#ffc000,#ffc300,#ffc600,#ffc500,#ffc700,#ffcc00,#ffce00,#ffd100,#ffd300)"></div><div style="top:21.00px;background:linear-gradient(90deg,#ff1900,#ff1900,#ff1900,#ff1b00,#ff1d00,#ff1e00,#ff2000,#ff2100,#ff2100,#ff1d00,#ff1500,#ff1400,#ff1600,#ff1000,#ff0800,#ff0500,#f60000,#e40000,#e40000,#e10000,#e10000,#e10000,#e10000,#e10000,#e10000,#e10000,#e10000,#e10000,#e10000,#e10000,#e10000,#eb0000,#ef0000,#f70000,#ff0400,#ff2400,#ff6000,#ff9300,#ffb100,#ffb700,#ffa800,#ff9300,#ff8500,#ff8100,#ff7e00,#ff7100,#ff7100,#ff8300,#ff8400,#ff8300,#ff8a00,#ff8700,#ff8500,#ff8500,#ff8300,#ff8200,#ff7f00,#ff7d00,#ff7700,#ff7100,#ff6900,#ff6800,#ff7300,#ff8000,#ff8200,#ff7900,#ff7400,#ff8000,#ff8e00,#ff9400,#ff9e00,#ffab00,#ffb100,#ffb800,#ffb700,#ffb900,#ffc100,#ffcb00,#ffc600,#ffc500,#ffca00,#ffcc00,#ffcf00,#ffd500,#ffd900,#ffdd00,#ffe000)"></div><div style="top:22.00px;background:linear-gradient(90deg,#ff1b00,#ff1c00,#ff1c00,#ff1d00,#ff1f00,#ff2000,#ff2100,#ff2300,#ff2400,#ff1f00,#ff1000,#ff0800,#ff0800,#ff0600,#ff0c00,#ff1c00,#ff1200,#f90000,#fb0000,#f30000,#e10000,#e10000,#e10000,#e10000,#e10000,#e10000,#e10000,#e10000,#e10000,#e10000,#e10000,#e10000,#e60000,#f60000,#fd0000,#ff3300,#ff8200,#ffad00,#ffb600,#ffa700,#ff9400,#ff9400,#ff9600,#ff9900,#ff9b00,#ff9700,#ff9600,#ffa200,#ff9c00,#ff9800,#ffa200,#ffa400,#ffa800,#ffa600,#ff9500,#ff7b00,#ff6e00,#ff7000,#ff7a00,#ff8c00,#ff8c00,#ff8000,#ff8f00,#ffae00,#ffa100,#ff7a00,#ff7800,#ff9100,#ffa100,#ffa500,#ffa000,#ffa500,#ffb600,#ffc600,#ffb000,#ffa700,#ffbc00,#ffcb00,#ffc800,#ffc800,#ffd400,#ffdd00,#ffe900,#fff700,#fff800,#ffe600,#ffe000)"></div><div style="top:23.00px;background:linear-gradient(90deg,#ff1e00,#ff1e00,#ff1f00,#ff2000,#ff2000,#ff2100,#ff2200,#ff2400,#ff2400,#ff1e00,#ff0a00,#fb0000,#e90000,#e10000,#ef0000,#fb0000,#fa0000,#ff0900,#ff1c00,#ff0400,#e10000,#e10000,#e10000,#e10000,#e10000,#e10000,#e40000,#e80000,#f00000,#ff1100,#ff1900,#e80000,#e10000,#fc0000,#ed0000,#ff1900,#ff5f00,#ff8a00,#ffa200,#ff9400,#ff8f00,#ff9400,#ff9200,#ff9d00,#ffb200,#ffc200,#ffc200,#ffbf00,#ffb100,#ffa600,#ffa000,#ff9c00,#ffc100,#ffc100,#ff9000,#ff7a00,#ff6900,#ff6000,#ff7900,#ff9800,#ff9b00,#ff9b00,#ffc500,#fffe00,#ffef00,#ffaf00,#ff8800,#ff9300,#ff9f00,#ffac00,#ff9e00,#ffa500,#ffc400,#ffd000,#ffb200,#ff9d00,#ff9d00,#ffa200,#ffce00,#ffef00,#fffa00,#fff300,#fff400,#f5ff0a,#efff10,#f6ff09,#faff05)"></div><div style="top:24.00px;background:linear-gradient(90deg,#ff2100,#ff2100,#ff2100,#ff2100,#ff2100,#ff2100,#ff2200,#ff2200,#ff2400,#ff1f00,#ff1300,#ff1800,#ff0900,#ee0000,#ea0000,#e10000,#e10000,#ff0500,#ff0900,#e10000,#e10000,#e10000,#e10000,#e10000,#e10000,#e10000,#f90000,#ff1e00,#ff2600,#ff4600,#ff4600,#fa0000,#f90000,#ff2a00,#f70000,#ff0a00,#ff4400,#ff6000,#ff8d00,#ff8c00,#ff8e00,#ffac00,#ffb100,#ffa900,#ffb900,#ffd100,#ffd600,#ffc400,#ffad00,#ff9100,#ff9000,#ff8600,#ff9900,#ff9f00,#ff9300,#ffa200,#ffa000,#ff9000,#ffa400,#ffb800,#ffac00,#ffb800,#ffdb00,#fbff04,#f5ff0a,#ffee00,#ffa500,#ff8a00,#ffa000,#ffa900,#ffa600,#ffbe00,#ffc900,#ffbf00,#ffb100,#ffa800,#ffab00,#ffcf00,#ebff14,#d0ff2f,#e9ff16,#ebff14,#e3ff1c,#eaff15,#fffc00,#ffe300,#ffcf00)"></div><div style="top:25.00px;background:linear-gradient(90deg,#ff2300,#ff2300,#ff2200,#ff2200,#ff2100,#ff2100,#ff2000,#ff1d00,#ff2100,#ff2000,#ff0e00,#ff1c00,#ff4000,#ff3000,#ea0000,#e10000,#e10000,#e10000,#e10000,#e10000,#ec0000,#eb0000,#e10000,#e10000,#e10000,#e10000,#ff0700,#ff2900,#ff4b00,#ff4d00,#ff2900,#ff2200,#ff4400,#ff7000,#ff3800,#ff3a00,#ff5800,#ff5800,#ff6d00,#ff5e00,#ff6100,#ffa200,#ffb700,#ffae00,#ffd100,#ffe700,#ffd300,#ffc200,#ffaf00,#ff7c00,#ff8d00,#ff9f00,#ff8e00,#ff9300,#ffba00,#ffea00,#f6ff09,#daff25,#d7ff28,#fff200,#ffb100,#ffa800,#ffce00,#fff400,#fffe00,#ffe600,#ffb400,#ff8300,#ffad00,#ffdb00,#ffd500,#ffec00,#fcff03,#ffe100,#ffca00,#ffef00,#edff12,#d8ff27,#baff45,#c1ff3e,#eaff15,#f7ff08,#fff700,#ffc100,#ffae00,#ffa700,#ff9700)"></div><div style="top:26.00px;background:linear-gradient(90deg,#ff2400,#ff2300,#ff2200,#ff2100,#ff2000,#ff1f00,#ff1d00,#ff1600,#ff1800,#ff1600,#ff0e00,#ff2300,#ff3f00,#ff2e00,#f20000,#e10000,#e10000,#e10000,#e10000,#e10000,#ff0400,#ff1f00,#ff0900,#ff1500,#ff2800,#ff3200,#ff6300,#ff9000,#ff9900,#ff9d00,#ffaa00,#ffd200,#ffff00,#ebff14,#ffc300,#ff7a00,#ff8300,#ff9b00,#ffae00,#ff9600,#ff7d00,#ffa000,#ffbe00,#ffcf00,#ffd200,#ffba00,#ffb100,#ffc000,#ff9e00,#ff6000,#ff7100,#ff9800,#ff9400,#ffa500,#ffdf00,#f8ff07,#e9ff16,#d4ff2b,#d9ff26,#ffde00,#ff9100,#ff9500,#ffda00,#faff05,#fff800,#ffcd00,#ff9b00,#ff7b00,#ffb700,#fff600,#fff600,#fff500,#ffee00,#ffd200,#ffd000,#f2ff0d,#dbff24,#c9ff36,#c4ff3b,#b2ff4d,#b0ff4f,#d6ff29,#f7ff08,#ffbe00,#ff9100,#ff9100,#ff7e00)"></div><div style="top:27.00px;background:linear-gradient(90deg,#ff2400,#ff2300,#ff2200,#ff2000,#ff1f00,#ff1d00,#ff1a00,#ff1200,#ff1100,#ff0d00,#ff0a00,#ff1500,#ff2100,#ff2d00,#ff2c00,#ff3200,#ff3100,#ff1100,#f50000,#ff1400,#ff4c00,#ff5900,#ff5400,#ff7000,#ff9300,#ffbf00,#ffe500,#f0ff0f,#f1ff0e,#edff12,#d7ff28,#d6ff29,#d3ff2c,#c4ff3b,#fcff03,#ffc700,#ffb400,#ff8200,#ff8000,#ff7d00,#ff7300,#ffad00,#f1ff0e,#d3ff2c,#fff900,#ffe500,#ffd600,#ff9300,#ff4f00,#ff5e00,#ff7700,#ff7c00,#ff6d00,#ff9000,#ffc700,#ffe600,#ffe400,#ffeb00,#ffed00,#ffb500,#ff8700,#ffab00,#ffd300,#fff800,#fcff03,#ffd500,#ffa000,#ffa200,#fff800,#d1ff2e,#dfff20,#efff10,#fdff02,#ffe100,#ffd200,#fff400,#ffe300,#fff200,#f8ff07,#d6ff29,#b3ff4c,#bcff43,#ceff31,#ffcd00,#ff9200,#ff9500,#ff7a00)"></div><div style="top:28.00px;background:linear-gradient(90deg,#ff2300,#ff2200,#ff2100,#ff1e00,#ff1c00,#ff1a00,#ff1800,#ff1200,#ff1000,#ff0d00,#ff0d00,#ff0600,#fb0000,#ff1100,#ff3100,#ff3800,#ff1500,#ff0e00,#ff5000,#ff9c00,#ffc700,#ffe300,#ffd700,#ffea00,#e4ff1b,#ccff33,#d3ff2c,#d3ff2c,#d8ff27,#e5ff1a,#ecff13,#efff10,#fff100,#ffd000,#ffc500,#ffbb00,#ff9700,#ff7700,#ff9300,#ffbe00,#ffbe00,#ffe800,#b9ff46,#acff53,#d3ff2c,#fffd00,#ffc400,#ff9600,#ff9c00,#ffca00,#ffac00,#ff7500,#ff7000,#ff9d00,#ffb900,#ffaa00,#ff9a00,#ffb000,#ffc200,#ffc300,#ffc500,#ffbd00,#ff9100,#ff8800,#ffa700,#ffc200,#ffca00,#ffcd00,#ffea00,#e0ff1f,#cdff32,#ceff31,#daff25,#fff700,#fff400,#eaff15,#f2ff0d,#ecff13,#ecff13,#ebff14,#cdff32,#daff25,#fffe00,#ffb500,#ff9400,#ff8d00,#ff7800)"></div><div style="top:29.00px;background:linear-gradient(90deg,#ff2100,#ff2000,#ff2000,#ff1f00,#ff1f00,#ff2000,#ff2100,#ff2200,#ff2200,#ff2300,#ff1a00,#ff0e00,#ff0900,#ff2000,#ff4700,#ff6300,#ff5d00,#ff5300,#ff7c00,#ffcb00,#e1ff1e,#cdff32,#f3ff0c,#f0ff0f,#d6ff29,#cdff32,#dbff24,#ddff22,#cdff32,#c3ff3c,#e3ff1c,#ffe800,#ffec00,#ffdd00,#ffe500,#fff600,#ffe900,#ffc600,#ffa200,#ffb400,#ffcc00,#ffca00,#ffec00,#c5ff3a,#b4ff4b,#dbff24,#fff900,#ffd900,#fff000,#f7ff08,#ffca00,#ff9600,#ff9900,#ffbd00,#ffe600,#ffdd00,#ffbc00,#ffb700,#ffb600,#ffac00,#ff9300,#ff8b00,#ffa300,#ff8600,#ff6800,#ff9100,#ffe400,#deff21,#ddff22,#dbff24,#dcff23,#e1ff1e,#d6ff29,#fff600,#ffd800,#ffee00,#daff25,#cfff30,#d3ff2c,#bbff44,#a4ff5b,#d2ff2d,#ffc800,#ff9100,#ff9800,#ffa400,#ffb900)"></div><div style="top:30.00px;background:linear-gradient(90deg,#ff1f00,#ff2300,#ff2700,#ff2b00,#ff2f00,#ff3400,#ff3b00,#ff4300,#ff4700,#ff4700,#ff4400,#ff4b00,#ff5100,#ff5a00,#ff6600,#ff7500,#ff7c00,#ff8a00,#ffa100,#ffd800,#dcff23,#d2ff2d,#f0ff0f,#e9ff16,#edff12,#fff400,#ffd500,#ffde00,#f9ff06,#eaff15,#eeff11,#fffb00,#fffc00,#f8ff07,#f8ff07,#fff700,#f2ff0d,#feff01,#ffec00,#fffa00,#fff500,#ffb600,#ffb300,#edff12,#caff35,#e1ff1e,#f9ff06,#fff100,#f5ff0a,#f0ff0f,#fcff03,#ffdb00,#ff9700,#ff8e00,#ffc100,#ffed00,#ffe700,#ffd400,#ffc000,#ff9b00,#ff7300,#ff7a00,#ffaa00,#ff8900,#ff6600,#ff9500,#ffe700,#dcff23,#efff10,#ffe800,#fff700,#f8ff07,#f8ff07,#fff400,#ffcf00,#ffde00,#edff12,#dcff23,#cbff34,#93ff6c,#6dff92,#8bff74,#f3ff0c,#ffd100,#ffec00,#eaff15,#a6ff59)"></div><div style="top:31.00px;background:linear-gradient(90deg,#ff1e00,#ff2d00,#ff3b00,#ff4700,#ff5400,#ff5f00,#ff6c00,#ff7b00,#ff8400,#ff8700,#ff9200,#ff9600,#ff8600,#ff8a00,#ff9000,#ff9b00,#ffbb00,#ffd500,#ffe100,#f8ff07,#b2ff4d,#bdff42,#d5ff2a,#a3ff5c,#7cff83,#adff52,#fdff02,#ffe900,#edff12,#d6ff29,#ddff22,#edff12,#f4ff0b,#d9ff26,#daff25,#f5ff0a,#fdff02,#dfff20,#c1ff3e,#dcff23,#ebff14,#ffef00,#ffbf00,#ffc100,#ffe700,#fff500,#fcff03,#f7ff08,#eaff15,#ffe900,#ffc200,#ff9900,#ff7300,#ff7f00,#ffa900,#ffc300,#ffbe00,#ffad00,#ff8000,#ff6500,#ff7200,#ff8d00,#ff9300,#ff8a00,#ff9300,#ff9d00,#ffa400,#ff9800,#ff7f00,#ff8100,#ffd000,#d4ff2b,#cdff32,#ffec00,#ffa700,#ffab00,#ffd300,#ffdc00,#faff05,#9cff63,#6bff94,#6eff91,#acff53,#e4ff1b,#dfff20,#d5ff2a,#eeff11)"></div><div style="top:32.00px;background:linear-gradient(90deg,#ff1d00,#ff4e00,#ff7c00,#ffa600,#ffcb00,#ffeb00,#f8ff07,#e4ff1b,#d6ff29,#d3ff2c,#c8ff37,#d2ff2d,#deff21,#e4ff1b,#ffec00,#ffd600,#ffef00,#fff000,#fffd00,#c9ff36,#9fff60,#9eff61,#9eff61,#67ff98,#5effa1,#6eff91,#86ff79,#bfff40,#e7ff18,#eeff11,#f6ff09,#fff800,#f8ff07,#d4ff2b,#d4ff2b,#ebff14,#fff900,#e9ff16,#fbff04,#ffc300,#ffec00,#e2ff1d,#f0ff0f,#f5ff0a,#fffd00,#fff500,#e7ff18,#d2ff2d,#b1ff4e,#b7ff48,#ffe500,#ff9a00,#ff9800,#ffb500,#ffa900,#ff9600,#ff8f00,#ff8700,#ff7e00,#ff7700,#ff7800,#ff8300,#ff8f00,#ff9400,#ff9000,#ff8200,#ff7a00,#ff6d00,#ff7a00,#ffa100,#fff800,#a3ff5c,#9eff61,#cdff32,#ebff14,#feff01,#ffe900,#ffe100,#fff700,#d6ff29,#adff52,#9fff60,#a6ff59,#cbff34,#f7ff08,#ffef00,#ffbf00)"></div><div style="top:33.00px;background:linear-gradient(90deg,#d8ff27,#b9ff46,#9fff60,#89ff76,#77ff88,#69ff96,#5effa1,#58ffa7,#53ffac,#4effb1,#4effb1,#5fffa0,#74ff8b,#a7ff58,#dcff23,#c3ff3c,#a8ff57,#fdff02,#ffeb00,#d8ff27,#a8ff57,#6bff94,#67ff98,#83ff7c,#d5ff2a,#ebff14,#f7ff08,#ffd500,#ffe200,#faff05,#deff21,#d7ff28,#dcff23,#efff10,#fff300,#ffed00,#f1ff0e,#d7ff28,#fffb00,#ffe300,#f0ff0f,#aaff55,#aaff55,#d9ff26,#fff900,#fffe00,#fbff04,#fff000,#fffe00,#d2ff2d,#cfff30,#edff12,#cdff32,#d8ff27,#ffd400,#ffb900,#ffac00,#ff8900,#ff9500,#ff8400,#ff7600,#ff8a00,#ffbb00,#ffcc00,#ff9800,#ff6d00,#ff7200,#ff8d00,#ffa400,#ffc200,#fff200,#d0ff2f,#d5ff2a,#efff10,#e3ff1c,#c1ff3e,#b8ff47,#c9ff36,#d1ff2e,#a5ff5a,#a7ff58,#c2ff3d,#abff54,#c8ff37,#ffed00,#ffdc00,#ffb900)"></div><div style="top:34.00px;background:linear-gradient(90deg,#11ffee,#12ffed,#14ffeb,#17ffe8,#1bffe4,#1effe1,#22ffdd,#29ffd6,#29ffd6,#27ffd8,#35ffca,#58ffa7,#7eff81,#a8ff57,#abff54,#82ff7d,#95ff6a,#fbff04,#feff01,#c2ff3d,#9cff63,#6aff95,#7bff84,#bbff44,#fff700,#ffcb00,#ffc200,#ffc100,#ffd600,#ffe200,#e8ff17,#d1ff2e,#d1ff2e,#c1ff3e,#eeff11,#fff400,#fdff02,#f2ff0d,#fcff03,#e2ff1d,#a9ff56,#5effa1,#64ff9b,#c3ff3c,#e2ff1d,#d7ff28,#fff400,#ffa600,#ffb700,#fff900,#b6ff49,#aeff51,#a1ff5e,#a8ff57,#dcff23,#ecff13,#e6ff19,#ffe600,#ffd900,#ffde00,#ffe000,#ffdb00,#ffe600,#ffe400,#ffb700,#ff9200,#ffa400,#ffcb00,#ffd800,#fcff03,#fff600,#ffe100,#fff600,#f1ff0e,#e0ff1f,#d1ff2e,#c1ff3e,#c9ff36,#e4ff1b,#c8ff37,#9fff60,#9bff64,#abff54,#ceff31,#fffe00,#eaff15,#dcff23)"></div><div style="top:35.00px;background:linear-gradient(90deg,#00ffff,#01fffe,#02fffd,#05fffa,#07fff8,#0afff5,#0dfff2,#13ffec,#14ffeb,#16ffe9,#26ffd9,#3dffc2,#4bffb4,#55ffaa,#5fffa0,#6eff91,#84ff7b,#a7ff58,#a5ff5a,#89ff76,#6eff91,#40ffbf,#41ffbe,#97ff68,#ecff13,#ffc600,#ffa300,#ffbb00,#ffd500,#fff100,#c5ff3a,#b9ff46,#c3ff3c,#c1ff3e,#cbff34,#cdff32,#caff35,#bbff44,#c7ff38,#c9ff36,#a1ff5e,#5bffa4,#68ff97,#b1ff4e,#b0ff4f,#c4ff3b,#fff600,#ffbf00,#ffef00,#dcff23,#bbff44,#cfff30,#ecff13,#e6ff19,#ddff22,#ccff33,#adff52,#ddff22,#ffef00,#e5ff1a,#baff45,#e0ff1f,#ffed00,#ffb000,#ff8a00,#ffa400,#ffdd00,#ffe700,#ffbb00,#ffcd00,#ffd000,#ffe000,#e9ff16,#d6ff29,#f0ff0f,#f6ff09,#f7ff08,#f8ff07,#dcff23,#d2ff2d,#b0ff4f,#95ff6a,#a5ff5a,#d3ff2c,#eaff15,#cbff34,#b4ff4b)"></div><div style="top:36.00px;background:linear-gradient(90deg,#00f5ff,#00f5ff,#00f7ff,#00f8ff,#00faff,#00fbff,#00fcff,#03fffc,#01fffe,#02fffd,#0bfff4,#1bffe4,#39ffc6,#3effc1,#43ffbc,#52ffad,#47ffb8,#45ffba,#4cffb3,#3dffc2,#48ffb7,#6bff94,#7aff85,#96ff69,#abff54,#d6ff29,#fdff02,#ffff00,#ecff13,#96ff69,#47ffb8,#69ff96,#9eff61,#ceff31,#d6ff29,#a3ff5c,#88ff77,#81ff7e,#95ff6a,#aaff55,#8bff74,#53ffac,#53ffac,#81ff7e,#a6ff59,#baff45,#c1ff3e,#d8ff27,#c3ff3c,#c2ff3d,#cdff32,#e4ff1b,#feff01,#ffe900,#ffeb00,#f5ff0a,#d4ff2b,#e3ff1c,#e0ff1f,#c6ff39,#c8ff37,#dcff23,#ffea00,#ffbc00,#ffb300,#ffdb00,#ecff13,#f1ff0e,#ffdf00,#ffd200,#ffd900,#f9ff06,#e2ff1d,#ddff22,#eaff15,#feff01,#fff300,#ffed00,#f8ff07,#fdff02,#faff05,#e3ff1c,#d5ff2a,#cbff34,#cfff30,#ceff31,#e2ff1d)"></div><div style="top:37.00px;background:linear-gradient(90deg,#00f0ff,#00ecff,#00eaff,#00e9ff,#00e7ff,#00e6ff,#00e6ff,#00e8ff,#00e5ff,#00e4ff,#00e0ff,#00e9ff,#0cfff3,#15ffea,#11ffee,#21ffde,#4effb1,#83ff7c,#69ff96,#27ffd8,#24ffdb,#5affa5,#64ff9b,#4effb1,#4fffb0,#62ff9d,#8bff74,#e1ff1e,#fffd00,#91ff6e,#44ffbb,#4dffb2,#77ff88,#a5ff5a,#beff41,#9eff61,#7fff80,#8cff73,#90ff6f,#8bff74,#70ff8f,#59ffa6,#5dffa2,#69ff96,#90ff6f,#9cff63,#a5ff5a,#ceff31,#cbff34,#cbff34,#eeff11,#ffe200,#ffc400,#ffbb00,#ffd300,#fff400,#b5ff4a,#81ff7e,#adff52,#f6ff09,#fbff04,#e7ff18,#f5ff0a,#ffe800,#ffd200,#ffe900,#fff900,#ffed00,#ffe900,#ffdf00,#ffd800,#ffe900,#fff800,#fbff04,#f8ff07,#fff900,#faff05,#fffa00,#fffa00,#ffe600,#ffe000,#fdff02,#e2ff1d,#beff41,#b3ff4c,#9cff63,#86ff79)"></div><div style="top:38.00px;background:linear-gradient(90deg,#00edff,#00e0ff,#00d6ff,#00cdff,#00c7ff,#00c1ff,#00beff,#00bfff,#00c3ff,#00c8ff,#00c6ff,#00c5ff,#00d6ff,#00ecff,#21ffde,#47ffb8,#45ffba,#55ffaa,#43ffbc,#1dffe2,#14ffeb,#2bffd4,#49ffb6,#56ffa9,#61ff9e,#86ff79,#b1ff4e,#eeff11,#fcff03,#b0ff4f,#9eff61,#baff45,#a4ff5b,#8eff71,#a0ff5f,#9fff60,#6aff95,#5fffa0,#79ff86,#9eff61,#94ff6b,#7eff81,#89ff76,#86ff79,#7aff85,#5cffa3,#7bff84,#c0ff3f,#c2ff3d,#d4ff2b,#f1ff0e,#ffdd00,#ffba00,#ffc700,#ffd900,#fff900,#bfff40,#a3ff5c,#cfff30,#ffeb00,#ffe100,#ffed00,#ddff22,#ccff33,#dbff24,#daff25,#f0ff0f,#ffe900,#ffde00,#fff400,#fffd00,#ffe500,#fffb00,#e6ff19,#f2ff0d,#f5ff0a,#deff21,#f0ff0f,#f7ff08,#f3ff0c,#e0ff1f,#b3ff4c,#abff54,#9aff65,#73ff8c,#55ffaa,#52ffad)"></div><div style="top:39.00px;background:linear-gradient(90deg,#00ebff,#00d8ff,#00c7ff,#00baff,#00aeff,#00a4ff,#009eff,#009cff,#009bff,#0097ff,#008aff,#0085ff,#00a3ff,#00c8ff,#00eeff,#02fffd,#00f5ff,#17ffe8,#16ffe9,#00f4ff,#00e8ff,#0afff5,#33ffcc,#46ffb9,#5effa1,#8dff72,#a6ff59,#b6ff49,#aaff55,#afff50,#dfff20,#e6ff19,#ccff33,#b2ff4d,#b4ff4b,#c9ff36,#b3ff4c,#84ff7b,#7bff84,#94ff6b,#8fff70,#7cff83,#68ff97,#6cff93,#62ff9d,#3bffc4,#3affc5,#6dff92,#97ff68,#c1ff3e,#ebff14,#ffca00,#ffd800,#daff25,#ceff31,#e9ff16,#faff05,#ecff13,#e1ff1e,#e3ff1c,#d5ff2a,#f1ff0e,#daff25,#d8ff27,#e9ff16,#d3ff2c,#a0ff5f,#c8ff37,#fff800,#e8ff17,#c0ff3f,#f9ff06,#fffe00,#c5ff3a,#b8ff47,#aaff55,#aeff51,#b7ff48,#b8ff47,#b8ff47,#9bff64,#83ff7c,#a0ff5f,#9bff64,#5fffa0,#1effe1,#00f3ff)"></div><div style="top:40.00px;background:linear-gradient(90deg,#00e7ff,#00d4ff,#00c2ff,#00b3ff,#00a6ff,#009bff,#0093ff,#0091ff,#008eff,#0094ff,#0099ff,#00a3ff,#00b9ff,#00b4ff,#00baff,#00efff,#0dfff2,#11ffee,#00f0ff,#00d2ff,#00adff,#00c5ff,#00efff,#14ffeb,#3effc1,#63ff9c,#64ff9b,#61ff9e,#62ff9d,#94ff6b,#baff45,#96ff69,#79ff86,#83ff7c,#83ff7c,#6eff91,#73ff8c,#3fffc0,#1affe5,#51ffae,#6bff94,#80ff7f,#67ff98,#55ffaa,#66ff99,#5cffa3,#33ffcc,#12ffed,#1fffe0,#59ffa6,#a2ff5d,#efff10,#dfff20,#a7ff58,#a1ff5e,#a9ff56,#9cff63,#7dff82,#73ff8c,#a8ff57,#d2ff2d,#e2ff1d,#cbff34,#b6ff49,#f3ff0c,#feff01,#b7ff48,#b9ff46,#cbff34,#b7ff48,#afff50,#d3ff2c,#deff21,#d4ff2b,#c3ff3c,#a9ff56,#c6ff39,#bfff40,#80ff7f,#70ff8f,#8cff73,#a6ff59,#a0ff5f,#7bff84,#6bff94,#5dffa2,#36ffc9)"></div><div style="top:41.00px;background:linear-gradient(90deg,#00e3ff,#00d0ff,#00beff,#00aeff,#00a0ff,#0094ff,#008cff,#0087ff,#0088ff,#0099ff,#00a7ff,#00b3ff,#00c7ff,#00b9ff,#00aeff,#00d5ff,#00f4ff,#00deff,#00c2ff,#00adff,#0095ff,#00b9ff,#00cfff,#00ceff,#00feff,#36ffc9,#1cffe3,#0dfff2,#38ffc7,#62ff9d,#54ffab,#42ffbd,#29ffd6,#19ffe6,#25ffda,#10ffef,#00fcff,#00d4ff,#00d6ff,#1dffe2,#42ffbd,#64ff9b,#62ff9d,#46ffb9,#59ffa6,#47ffb8,#03fffc,#00faff,#00fbff,#0afff5,#5bffa4,#8fff70,#76ff89,#5bffa4,#43ffbc,#41ffbe,#48ffb7,#35ffca,#3cffc3,#7aff85,#80ff7f,#60ff9f,#67ff98,#76ff89,#b1ff4e,#c0ff3f,#aaff55,#aeff51,#a9ff56,#8dff72,#8fff70,#9cff63,#8cff73,#6aff95,#76ff89,#81ff7e,#7cff83,#84ff7b,#7eff81,#5dffa2,#44ffbb,#67ff98,#6fff90,#52ffad,#55ffaa,#5cffa3,#37ffc8)"></div><div style="top:42.00px;background:linear-gradient(90deg,#00dfff,#00cdff,#00bbff,#00abff,#009cff,#008fff,#0086ff,#0081ff,#0082ff,#008bff,#009bff,#00a7ff,#00bbff,#00d1ff,#00d7ff,#00ddff,#00eeff,#00dbff,#00c9ff,#0086ff,#0068ff,#00a4ff,#00beff,#00a8ff,#00eaff,#25ffda,#1affe5,#0dfff2,#0cfff3,#11ffee,#1bffe4,#1affe5,#07fff8,#00ebff,#00fbff,#00f1ff,#00e3ff,#00d9ff,#00e2ff,#0bfff4,#3cffc3,#59ffa6,#53ffac,#44ffbb,#2affd5,#06fff9,#00f5ff,#1dffe2,#30ffcf,#3dffc2,#52ffad,#51ffae,#35ffca,#34ffcb,#3dffc2,#17ffe8,#05fffa,#10ffef,#1fffe0,#36ffc9,#2cffd3,#1fffe0,#30ffcf,#42ffbd,#63ff9c,#68ff97,#67ff98,#85ff7a,#75ff8a,#40ffbf,#40ffbf,#6aff95,#73ff8c,#5affa5,#56ffa9,#46ffb9,#2dffd2,#2effd1,#30ffcf,#36ffc9,#36ffc9,#45ffba,#6bff94,#62ff9d,#4effb1,#57ffa8,#5cffa3)"></div><div style="top:43.00px;background:linear-gradient(90deg,#00daff,#00caff,#00b9ff,#00a8ff,#0098ff,#008bff,#0081ff,#007dff,#0081ff,#0084ff,#0092ff,#00a3ff,#00aeff,#00c8ff,#00d6ff,#00b8ff,#00adff,#00b4ff,#009bff,#006dff,#005eff,#0077ff,#00a2ff,#00a8ff,#00d6ff,#01fffe,#0cfff3,#16ffe9,#18ffe7,#1dffe2,#52ffad,#60ff9f,#3fffc0,#1effe1,#0efff1,#09fff6,#05fffa,#00fdff,#24ffdb,#5affa5,#6bff94,#47ffb8,#0cfff3,#14ffeb,#26ffd9,#10ffef,#00f3ff,#1dffe2,#4dffb2,#52ffad,#51ffae,#38ffc7,#07fff8,#0afff5,#3effc1,#39ffc6,#10ffef,#0afff5,#1bffe4,#05fffa,#00e2ff,#00fdff,#27ffd8,#1dffe2,#16ffe9,#37ffc8,#60ff9f,#93ff6c,#7eff81,#42ffbd,#2dffd2,#39ffc6,#52ffad,#47ffb8,#29ffd6,#16ffe9,#1effe1,#13ffec,#10ffef,#30ffcf,#48ffb7,#37ffc8,#4affb5,#3effc1,#15ffea,#22ffdd,#3cffc3)"></div><div style="top:44.00px;background:linear-gradient(90deg,#00d6ff,#00c6ff,#00b6ff,#00a5ff,#0096ff,#0088ff,#007eff,#007bff,#007bff,#007dff,#0084ff,#008dff,#0095ff,#009bff,#0097ff,#0098ff,#0096ff,#008cff,#0083ff,#0085ff,#0081ff,#006dff,#0082ff,#00a1ff,#00b8ff,#00cdff,#00d3ff,#00deff,#00e9ff,#00edff,#15ffea,#35ffca,#39ffc6,#33ffcc,#1bffe4,#25ffda,#35ffca,#2affd5,#50ffaf,#80ff7f,#82ff7d,#63ff9c,#34ffcb,#35ffca,#3fffc0,#2effd1,#24ffdb,#39ffc6,#7eff81,#69ff96,#18ffe7,#00efff,#08fff7,#21ffde,#1fffe0,#24ffdb,#27ffd8,#15ffea,#15ffea,#09fff6,#00f5ff,#16ffe9,#28ffd7,#0cfff3,#00f6ff,#28ffd7,#60ff9f,#75ff8a,#57ffa8,#41ffbe,#2effd1,#08fff7,#10ffef,#07fff8,#00f4ff,#00f7ff,#03fffc,#00f9ff,#00fbff,#23ffdc,#4effb1,#48ffb7,#33ffcc,#24ffdb,#25ffda,#22ffdd,#11ffee)"></div><div style="top:45.00px;background:linear-gradient(90deg,#00d2ff,#00c3ff,#00b3ff,#00a4ff,#0095ff,#0088ff,#007eff,#007aff,#007aff,#007dff,#0076ff,#006aff,#0066ff,#006eff,#0078ff,#0083ff,#0092ff,#0092ff,#0074ff,#0067ff,#006cff,#0064ff,#0066ff,#0077ff,#0087ff,#009dff,#009eff,#00a7ff,#00b9ff,#00c5ff,#00c8ff,#00d8ff,#09fff6,#2effd1,#1bffe4,#11ffee,#1cffe3,#18ffe7,#22ffdd,#4affb5,#59ffa6,#4bffb4,#32ffcd,#32ffcd,#37ffc8,#35ffca,#2fffd0,#47ffb8,#c0ff3f,#e9ff16,#6eff91,#1affe5,#2bffd4,#2fffd0,#26ffd9,#32ffcd,#29ffd6,#0efff1,#0afff5,#17ffe8,#15ffea,#25ffda,#2affd5,#10ffef,#1bffe4,#48ffb7,#60ff9f,#62ff9d,#5cffa3,#56ffa9,#4cffb3,#35ffca,#23ffdc,#11ffee,#02fffd,#00ffff,#07fff8,#12ffed,#19ffe6,#20ffdf,#3cffc3,#41ffbe,#39ffc6,#2effd1,#29ffd6,#2effd1,#1effe1)"></div><div style="top:46.00px;background:linear-gradient(90deg,#00ceff,#00c0ff,#00b1ff,#00a3ff,#0095ff,#0088ff,#007eff,#0079ff,#0075ff,#0076ff,#0070ff,#0064ff,#005cff,#0062ff,#006cff,#0070ff,#006fff,#006cff,#005eff,#005dff,#005bff,#0047ff,#003cff,#004bff,#0064ff,#0079ff,#007aff,#0089ff,#009fff,#00adff,#00b3ff,#00beff,#00d3ff,#00e6ff,#00eeff,#00ffff,#17ffe8,#24ffdb,#29ffd6,#36ffc9,#39ffc6,#30ffcf,#24ffdb,#2cffd3,#32ffcd,#2bffd4,#24ffdb,#2fffd0,#67ff98,#88ff77,#52ffad,#26ffd9,#22ffdd,#14ffeb,#1cffe3,#35ffca,#2fffd0,#19ffe6,#0ffff0,#16ffe9,#1effe1,#23ffdc,#21ffde,#22ffdd,#31ffce,#4bffb4,#5bffa4,#59ffa6,#5effa1,#61ff9e,#57ffa8,#50ffaf,#3dffc2,#29ffd6,#2bffd4,#2cffd3,#26ffd9,#21ffde,#1affe5,#12ffed,#17ffe8,#1bffe4,#28ffd7,#26ffd9,#22ffdd,#20ffdf,#15ffea)"></div><div style="top:47.00px;background:linear-gradient(90deg,#00cbff,#00bdff,#00afff,#00a1ff,#0094ff,#0088ff,#007eff,#0078ff,#0075ff,#0073ff,#006dff,#0062ff,#005aff,#005bff,#0064ff,#0066ff,#0062ff,#005eff,#005bff,#005fff,#005cff,#004bff,#0040ff,#004aff,#0057ff,#0061ff,#0069ff,#0074ff,#008aff,#009bff,#009fff,#00a8ff,#00b4ff,#00bdff,#00c8ff,#00dbff,#00f1ff,#01fffe,#0afff5,#12ffed,#10ffef,#0efff1,#05fffa,#07fff8,#0ffff0,#13ffec,#17ffe8,#15ffea,#18ffe7,#17ffe8,#07fff8,#00feff,#03fffc,#00ffff,#04fffb,#13ffec,#11ffee,#02fffd,#00fbff,#01fffe,#0bfff4,#10ffef,#17ffe8,#22ffdd,#2bffd4,#36ffc9,#43ffbc,#45ffba,#44ffbb,#43ffbc,#3dffc2,#34ffcb,#2affd5,#29ffd6,#2cffd3,#31ffce,#32ffcd,#24ffdb,#12ffed,#07fff8,#0efff1,#15ffea,#1dffe2,#17ffe8,#14ffeb,#18ffe7,#15ffea)"></div><div style="top:48.00px;background:linear-gradient(90deg,#00c8ff,#00bbff,#00adff,#00a0ff,#0093ff,#0087ff,#007dff,#0078ff,#0075ff,#0072ff,#006bff,#0062ff,#005aff,#0059ff,#005fff,#0065ff,#0069ff,#0068ff,#0061ff,#005cff,#005aff,#0050ff,#0045ff,#0045ff,#0049ff,#004fff,#0058ff,#0062ff,#0070ff,#007dff,#0089ff,#0094ff,#009eff,#00aaff,#00b6ff,#00c3ff,#00ceff,#00d3ff,#00d4ff,#00d7ff,#00ddff,#00e8ff,#00f1ff,#00f6ff,#00f9ff,#00ffff,#07fff8,#03fffc,#00fbff,#00f1ff,#00e9ff,#00e5ff,#00e8ff,#00efff,#00f7ff,#00faff,#00f4ff,#00ecff,#00e6ff,#00e8ff,#00ecff,#00eeff,#00f4ff,#01fffe,#0ffff0,#1fffe0,#2fffd0,#36ffc9,#32ffcd,#2dffd2,#29ffd6,#25ffda,#24ffdb,#28ffd7,#2bffd4,#27ffd8,#22ffdd,#18ffe7,#0ffff0,#0dfff2,#15ffea,#15ffea,#12ffed,#10ffef,#15ffea,#20ffdf,#25ffda)"></div><div style="top:49.00px;background:linear-gradient(90deg,#00c6ff,#00b8ff,#00abff,#009dff,#0091ff,#0086ff,#007cff,#0077ff,#0075ff,#0072ff,#006dff,#0065ff,#005eff,#005dff,#0063ff,#006bff,#0073ff,#0075ff,#006dff,#0063ff,#005bff,#0052ff,#004bff,#0047ff,#0045ff,#0044ff,#0046ff,#004eff,#005cff,#006bff,#007aff,#0088ff,#0092ff,#0098ff,#00a1ff,#00abff,#00afff,#00aeff,#00abff,#00acff,#00b1ff,#00bcff,#00c8ff,#00d4ff,#00dfff,#00eaff,#00f1ff,#00f1ff,#00eaff,#00e2ff,#00dbff,#00daff,#00deff,#00e9ff,#00f2ff,#00f1ff,#00e8ff,#00ddff,#00d3ff,#00ceff,#00ccff,#00cbff,#00d1ff,#00dbff,#00e8ff,#00f8ff,#07fff8,#10ffef,#12ffed,#11ffee,#10ffef,#12ffed,#14ffeb,#14ffeb,#0ffff0,#08fff7,#01fffe,#00feff,#00ffff,#04fffb,#08fff7,#07fff8,#04fffb,#07fff8,#0ffff0,#1bffe4,#24ffdb)"></div><div style="top:50.00px;background:linear-gradient(90deg,#00c4ff,#00b6ff,#00a9ff,#009bff,#008fff,#0084ff,#007bff,#0076ff,#0074ff,#0072ff,#006dff,#0067ff,#0063ff,#0063ff,#0068ff,#006eff,#0074ff,#0075ff,#006cff,#0060ff,#0055ff,#004eff,#004cff,#004cff,#004aff,#0045ff,#0040ff,#0043ff,#0050ff,#0063ff,#0078ff,#0087ff,#008eff,#0090ff,#0094ff,#0099ff,#009dff,#009fff,#009dff,#0099ff,#0096ff,#0098ff,#009eff,#00a9ff,#00b8ff,#00c8ff,#00d2ff,#00d5ff,#00d1ff,#00cdff,#00cdff,#00d3ff,#00ddff,#00eaff,#00f3ff,#00f3ff,#00e9ff,#00d9ff,#00caff,#00bfff,#00b8ff,#00b5ff,#00b6ff,#00bcff,#00c5ff,#00d0ff,#00daff,#00e2ff,#00e7ff,#00ebff,#00eeff,#00f2ff,#00f2ff,#00ecff,#00e2ff,#00d9ff,#00d6ff,#00d9ff,#00dfff,#00e6ff,#00e8ff,#00e7ff,#00e6ff,#00e8ff,#00f0ff,#00fbff,#07fff8)"></div><div style="top:51.00px;background:linear-gradient(90deg,#00c1ff,#00b4ff,#00a7ff,#0099ff,#008dff,#0082ff,#007aff,#0074ff,#0071ff,#006eff,#006aff,#0067ff,#0065ff,#0067ff,#006cff,#006fff,#0070ff,#006bff,#005eff,#0052ff,#004aff,#0049ff,#004cff,#0050ff,#0052ff,#004dff,#0047ff,#0045ff,#004eff,#0061ff,#0077ff,#0088ff,#008eff,#008eff,#008cff,#008eff,#0092ff,#0096ff,#0095ff,#008fff,#0086ff,#0080ff,#0080ff,#0087ff,#0094ff,#00a4ff,#00b0ff,#00b4ff,#00b3ff,#00b3ff,#00b9ff,#00c6ff,#00d6ff,#00e6ff,#00f1ff,#00f5ff,#00eeff,#00dfff,#00ceff,#00beff,#00b5ff,#00b0ff,#00b1ff,#00b4ff,#00b9ff,#00bdff,#00c0ff,#00c2ff,#00c5ff,#00c8ff,#00caff,#00ccff,#00c9ff,#00c2ff,#00b8ff,#00b1ff,#00afff,#00b3ff,#00baff,#00c1ff,#00c5ff,#00c7ff,#00c8ff,#00ccff,#00d1ff,#00d9ff,#00e1ff)"></div><div style="top:52.00px;background:linear-gradient(90deg,#00bfff,#00b2ff,#00a5ff,#0097ff,#008bff,#0080ff,#0078ff,#0072ff,#006dff,#0069ff,#0065ff,#0064ff,#0067ff,#006dff,#0073ff,#0074ff,#006eff,#0061ff,#0050ff,#0043ff,#0040ff,#0046ff,#004fff,#0058ff,#005cff,#005bff,#0057ff,#0053ff,#0056ff,#0062ff,#0073ff,#0081ff,#0087ff,#0085ff,#0080ff,#007eff,#0080ff,#0083ff,#0082ff,#007dff,#0075ff,#006eff,#006cff,#0070ff,#007aff,#0087ff,#0092ff,#0096ff,#0098ff,#009bff,#00a4ff,#00b1ff,#00c1ff,#00d0ff,#00ddff,#00e4ff,#00e4ff,#00dbff,#00ccff,#00bdff,#00b4ff,#00b2ff,#00b5ff,#00b8ff,#00b9ff,#00b7ff,#00b4ff,#00b3ff,#00b5ff,#00b6ff,#00b5ff,#00b2ff,#00acff,#00a6ff,#009fff,#009cff,#009bff,#009cff,#00a0ff,#00a6ff,#00acff,#00b4ff,#00bbff,#00c0ff,#00c4ff,#00c8ff,#00ccff)"></div><div style="top:53.00px;background:linear-gradient(90deg,#00beff,#00b0ff,#00a3ff,#0095ff,#0089ff,#007eff,#0076ff,#006fff,#006aff,#0064ff,#0061ff,#0063ff,#006aff,#0073ff,#007aff,#007aff,#0070ff,#005dff,#0047ff,#0039ff,#0038ff,#0041ff,#004fff,#005bff,#0063ff,#0067ff,#0066ff,#0061ff,#005dff,#005eff,#0065ff,#006cff,#0070ff,#006fff,#006bff,#0069ff,#0068ff,#0068ff,#0067ff,#0064ff,#0061ff,#005fff,#005fff,#0061ff,#0068ff,#0071ff,#007aff,#0080ff,#0085ff,#008aff,#0091ff,#0099ff,#00a3ff,#00aeff,#00b9ff,#00c3ff,#00c8ff,#00c6ff,#00bbff,#00b0ff,#00aaff,#00abff,#00afff,#00b0ff,#00adff,#00a6ff,#00a1ff,#00a2ff,#00a7ff,#00adff,#00afff,#00adff,#00a7ff,#00a1ff,#009cff,#0099ff,#0096ff,#0093ff,#0093ff,#0097ff,#00a1ff,#00acff,#00b6ff,#00bcff,#00bdff,#00bbff,#00bcff)"></div><div style="top:54.00px;background:linear-gradient(90deg,#00bcff,#00afff,#00a1ff,#0094ff,#0087ff,#007cff,#0074ff,#006eff,#0069ff,#0064ff,#0061ff,#0063ff,#006aff,#0073ff,#007aff,#0079ff,#006dff,#0057ff,#003eff,#002eff,#002cff,#0038ff,#0048ff,#0057ff,#0062ff,#0068ff,#0067ff,#005fff,#0054ff,#004cff,#004bff,#004fff,#0054ff,#0057ff,#0059ff,#0059ff,#0058ff,#0057ff,#0056ff,#0056ff,#0057ff,#0057ff,#0058ff,#005aff,#005eff,#0065ff,#006eff,#0077ff,#007fff,#0084ff,#0087ff,#0089ff,#008dff,#0094ff,#009dff,#00a7ff,#00afff,#00b0ff,#00a9ff,#00a0ff,#009cff,#009dff,#009eff,#009aff,#0090ff,#0085ff,#007eff,#0080ff,#008bff,#009aff,#00a7ff,#00adff,#00acff,#00a7ff,#00a2ff,#009dff,#0096ff,#008fff,#008cff,#008eff,#0098ff,#00a6ff,#00b0ff,#00b3ff,#00aeff,#00a7ff,#00a4ff)"></div><div style="top:55.00px;background:linear-gradient(90deg,#00bbff,#00adff,#00a0ff,#0092ff,#0086ff,#007bff,#0072ff,#006eff,#006aff,#0065ff,#0061ff,#0061ff,#0065ff,#006bff,#0070ff,#006eff,#0063ff,#004cff,#0033ff,#0022ff,#0021ff,#002eff,#0042ff,#0054ff,#005fff,#0060ff,#0059ff,#004cff,#003cff,#0031ff,#002eff,#0035ff,#0043ff,#0051ff,#005aff,#005cff,#005aff,#0057ff,#0056ff,#0057ff,#0056ff,#0055ff,#0054ff,#0055ff,#0059ff,#0061ff,#006cff,#0079ff,#0083ff,#0087ff,#0086ff,#0083ff,#0084ff,#008aff,#0092ff,#009bff,#00a2ff,#00a4ff,#00a0ff,#009aff,#0097ff,#0096ff,#0092ff,#0087ff,#0075ff,#0062ff,#0055ff,#0055ff,#0063ff,#0079ff,#0090ff,#009fff,#00a4ff,#00a3ff,#009fff,#009aff,#0094ff,#008cff,#0088ff,#008aff,#0094ff,#00a1ff,#00aaff,#00a8ff,#009dff,#0090ff,#008aff)"></div><div style="top:56.00px;background:linear-gradient(90deg,#00baff,#00adff,#009fff,#0092ff,#0085ff,#007aff,#0072ff,#006eff,#006bff,#0066ff,#0061ff,#005eff,#005fff,#0062ff,#0065ff,#0063ff,#0057ff,#0042ff,#002aff,#001bff,#001bff,#002aff,#0041ff,#0055ff,#005fff,#005bff,#004cff,#0039ff,#0026ff,#001bff,#001bff,#0029ff,#0040ff,#0057ff,#0065ff,#0068ff,#0063ff,#005eff,#005cff,#005bff,#0059ff,#0055ff,#0052ff,#0051ff,#0056ff,#005fff,#006cff,#007bff,#0085ff,#0088ff,#0084ff,#007eff,#007eff,#0084ff,#008dff,#0094ff,#0099ff,#009bff,#0099ff,#0096ff,#0095ff,#0093ff,#008cff,#007bff,#0063ff,#0049ff,#0037ff,#0034ff,#0041ff,#0059ff,#0073ff,#0086ff,#0090ff,#0093ff,#0093ff,#0091ff,#008dff,#0088ff,#0085ff,#0088ff,#0093ff,#00a1ff,#00a7ff,#00a2ff,#0092ff,#0081ff,#007aff)"></div></div><div class="fld" style="left:250.3px;top:150.8px"><div style="top:0.00px;background:linear-gradient(90deg,#ff6200,#ff6100,#ff5e00,#ff5b00,#ff5600,#ff5100,#ff4c00,#ff4700,#ff4200,#ff3e00,#ff3a00,#ff3800,#ff3700,#ff3700,#ff3800,#ff3a00,#ff3d00,#ff4000,#ff4300,#ff4600,#ff4800,#ff4900,#ff4a00,#ff4a00,#ff4a00,#ff4b00,#ff4c00,#ff4c00,#ff4d00,#ff4d00,#ff4c00,#ff4b00,#ff4a00,#ff4900,#ff4800,#ff4800,#ff4800,#ff4800,#ff4800,#ff4800,#ff4700,#ff4600,#ff4300,#ff4100,#ff3e00,#ff3b00,#ff3900,#ff3800,#ff3700,#ff3700,#ff3800,#ff3900,#ff3b00,#ff3d00,#ff4000,#ff4300,#ff4600,#ff4900,#ff4b00,#ff4c00,#ff4d00,#ff4d00,#ff4e00,#ff5000,#ff5300,#ff5700,#ff5d00,#ff6200,#ff6800,#ff6c00,#ff6f00,#ff7100,#ff7000,#ff6f00,#ff6d00,#ff6b00,#ff6900,#ff6800,#ff6600,#ff6500,#ff6400,#ff6200,#ff6100,#ff5f00,#ff5e00,#ff5d00,#ff5e00)"></div><div style="top:1.00px;background:linear-gradient(90deg,#ff6000,#ff5e00,#ff5c00,#ff5800,#ff5400,#ff4f00,#ff4a00,#ff4400,#ff4000,#ff3b00,#ff3800,#ff3600,#ff3500,#ff3500,#ff3600,#ff3800,#ff3b00,#ff3e00,#ff4100,#ff4300,#ff4500,#ff4600,#ff4600,#ff4600,#ff4700,#ff4700,#ff4800,#ff4900,#ff4900,#ff4a00,#ff4900,#ff4800,#ff4700,#ff4600,#ff4500,#ff4500,#ff4500,#ff4500,#ff4500,#ff4500,#ff4400,#ff4300,#ff4000,#ff3e00,#ff3b00,#ff3800,#ff3600,#ff3500,#ff3500,#ff3500,#ff3500,#ff3700,#ff3800,#ff3b00,#ff3e00,#ff4100,#ff4400,#ff4700,#ff4900,#ff4b00,#ff4c00,#ff4c00,#ff4e00,#ff4f00,#ff5300,#ff5700,#ff5c00,#ff6200,#ff6700,#ff6b00,#ff6e00,#ff7000,#ff6f00,#ff6e00,#ff6c00,#ff6a00,#ff6900,#ff6800,#ff6700,#ff6600,#ff6500,#ff6400,#ff6300,#ff6200,#ff6100,#ff6100,#ff6100)"></div><div style="top:2.00px;background:linear-gradient(90deg,#ff5e00,#ff5c00,#ff5a00,#ff5600,#ff5100,#ff4c00,#ff4700,#ff4200,#ff3d00,#ff3900,#ff3600,#ff3400,#ff3300,#ff3300,#ff3500,#ff3700,#ff3900,#ff3c00,#ff3e00,#ff4000,#ff4200,#ff4200,#ff4300,#ff4300,#ff4300,#ff4400,#ff4500,#ff4600,#ff4600,#ff4600,#ff4600,#ff4500,#ff4400,#ff4300,#ff4200,#ff4100,#ff4100,#ff4200,#ff4200,#ff4200,#ff4100,#ff3f00,#ff3d00,#ff3a00,#ff3800,#ff3500,#ff3400,#ff3200,#ff3200,#ff3200,#ff3300,#ff3400,#ff3600,#ff3900,#ff3c00,#ff3f00,#ff4300,#ff4600,#ff4800,#ff4a00,#ff4b00,#ff4d00,#ff4e00,#ff5000,#ff5300,#ff5700,#ff5c00,#ff6200,#ff6600,#ff6a00,#ff6d00,#ff6e00,#ff6e00,#ff6d00,#ff6b00,#ff6a00,#ff6800,#ff6800,#ff6700,#ff6700,#ff6700,#ff6700,#ff6600,#ff6500,#ff6500,#ff6500,#ff6600)"></div><div style="top:3.00px;background:linear-gradient(90deg,#ff5b00,#ff5a00,#ff5700,#ff5400,#ff4f00,#ff4a00,#ff4500,#ff4000,#ff3b00,#ff3700,#ff3400,#ff3300,#ff3200,#ff3300,#ff3400,#ff3600,#ff3800,#ff3a00,#ff3c00,#ff3e00,#ff3f00,#ff3f00,#ff3f00,#ff3f00,#ff4000,#ff4000,#ff4100,#ff4200,#ff4300,#ff4300,#ff4200,#ff4200,#ff4100,#ff3f00,#ff3f00,#ff3e00,#ff3e00,#ff3e00,#ff3f00,#ff3e00,#ff3d00,#ff3c00,#ff3900,#ff3700,#ff3400,#ff3200,#ff3100,#ff3000,#ff2f00,#ff2f00,#ff3000,#ff3200,#ff3400,#ff3700,#ff3a00,#ff3d00,#ff4100,#ff4400,#ff4700,#ff4a00,#ff4c00,#ff4e00,#ff5000,#ff5200,#ff5500,#ff5900,#ff5d00,#ff6200,#ff6600,#ff6900,#ff6b00,#ff6c00,#ff6c00,#ff6b00,#ff6900,#ff6800,#ff6700,#ff6700,#ff6700,#ff6800,#ff6900,#ff6900,#ff6900,#ff6a00,#ff6a00,#ff6b00,#ff6c00)"></div><div style="top:4.00px;background:linear-gradient(90deg,#ff5800,#ff5700,#ff5400,#ff5100,#ff4c00,#ff4700,#ff4200,#ff3d00,#ff3900,#ff3500,#ff3300,#ff3200,#ff3100,#ff3200,#ff3300,#ff3500,#ff3700,#ff3800,#ff3a00,#ff3b00,#ff3b00,#ff3c00,#ff3c00,#ff3c00,#ff3c00,#ff3d00,#ff3e00,#ff3f00,#ff3f00,#ff3f00,#ff3f00,#ff3e00,#ff3d00,#ff3c00,#ff3b00,#ff3b00,#ff3b00,#ff3b00,#ff3b00,#ff3b00,#ff3a00,#ff3800,#ff3600,#ff3400,#ff3100,#ff2f00,#ff2e00,#ff2d00,#ff2d00,#ff2d00,#ff2e00,#ff3000,#ff3200,#ff3500,#ff3800,#ff3c00,#ff4000,#ff4300,#ff4700,#ff4a00,#ff4d00,#ff4f00,#ff5200,#ff5400,#ff5700,#ff5b00,#ff5f00,#ff6200,#ff6600,#ff6800,#ff6a00,#ff6a00,#ff6a00,#ff6900,#ff6700,#ff6700,#ff6600,#ff6700,#ff6800,#ff6900,#ff6a00,#ff6c00,#ff6d00,#ff6e00,#ff7000,#ff7100,#ff7300)"></div><div style="top:5.00px;background:linear-gradient(90deg,#ff5400,#ff5300,#ff5000,#ff4d00,#ff4800,#ff4300,#ff3e00,#ff3a00,#ff3600,#ff3300,#ff3100,#ff3000,#ff3000,#ff3100,#ff3200,#ff3400,#ff3500,#ff3600,#ff3700,#ff3800,#ff3800,#ff3800,#ff3800,#ff3800,#ff3800,#ff3900,#ff3a00,#ff3b00,#ff3b00,#ff3b00,#ff3b00,#ff3a00,#ff3900,#ff3900,#ff3800,#ff3800,#ff3800,#ff3800,#ff3800,#ff3800,#ff3700,#ff3500,#ff3300,#ff3100,#ff2f00,#ff2d00,#ff2c00,#ff2c00,#ff2c00,#ff2c00,#ff2d00,#ff2f00,#ff3100,#ff3300,#ff3700,#ff3a00,#ff3e00,#ff4300,#ff4700,#ff4a00,#ff4e00,#ff5100,#ff5400,#ff5700,#ff5a00,#ff5d00,#ff6000,#ff6300,#ff6600,#ff6700,#ff6800,#ff6800,#ff6700,#ff6600,#ff6600,#ff6500,#ff6500,#ff6600,#ff6800,#ff6a00,#ff6c00,#ff6f00,#ff7100,#ff7300,#ff7500,#ff7700,#ff7900)"></div><div style="top:6.00px;background:linear-gradient(90deg,#ff4f00,#ff4e00,#ff4b00,#ff4800,#ff4300,#ff3f00,#ff3a00,#ff3600,#ff3300,#ff3000,#ff2f00,#ff2f00,#ff2f00,#ff3000,#ff3100,#ff3200,#ff3300,#ff3300,#ff3400,#ff3400,#ff3400,#ff3400,#ff3400,#ff3400,#ff3400,#ff3500,#ff3600,#ff3700,#ff3700,#ff3700,#ff3700,#ff3600,#ff3500,#ff3400,#ff3400,#ff3400,#ff3400,#ff3400,#ff3500,#ff3400,#ff3400,#ff3300,#ff3100,#ff2f00,#ff2e00,#ff2d00,#ff2c00,#ff2b00,#ff2b00,#ff2c00,#ff2d00,#ff2e00,#ff3000,#ff3200,#ff3500,#ff3900,#ff3d00,#ff4200,#ff4600,#ff4b00,#ff4f00,#ff5300,#ff5600,#ff5900,#ff5c00,#ff5f00,#ff6200,#ff6400,#ff6600,#ff6700,#ff6700,#ff6600,#ff6500,#ff6500,#ff6400,#ff6400,#ff6500,#ff6600,#ff6900,#ff6c00,#ff6f00,#ff7200,#ff7500,#ff7800,#ff7b00,#ff7d00,#ff8000)"></div><div style="top:7.00px;background:linear-gradient(90deg,#ff4800,#ff4700,#ff4400,#ff4100,#ff3d00,#ff3900,#ff3500,#ff3200,#ff2f00,#ff2d00,#ff2c00,#ff2c00,#ff2d00,#ff2e00,#ff2e00,#ff2f00,#ff2f00,#ff3000,#ff3000,#ff2f00,#ff2f00,#ff2f00,#ff2f00,#ff2f00,#ff3000,#ff3100,#ff3200,#ff3300,#ff3300,#ff3300,#ff3200,#ff3100,#ff3100,#ff3000,#ff3000,#ff3000,#ff3000,#ff3100,#ff3200,#ff3200,#ff3200,#ff3100,#ff3000,#ff2f00,#ff2e00,#ff2d00,#ff2d00,#ff2c00,#ff2d00,#ff2d00,#ff2d00,#ff2e00,#ff3000,#ff3200,#ff3400,#ff3800,#ff3c00,#ff4100,#ff4600,#ff4b00,#ff4f00,#ff5400,#ff5800,#ff5b00,#ff5e00,#ff6100,#ff6300,#ff6500,#ff6600,#ff6600,#ff6600,#ff6500,#ff6400,#ff6300,#ff6300,#ff6400,#ff6500,#ff6700,#ff6a00,#ff6d00,#ff7100,#ff7500,#ff7900,#ff7c00,#ff8000,#ff8300,#ff8500)"></div><div style="top:8.00px;background:linear-gradient(90deg,#ff3f00,#ff3e00,#ff3c00,#ff3900,#ff3600,#ff3300,#ff3000,#ff2d00,#ff2b00,#ff2a00,#ff2900,#ff2a00,#ff2a00,#ff2b00,#ff2b00,#ff2b00,#ff2b00,#ff2b00,#ff2a00,#ff2a00,#ff2a00,#ff2900,#ff2a00,#ff2a00,#ff2b00,#ff2c00,#ff2d00,#ff2d00,#ff2e00,#ff2d00,#ff2d00,#ff2c00,#ff2b00,#ff2b00,#ff2b00,#ff2b00,#ff2c00,#ff2e00,#ff2f00,#ff3000,#ff3000,#ff3000,#ff3000,#ff2f00,#ff2f00,#ff2f00,#ff2f00,#ff2f00,#ff2f00,#ff2f00,#ff2f00,#ff3000,#ff3000,#ff3200,#ff3400,#ff3700,#ff3b00,#ff4000,#ff4500,#ff4a00,#ff4f00,#ff5400,#ff5800,#ff5c00,#ff6000,#ff6200,#ff6400,#ff6500,#ff6600,#ff6500,#ff6500,#ff6400,#ff6300,#ff6200,#ff6300,#ff6400,#ff6500,#ff6800,#ff6b00,#ff6f00,#ff7300,#ff7800,#ff7c00,#ff8000,#ff8400,#ff8800,#ff8a00)"></div><div style="top:9.00px;background:linear-gradient(90deg,#ff3500,#ff3400,#ff3200,#ff3000,#ff2e00,#ff2b00,#ff2900,#ff2700,#ff2600,#ff2500,#ff2500,#ff2600,#ff2600,#ff2600,#ff2600,#ff2600,#ff2500,#ff2400,#ff2400,#ff2300,#ff2300,#ff2300,#ff2300,#ff2400,#ff2500,#ff2600,#ff2700,#ff2700,#ff2700,#ff2700,#ff2600,#ff2500,#ff2500,#ff2500,#ff2500,#ff2600,#ff2800,#ff2a00,#ff2c00,#ff2e00,#ff2f00,#ff3000,#ff3000,#ff3100,#ff3100,#ff3200,#ff3200,#ff3200,#ff3200,#ff3200,#ff3200,#ff3100,#ff3100,#ff3200,#ff3400,#ff3600,#ff3a00,#ff3f00,#ff4400,#ff4900,#ff4f00,#ff5400,#ff5800,#ff5c00,#ff6000,#ff6300,#ff6400,#ff6500,#ff6600,#ff6500,#ff6400,#ff6400,#ff6300,#ff6300,#ff6300,#ff6500,#ff6700,#ff6a00,#ff6d00,#ff7200,#ff7600,#ff7b00,#ff7f00,#ff8400,#ff8800,#ff8c00,#ff8f00)"></div><div style="top:10.00px;background:linear-gradient(90deg,#ff2a00,#ff2800,#ff2700,#ff2500,#ff2400,#ff2200,#ff2100,#ff2000,#ff1f00,#ff1f00,#ff2000,#ff2000,#ff2000,#ff2000,#ff2000,#ff1f00,#ff1e00,#ff1c00,#ff1b00,#ff1b00,#ff1a00,#ff1b00,#ff1b00,#ff1c00,#ff1d00,#ff1e00,#ff1f00,#ff1f00,#ff1f00,#ff1e00,#ff1e00,#ff1d00,#ff1d00,#ff1d00,#ff1f00,#ff2100,#ff2300,#ff2600,#ff2900,#ff2c00,#ff2e00,#ff3000,#ff3200,#ff3300,#ff3400,#ff3500,#ff3600,#ff3700,#ff3700,#ff3600,#ff3500,#ff3400,#ff3300,#ff3300,#ff3400,#ff3600,#ff3900,#ff3d00,#ff4200,#ff4800,#ff4d00,#ff5200,#ff5600,#ff5a00,#ff5e00,#ff6200,#ff6400,#ff6600,#ff6600,#ff6600,#ff6500,#ff6500,#ff6400,#ff6400,#ff6500,#ff6700,#ff6900,#ff6d00,#ff7000,#ff7500,#ff7900,#ff7e00,#ff8300,#ff8700,#ff8c00,#ff9000,#ff9300)"></div><div style="top:11.00px;background:linear-gradient(90deg,#ff1e00,#ff1c00,#ff1b00,#ff1a00,#ff1900,#ff1800,#ff1800,#ff1800,#ff1800,#ff1900,#ff1900,#ff1a00,#ff1a00,#ff1900,#ff1800,#ff1700,#ff1500,#ff1300,#ff1200,#ff1100,#ff1100,#ff1100,#ff1200,#ff1300,#ff1400,#ff1500,#ff1600,#ff1600,#ff1600,#ff1500,#ff1400,#ff1400,#ff1400,#ff1600,#ff1800,#ff1b00,#ff1e00,#ff2200,#ff2700,#ff2a00,#ff2e00,#ff3100,#ff3300,#ff3500,#ff3700,#ff3900,#ff3a00,#ff3b00,#ff3b00,#ff3a00,#ff3800,#ff3700,#ff3500,#ff3400,#ff3400,#ff3500,#ff3800,#ff3c00,#ff4000,#ff4500,#ff4900,#ff4c00,#ff4f00,#ff5300,#ff5800,#ff5d00,#ff6200,#ff6600,#ff6700,#ff6800,#ff6700,#ff6700,#ff6700,#ff6700,#ff6800,#ff6a00,#ff6d00,#ff7000,#ff7400,#ff7800,#ff7d00,#ff8200,#ff8600,#ff8b00,#ff8f00,#ff9300,#ff9700)"></div><div style="top:12.00px;background:linear-gradient(90deg,#ff1200,#ff1100,#ff1000,#ff0f00,#ff0f00,#ff0f00,#ff0f00,#ff0f00,#ff1000,#ff1200,#ff1300,#ff1300,#ff1300,#ff1200,#ff1000,#ff0e00,#ff0c00,#ff0a00,#ff0800,#ff0700,#ff0700,#ff0800,#ff0800,#ff0a00,#ff0b00,#ff0c00,#ff0c00,#ff0d00,#ff0c00,#ff0b00,#ff0b00,#ff0b00,#ff0c00,#ff0e00,#ff1100,#ff1500,#ff1a00,#ff1f00,#ff2400,#ff2900,#ff2e00,#ff3200,#ff3500,#ff3800,#ff3b00,#ff3d00,#ff3f00,#ff3f00,#ff3f00,#ff3e00,#ff3c00,#ff3900,#ff3700,#ff3500,#ff3400,#ff3500,#ff3700,#ff3a00,#ff3e00,#ff4200,#ff4300,#ff4300,#ff4300,#ff4500,#ff4c00,#ff5500,#ff5f00,#ff6500,#ff6800,#ff6a00,#ff6a00,#ff6a00,#ff6b00,#ff6b00,#ff6d00,#ff6f00,#ff7200,#ff7500,#ff7900,#ff7d00,#ff8100,#ff8600,#ff8a00,#ff8f00,#ff9300,#ff9700,#ff9a00)"></div><div style="top:13.00px;background:linear-gradient(90deg,#ff0800,#ff0700,#ff0600,#ff0500,#ff0500,#ff0600,#ff0700,#ff0800,#ff0900,#ff0b00,#ff0c00,#ff0d00,#ff0c00,#ff0b00,#ff0900,#ff0600,#ff0300,#ff0100,#fe0000,#fd0000,#fd0000,#fd0000,#fe0000,#ff0000,#ff0200,#ff0300,#ff0300,#ff0300,#ff0300,#ff0200,#ff0200,#ff0200,#ff0400,#ff0700,#ff0b00,#ff1000,#ff1600,#ff1c00,#ff2300,#ff2900,#ff2e00,#ff3300,#ff3700,#ff3b00,#ff3e00,#ff4000,#ff4200,#ff4300,#ff4300,#ff4100,#ff3f00,#ff3b00,#ff3800,#ff3600,#ff3500,#ff3500,#ff3700,#ff3900,#ff3c00,#ff3e00,#ff3d00,#ff3900,#ff3500,#ff3600,#ff3f00,#ff4d00,#ff5b00,#ff6400,#ff6a00,#ff6c00,#ff6e00,#ff6e00,#ff6f00,#ff7000,#ff7200,#ff7500,#ff7700,#ff7b00,#ff7e00,#ff8200,#ff8600,#ff8b00,#ff8f00,#ff9300,#ff9700,#ff9b00,#ff9e00)"></div><div style="top:14.00px;background:linear-gradient(90deg,#ff0000,#fd0000,#fc0000,#fc0000,#fc0000,#fd0000,#fe0000,#ff0100,#ff0300,#ff0500,#ff0600,#ff0700,#ff0600,#ff0400,#ff0200,#fe0000,#fb0000,#f80000,#f60000,#f50000,#f50000,#f50000,#f60000,#f70000,#f80000,#f90000,#fa0000,#fa0000,#fa0000,#f90000,#f90000,#fa0000,#fc0000,#ff0100,#ff0600,#ff0c00,#ff1300,#ff1a00,#ff2200,#ff2900,#ff2f00,#ff3500,#ff3900,#ff3d00,#ff4000,#ff4300,#ff4500,#ff4600,#ff4500,#ff4300,#ff4100,#ff3d00,#ff3a00,#ff3700,#ff3500,#ff3500,#ff3600,#ff3900,#ff3b00,#ff3d00,#ff3b00,#ff3600,#ff3100,#ff3200,#ff3b00,#ff4b00,#ff5b00,#ff6600,#ff6c00,#ff7000,#ff7200,#ff7300,#ff7500,#ff7600,#ff7800,#ff7b00,#ff7e00,#ff8100,#ff8500,#ff8900,#ff8d00,#ff9100,#ff9400,#ff9800,#ff9c00,#ffa000,#ffa300)"></div><div style="top:15.00px;background:linear-gradient(90deg,#f90000,#f70000,#f60000,#f60000,#f60000,#f70000,#f90000,#fb0000,#fe0000,#ff0100,#ff0200,#ff0200,#ff0200,#ff0000,#fc0000,#f90000,#f60000,#f30000,#f10000,#ef0000,#ef0000,#ef0000,#f00000,#f10000,#f20000,#f30000,#f40000,#f40000,#f40000,#f30000,#f30000,#f50000,#f80000,#fc0000,#ff0200,#ff0900,#ff1100,#ff1900,#ff2100,#ff2900,#ff3000,#ff3600,#ff3b00,#ff3f00,#ff4200,#ff4500,#ff4700,#ff4700,#ff4700,#ff4500,#ff4200,#ff3e00,#ff3b00,#ff3800,#ff3600,#ff3600,#ff3700,#ff3900,#ff3b00,#ff3d00,#ff3e00,#ff3b00,#ff3a00,#ff3c00,#ff4500,#ff5200,#ff6000,#ff6a00,#ff7000,#ff7400,#ff7700,#ff7900,#ff7b00,#ff7d00,#ff8000,#ff8200,#ff8500,#ff8900,#ff8c00,#ff9000,#ff9400,#ff9700,#ff9b00,#ff9f00,#ffa200,#ffa600,#ffa900)"></div><div style="top:16.00px;background:linear-gradient(90deg,#f50000,#f30000,#f20000,#f20000,#f30000,#f40000,#f60000,#f90000,#fb0000,#fd0000,#ff0000,#ff0000,#fe0000,#fc0000,#fa0000,#f60000,#f30000,#f00000,#ee0000,#ec0000,#eb0000,#eb0000,#ec0000,#ed0000,#ee0000,#ef0000,#f00000,#f00000,#f00000,#f00000,#f00000,#f20000,#f50000,#fa0000,#ff0100,#ff0800,#ff1000,#ff1900,#ff2200,#ff2a00,#ff3100,#ff3700,#ff3c00,#ff4000,#ff4300,#ff4600,#ff4800,#ff4800,#ff4800,#ff4600,#ff4300,#ff3f00,#ff3c00,#ff3900,#ff3800,#ff3700,#ff3800,#ff3a00,#ff3d00,#ff4000,#ff4300,#ff4500,#ff4700,#ff4b00,#ff5300,#ff5d00,#ff6700,#ff6f00,#ff7400,#ff7800,#ff7c00,#ff7f00,#ff8100,#ff8400,#ff8700,#ff8a00,#ff8d00,#ff9100,#ff9500,#ff9800,#ff9c00,#ffa000,#ffa300,#ffa700,#ffaa00,#ffad00,#ffb000)"></div><div style="top:17.00px;background:linear-gradient(90deg,#f40000,#f30000,#f20000,#f20000,#f30000,#f40000,#f60000,#f90000,#fb0000,#fd0000,#ff0000,#ff0000,#ff0000,#fd0000,#fa0000,#f70000,#f30000,#f00000,#ee0000,#ec0000,#eb0000,#eb0000,#eb0000,#ec0000,#ed0000,#ee0000,#ef0000,#ef0000,#ef0000,#ef0000,#f00000,#f20000,#f50000,#fa0000,#ff0100,#ff0900,#ff1200,#ff1c00,#ff2600,#ff2f00,#ff3600,#ff3c00,#ff4000,#ff4300,#ff4600,#ff4800,#ff4a00,#ff4b00,#ff4b00,#ff4900,#ff4600,#ff4300,#ff4000,#ff3e00,#ff3c00,#ff3c00,#ff3d00,#ff3f00,#ff4200,#ff4600,#ff4a00,#ff4e00,#ff5400,#ff5900,#ff5f00,#ff6700,#ff6e00,#ff7400,#ff7900,#ff7d00,#ff8100,#ff8600,#ff8900,#ff8c00,#ff8f00,#ff9200,#ff9600,#ff9a00,#ff9e00,#ffa200,#ffa600,#ffaa00,#ffae00,#ffb100,#ffb300,#ffb600,#ffb800)"></div><div style="top:18.00px;background:linear-gradient(90deg,#f50000,#f40000,#f30000,#f30000,#f40000,#f50000,#f70000,#fa0000,#fc0000,#ff0000,#ff0100,#ff0200,#ff0200,#fe0000,#fc0000,#f90000,#f50000,#f10000,#ef0000,#ed0000,#ed0000,#eb0000,#ea0000,#eb0000,#ed0000,#ee0000,#ee0000,#ef0000,#f00000,#f10000,#f20000,#f40000,#f70000,#fb0000,#ff0200,#ff0b00,#ff1700,#ff2500,#ff3300,#ff3c00,#ff4300,#ff4500,#ff4600,#ff4700,#ff4a00,#ff4c00,#ff4e00,#ff4f00,#ff4f00,#ff4d00,#ff4c00,#ff4a00,#ff4700,#ff4600,#ff4400,#ff4300,#ff4400,#ff4700,#ff4a00,#ff4e00,#ff5400,#ff5900,#ff5e00,#ff6300,#ff6900,#ff6f00,#ff7600,#ff7d00,#ff8100,#ff8500,#ff8a00,#ff8d00,#ff9100,#ff9400,#ff9700,#ff9b00,#ffa100,#ffa600,#ffa900,#ffac00,#ffb000,#ffb500,#ffb900,#ffbc00,#ffbf00,#ffc000,#ffc300)"></div><div style="top:19.00px;background:linear-gradient(90deg,#f80000,#f60000,#f60000,#f60000,#f60000,#f70000,#f90000,#fb0000,#fe0000,#ff0200,#ff0400,#ff0500,#ff0400,#ff0200,#ff0000,#fd0000,#fb0000,#f80000,#f40000,#ef0000,#ec0000,#eb0000,#e80000,#e90000,#ec0000,#ef0000,#f10000,#f30000,#f60000,#f80000,#fa0000,#f80000,#f80000,#fc0000,#ff0600,#ff1200,#ff2600,#ff3e00,#ff5100,#ff5900,#ff5900,#ff5400,#ff4e00,#ff4d00,#ff4e00,#ff4f00,#ff5100,#ff5400,#ff5300,#ff5400,#ff5400,#ff5300,#ff4f00,#ff4e00,#ff4b00,#ff4a00,#ff4c00,#ff5000,#ff5500,#ff5b00,#ff5f00,#ff6500,#ff6900,#ff6b00,#ff7000,#ff7700,#ff7e00,#ff8600,#ff8c00,#ff9100,#ff9500,#ff9700,#ff9b00,#ffa000,#ffa300,#ffa700,#ffad00,#ffb200,#ffb200,#ffb400,#ffbb00,#ffbf00,#ffc300,#ffc500,#ffc700,#ffca00,#ffcc00)"></div><div style="top:20.00px;background:linear-gradient(90deg,#fb0000,#fa0000,#f90000,#f90000,#f90000,#fa0000,#fc0000,#fe0000,#ff0100,#ff0400,#ff0600,#ff0400,#ff0200,#fe0000,#fc0000,#fe0000,#ff0300,#ff0500,#ff0300,#fb0000,#ee0000,#e70000,#e50000,#e60000,#e80000,#ed0000,#ec0000,#ef0000,#f50000,#f80000,#fa0000,#f80000,#f70000,#ff0300,#ff1000,#ff1e00,#ff3700,#ff5d00,#ff7d00,#ff8400,#ff8000,#ff7100,#ff6100,#ff5600,#ff5000,#ff4e00,#ff5200,#ff5600,#ff5900,#ff5e00,#ff5c00,#ff5800,#ff5100,#ff5100,#ff5200,#ff5200,#ff5300,#ff5800,#ff6000,#ff6600,#ff6500,#ff6900,#ff6f00,#ff7100,#ff7800,#ff8500,#ff9200,#ff9800,#ff9c00,#ffa000,#ffa400,#ffa600,#ffac00,#ffb000,#ffb100,#ffb100,#ffb100,#ffb300,#ffb400,#ffb800,#ffc100,#ffc800,#ffcb00,#ffcc00,#ffcf00,#ffd400,#ffd800)"></div><div style="top:21.00px;background:linear-gradient(90deg,#fe0000,#fd0000,#fc0000,#fc0000,#fc0000,#fd0000,#ff0000,#ff0100,#ff0400,#ff0600,#ff0500,#ff0200,#fc0000,#fa0000,#fc0000,#fc0000,#ff0000,#ff0300,#ff0500,#ff0a00,#fb0000,#ea0000,#e50000,#ea0000,#e70000,#e50000,#e10000,#e50000,#f60000,#f30000,#f10000,#ff0000,#ff0c00,#ff1800,#ff1b00,#ff2600,#ff3d00,#ff6800,#ff9300,#ffa200,#ff9e00,#ff8400,#ff7000,#ff6000,#ff5400,#ff4700,#ff4400,#ff4b00,#ff5c00,#ff6c00,#ff6f00,#ff6900,#ff5a00,#ff5800,#ff5b00,#ff5a00,#ff5500,#ff5000,#ff5900,#ff6500,#ff6c00,#ff7b00,#ff8c00,#ff8700,#ff7e00,#ff8500,#ff9700,#ffa500,#ffa900,#ffaa00,#ffad00,#ffaf00,#ffba00,#ffc600,#ffcf00,#ffcc00,#ffc100,#ffb700,#ffb200,#ffbc00,#ffce00,#ffd800,#ffd600,#ffd700,#ffdb00,#ffde00,#ffda00)"></div><div style="top:22.00px;background:linear-gradient(90deg,#ff0100,#ff0000,#ff0000,#ff0000,#ff0000,#ff0200,#ff0300,#ff0500,#ff0b00,#ff0f00,#ff1000,#ff0e00,#ff0600,#ff0200,#ff0300,#ff0a00,#ff1900,#ff2500,#ff2800,#ff2000,#ff0f00,#ff0000,#f00000,#f80000,#f50000,#e60000,#e10000,#e10000,#f30000,#f90000,#fc0000,#ff0600,#ff0600,#ff0a00,#ff1c00,#ff3100,#ff4500,#ff5f00,#ff8200,#ff9400,#ff8300,#ff6a00,#ff6800,#ff6400,#ff5b00,#ff3d00,#ff3b00,#ff4700,#ff5a00,#ff7a00,#ff9100,#ff9800,#ff8500,#ff7100,#ff6100,#ff5000,#ff3500,#ff3400,#ff4c00,#ff5f00,#ff6900,#ff8a00,#ffaa00,#ffa000,#ff8600,#ff7900,#ff8500,#ff9300,#ff9e00,#ffab00,#ffb300,#ffa000,#ffa700,#ffc100,#ffd300,#ffd100,#ffcb00,#ffc400,#ffbd00,#ffd400,#ffdf00,#ffe100,#ffe000,#ffe900,#ffe500,#ffc700,#ffa000)"></div><div style="top:23.00px;background:linear-gradient(90deg,#ff0200,#ff0200,#ff0200,#ff0200,#ff0300,#ff0500,#ff0700,#ff0a00,#ff1300,#ff1a00,#ff1600,#ff1000,#ff0400,#ff0900,#ff1700,#ff2f00,#ff4200,#ff4900,#ff5700,#ff4800,#ff2800,#ff1b00,#fa0000,#ff0100,#ff1a00,#ff1100,#f20000,#eb0000,#e20000,#e10000,#e10000,#e90000,#e30000,#fd0000,#ff1a00,#ff3400,#ff6800,#ff7e00,#ff8200,#ff7900,#ff7000,#ff7900,#ff7900,#ff7800,#ff7800,#ff6100,#ff5b00,#ff6200,#ff6f00,#ff9000,#ffa900,#ffaf00,#ff8b00,#ff6000,#ff5100,#ff3c00,#ff3a00,#ff4e00,#ff3a00,#ff3d00,#ff6b00,#ffa000,#ff9900,#ff7400,#ff6a00,#ff6a00,#ff7500,#ff8c00,#ffa200,#ffb400,#ffb200,#ff8c00,#ff9100,#ffa800,#ffcd00,#ffde00,#ffcd00,#ffb900,#ffba00,#ffe200,#fff400,#fff200,#ffe400,#fff100,#ffec00,#ffad00,#ff8d00)"></div><div style="top:24.00px;background:linear-gradient(90deg,#ff0300,#ff0300,#ff0300,#ff0400,#ff0500,#ff0700,#ff0a00,#ff0f00,#ff1d00,#ff2600,#ff2200,#ff2c00,#ff3100,#ff3a00,#ff3e00,#ff2200,#ff1300,#ff4200,#ff7500,#ff5f00,#ff4300,#ff3600,#ff1f00,#ff1d00,#ff2300,#ff0c00,#ff0f00,#ff0a00,#f80000,#f40000,#f70000,#ff0600,#ee0000,#ff0900,#ff1c00,#ff3600,#ff6500,#ff7600,#ff6900,#ff6100,#ff8200,#ff9e00,#ff9900,#ff9800,#ff9d00,#ffa000,#ff9500,#ff9500,#ff9400,#ff8700,#ff8000,#ff9900,#ff7f00,#ff4c00,#ff5c00,#ff9000,#ffa900,#ff9c00,#ff4e00,#ff2400,#ff5800,#ffa500,#ff8e00,#ff6d00,#ff8200,#ff8a00,#ff9700,#ffba00,#ffd700,#fff000,#ffe600,#ffa000,#ff8400,#ff9700,#ffba00,#ffd100,#ffcb00,#ffc500,#ffd300,#ffd700,#ffe200,#e8ff17,#ebff14,#eaff15,#e7ff18,#fff500,#ffe800)"></div><div style="top:25.00px;background:linear-gradient(90deg,#ff0200,#ff0200,#ff0300,#ff0500,#ff0700,#ff0900,#ff0d00,#ff1300,#ff2100,#ff2e00,#ff3100,#ff4200,#ff4500,#ff4a00,#ff3f00,#ff0600,#e10000,#f30000,#ff2000,#ff3200,#ff2900,#ff0d00,#ff1e00,#ff2000,#ff0300,#ea0000,#ff1400,#ff3900,#ff2300,#ff0900,#ff0600,#fe0000,#f10000,#ff1700,#ff2900,#ff5700,#ff7900,#ff6100,#ff4300,#ff3400,#ff6500,#ff9b00,#ffb600,#ffc700,#ffb500,#ffc200,#ffc300,#ffa300,#ff7800,#ff6f00,#ff7300,#ff8d00,#ff8600,#ff6500,#ffa000,#e9ff16,#ceff31,#ffd300,#ff6600,#ff2900,#ff4900,#ff9100,#ff9100,#ff8100,#ff7c00,#ff7500,#ff8400,#ffb200,#fffb00,#e5ff1a,#f5ff0a,#ffe800,#ffdb00,#ffdd00,#ffef00,#ffe800,#ffca00,#ffd300,#f0ff0f,#e3ff1c,#f9ff06,#d7ff28,#cdff32,#e7ff18,#fffd00,#ebff14,#cfff30)"></div><div style="top:26.00px;background:linear-gradient(90deg,#ff0100,#ff0100,#ff0200,#ff0400,#ff0700,#ff0a00,#ff0e00,#ff1500,#ff2100,#ff3800,#ff3000,#ff2500,#ff2900,#ff3300,#ff4c00,#ff3500,#ff1200,#ff2c00,#ff4300,#ff4900,#ff2c00,#ff0400,#ff1700,#ff2b00,#ff1800,#ff0700,#ff1000,#ff2d00,#ff3000,#ff5300,#ff9100,#ff8600,#ff6f00,#ff5b00,#ff5000,#ff6a00,#ff6c00,#ff6000,#ff8500,#ffa600,#ffa400,#ffae00,#ffc900,#ffe500,#ffee00,#fff900,#ffd200,#ffa300,#ff8d00,#ff9300,#ff9900,#ff9900,#ff7700,#ff4600,#ff7100,#ffc300,#ffd600,#ff9800,#ff6900,#ff3900,#ff4100,#ff7a00,#ff9d00,#ffa300,#ff9400,#ff9900,#ffab00,#ffb000,#ffd200,#ffe900,#feff01,#f0ff0f,#feff01,#ffec00,#faff05,#fff300,#ffb000,#ffaa00,#ffe000,#fff400,#ffe200,#ffd900,#ffe600,#fff400,#ffdd00,#fff800,#cfff30)"></div><div style="top:27.00px;background:linear-gradient(90deg,#fe0000,#ff0000,#ff0100,#ff0400,#ff0700,#ff0b00,#ff1100,#ff1700,#ff2100,#ff3400,#ff3100,#ff2a00,#ff2c00,#ff2b00,#ff4b00,#ff6d00,#ff7900,#ff8300,#ff9300,#ffab00,#ff8c00,#ff6900,#ff6700,#ff7100,#ff7400,#ff7300,#ff6000,#ff7000,#ffa200,#fffc00,#c9ff36,#c5ff3a,#f3ff0c,#ffae00,#ff7400,#ff7400,#ff7e00,#ff7f00,#ffac00,#ffcb00,#ffa600,#ffb400,#fff600,#f4ff0b,#f0ff0f,#ecff13,#ffe200,#ffba00,#ffd500,#ffc400,#ff8800,#ff7a00,#ff7500,#ff7300,#ff6200,#ff5c00,#ff7a00,#ffa800,#ffa800,#ff7a00,#ff7d00,#ff9600,#ffb700,#ffba00,#ffa200,#ff8300,#ff7700,#ff8e00,#ffbb00,#ffd800,#fffd00,#fdff02,#ffea00,#ffee00,#e8ff17,#faff05,#ffc800,#ffa500,#ffb100,#ffd200,#ffed00,#fffd00,#d6ff29,#beff41,#e8ff17,#f6ff09,#f8ff07)"></div><div style="top:28.00px;background:linear-gradient(90deg,#fc0000,#fd0000,#ff0000,#ff0300,#ff0800,#ff0c00,#ff1200,#ff1800,#ff1d00,#ff2100,#ff2000,#ff1500,#ff1a00,#ff3400,#ff4c00,#ff5200,#ff7b00,#ffa800,#ffda00,#dcff23,#d2ff2d,#fff000,#ffa000,#ffb500,#fff000,#ffdf00,#ffa400,#ffa100,#ffcf00,#fff600,#f6ff09,#dbff24,#ffff00,#ffb200,#ff8300,#ff8700,#ffb500,#fff300,#f2ff0d,#fffb00,#ffcd00,#f0ff0f,#9aff65,#8dff72,#a0ff5f,#d3ff2c,#fff900,#ffd600,#ffcb00,#ff9e00,#ff6800,#ff7200,#ff8100,#ff8000,#ff6700,#ff7a00,#ffb600,#ffd500,#ffba00,#ffb500,#ffcb00,#ffb200,#ffa800,#ff9b00,#ff9e00,#ffac00,#ffa500,#ff9b00,#ff9700,#ffae00,#ffd600,#ffd900,#ffb400,#ffbd00,#ffe800,#ffec00,#ffe000,#ffc800,#ffe000,#fffa00,#edff12,#cfff30,#beff41,#a5ff5a,#a6ff59,#c4ff3b,#f0ff0f)"></div><div style="top:29.00px;background:linear-gradient(90deg,#fa0000,#fc0000,#ff0000,#ff0600,#ff0d00,#ff1500,#ff1d00,#ff2500,#ff2d00,#ff3100,#ff2d00,#ff2800,#ff2f00,#ff3c00,#ff3a00,#ff1c00,#ff3e00,#ff6000,#ff8500,#fff000,#b5ff4a,#bbff44,#ffe100,#ffca00,#fffe00,#ffe300,#ff9b00,#ff8f00,#ff9900,#ffa800,#ffc700,#ffe100,#ffc800,#ffaf00,#ffa600,#ffbb00,#ffd700,#e7ff18,#ceff31,#faff05,#ffe500,#c3ff3c,#86ff79,#83ff7c,#99ff66,#c2ff3d,#e0ff1f,#ffe800,#ffb200,#ff9600,#ff6e00,#ff7900,#ff8900,#ff7700,#ff6600,#ffa700,#fff400,#fff200,#ffbd00,#ffee00,#f9ff06,#ffbd00,#ff8b00,#ff8c00,#ffaa00,#ffe400,#fff100,#ffd200,#ff9f00,#ff9500,#ffc300,#ffc600,#ff9c00,#ffb100,#fff800,#ecff13,#f7ff08,#ffda00,#ffd600,#fff200,#e7ff18,#c9ff36,#b5ff4a,#7cff83,#7cff83,#adff52,#c0ff3f)"></div><div style="top:30.00px;background:linear-gradient(90deg,#f90000,#ff0100,#ff0a00,#ff1400,#ff2000,#ff2d00,#ff3900,#ff4500,#ff5100,#ff5e00,#ff5d00,#ff6500,#ff7800,#ff6e00,#ff5800,#ff5400,#ff7600,#ff7c00,#ff8f00,#ffcd00,#fcff03,#f5ff0a,#ffeb00,#fff400,#eeff11,#ffd700,#ff8700,#ff8200,#ff9400,#ffa800,#ffbc00,#ffdd00,#ffdb00,#ffbf00,#ffba00,#ffcf00,#ffc800,#ffd600,#ffed00,#ffdc00,#ffdd00,#fff700,#dcff23,#f5ff0a,#fff000,#ffe200,#ffb900,#ffa600,#ffa600,#ffb500,#ffb500,#ffd100,#ffd300,#ffa900,#ff8600,#ffab00,#ffd000,#ffd800,#ffc300,#ffe500,#fff400,#ffd500,#ffb200,#ffac00,#ffd300,#fff700,#fffb00,#fff600,#ffd500,#ffb400,#ffdf00,#fff900,#ffdf00,#ffeb00,#e8ff17,#d6ff29,#ceff31,#dcff23,#ffdd00,#ffc400,#daff25,#7aff85,#51ffae,#2bffd4,#4fffb0,#96ff69,#82ff7d)"></div><div style="top:31.00px;background:linear-gradient(90deg,#f90000,#ff0c00,#ff1f00,#ff3300,#ff4700,#ff5b00,#ff6d00,#ff7e00,#ff8d00,#ff9d00,#ffaf00,#ffc100,#ffcb00,#ffc200,#ffbe00,#ffbe00,#ffb700,#ffa500,#ffe100,#b3ff4c,#aeff51,#ecff13,#ffef00,#fff300,#ffff00,#ffd100,#ffb800,#ffd500,#ffe700,#ffd500,#ffb000,#ffc900,#fff800,#ffe000,#ffc500,#ffc400,#ffc200,#ffd900,#ffed00,#ffca00,#ffca00,#ffd400,#ffd600,#ffad00,#ffa600,#ffa600,#ff9500,#ffa800,#ffc300,#ffb600,#ffd300,#fffb00,#f1ff0e,#fffc00,#ffd000,#ffbc00,#ffbd00,#ffad00,#ffa500,#ffc800,#ffe000,#ffdc00,#ffc400,#ffb800,#ffd300,#ffcf00,#ffc300,#fff300,#f2ff0d,#fffb00,#f8ff07,#d9ff26,#e1ff1e,#f2ff0d,#ffeb00,#ffe400,#e0ff1f,#caff35,#ffea00,#fbff04,#6fff90,#44ffbb,#54ffab,#3fffc0,#43ffbc,#6fff90,#49ffb6)"></div><div style="top:32.00px;background:linear-gradient(90deg,#fc0000,#ff3000,#ff6300,#ff9400,#ffc100,#ffe900,#f4ff0b,#ddff22,#ccff33,#c3ff3c,#b3ff4c,#b7ff48,#d0ff2f,#e5ff1a,#cfff30,#ceff31,#f8ff07,#fff000,#c2ff3d,#88ff77,#a2ff5d,#acff53,#adff52,#d0ff2f,#fff000,#ffd100,#fff400,#dfff20,#fffc00,#ffca00,#ffb500,#ffdb00,#f1ff0e,#fff500,#ffbe00,#ffa900,#ffb500,#ffc700,#ffc000,#ffc100,#fff100,#ffec00,#ffac00,#ff8d00,#ffad00,#ffc700,#ffd400,#fffe00,#ebff14,#f2ff0d,#c1ff3e,#b0ff4f,#c4ff3b,#d6ff29,#ffe900,#ffb900,#ffc300,#ffd000,#fff800,#e7ff18,#f6ff09,#ffe200,#ffca00,#ffc800,#ffd200,#ffe400,#ffd500,#ffd800,#ffd600,#ffd600,#ffd500,#ffe100,#ffdc00,#ffc400,#ffd300,#fffc00,#ebff14,#feff01,#ffd700,#d0ff2f,#53ffac,#7aff85,#8bff74,#4bffb4,#29ffd6,#50ffaf,#4bffb4)"></div><div style="top:33.00px;background:linear-gradient(90deg,#f6ff09,#d4ff2b,#b5ff4a,#99ff66,#7fff80,#69ff96,#58ffa7,#4effb1,#4cffb3,#4effb1,#4fffb0,#5affa5,#69ff96,#76ff89,#8aff75,#caff35,#ebff14,#f1ff0e,#d8ff27,#a8ff57,#b1ff4e,#9dff62,#72ff8d,#86ff79,#eeff11,#ffe500,#ffff00,#e9ff16,#f9ff06,#ffea00,#ffcd00,#ffeb00,#faff05,#efff10,#fff300,#ffe300,#ffe100,#ffc500,#ffa800,#ffbd00,#ffd200,#ffe600,#ffc700,#ffad00,#ffd000,#ffec00,#ffdf00,#ffde00,#fff800,#deff21,#b2ff4d,#bdff42,#deff21,#bfff40,#cdff32,#e6ff19,#fffd00,#ffed00,#eaff15,#b8ff47,#e3ff1c,#ffd300,#ffc900,#ffe200,#f2ff0d,#e5ff1a,#ffeb00,#ffc800,#ffc800,#ffb800,#ff9400,#ff9400,#ff9900,#ffaa00,#ffd300,#fff000,#f0ff0f,#f9ff06,#fff700,#d5ff2a,#a9ff56,#d3ff2c,#bfff40,#75ff8a,#72ff8d,#a5ff5a,#b2ff4d)"></div><div style="top:34.00px;background:linear-gradient(90deg,#2bffd4,#2affd5,#28ffd7,#24ffdb,#21ffde,#1dffe2,#1affe5,#1cffe3,#29ffd6,#31ffce,#39ffc6,#4fffb0,#49ffb6,#24ffdb,#36ffc9,#9aff65,#d0ff2f,#d4ff2b,#cdff32,#acff53,#91ff6e,#74ff8b,#57ffa8,#5dffa2,#98ff67,#b8ff47,#b9ff46,#ffff00,#ffd100,#ffef00,#ffe100,#ffd300,#fff800,#ecff13,#fffd00,#ffd300,#ffda00,#fff100,#fff100,#ffee00,#ffe500,#efff10,#f7ff08,#fff100,#faff05,#e8ff17,#e3ff1c,#f9ff06,#fff900,#daff25,#adff52,#c5ff3a,#bbff44,#81ff7e,#8dff72,#97ff68,#9eff61,#d9ff26,#f0ff0f,#c6ff39,#e0ff1f,#ffe300,#fff200,#e4ff1b,#9fff60,#94ff6b,#bfff40,#f2ff0d,#fff800,#ffc700,#ff9900,#ff8d00,#ff9700,#ffbb00,#ffe400,#f9ff06,#f4ff0b,#ffec00,#ffdd00,#fffa00,#c5ff3a,#c4ff3b,#cfff30,#c1ff3e,#c1ff3e,#aaff55,#8cff73)"></div><div style="top:35.00px;background:linear-gradient(90deg,#17ffe8,#15ffea,#13ffec,#10ffef,#0cfff3,#08fff7,#05fffa,#06fff9,#0bfff4,#0cfff3,#0cfff3,#12ffed,#01fffe,#00e1ff,#00f6ff,#38ffc7,#88ff77,#9eff61,#abff54,#abff54,#8fff70,#64ff9b,#5effa1,#80ff7f,#c2ff3d,#adff52,#82ff7d,#cfff30,#f9ff06,#e9ff16,#fff600,#ffb200,#ffb100,#ffc300,#ffb900,#ffc400,#fff200,#d2ff2d,#b8ff47,#e1ff1e,#fff400,#feff01,#fff000,#ffeb00,#f6ff09,#c7ff38,#a6ff59,#bbff44,#e0ff1f,#d6ff29,#aeff51,#8eff71,#76ff89,#60ff9f,#91ff6e,#a3ff5c,#70ff8f,#8cff73,#caff35,#f5ff0a,#e7ff18,#edff12,#fdff02,#f8ff07,#c3ff3c,#b0ff4f,#cbff34,#d4ff2b,#e8ff17,#ffd500,#ffb400,#ffaa00,#ffb200,#ffcf00,#ffef00,#fff200,#ffd500,#ffdf00,#ffd900,#ffdc00,#d2ff2d,#a1ff5e,#abff54,#beff41,#c5ff3a,#9fff60,#77ff88)"></div><div style="top:36.00px;background:linear-gradient(90deg,#09fff6,#07fff8,#05fffa,#02fffd,#00feff,#00f9ff,#00f6ff,#00f5ff,#00f7ff,#00fbff,#06fff9,#01fffe,#00ddff,#00dcff,#00f7ff,#18ffe7,#47ffb8,#5cffa3,#7dff82,#aaff55,#c5ff3a,#7aff85,#45ffba,#75ff8a,#c1ff3e,#a5ff5a,#65ff9a,#83ff7c,#c0ff3f,#bfff40,#beff41,#fff400,#ff9f00,#ff8900,#ffa500,#ffca00,#ffde00,#d6ff29,#92ff6d,#a6ff59,#ccff33,#e4ff1b,#e0ff1f,#d7ff28,#dfff20,#e1ff1e,#abff54,#a2ff5d,#bcff43,#a7ff58,#7bff84,#57ffa8,#78ff87,#a1ff5e,#c0ff3f,#e8ff17,#c0ff3f,#b6ff49,#e2ff1d,#fff500,#fffd00,#ecff13,#e1ff1e,#cdff32,#9aff65,#99ff66,#b0ff4f,#abff54,#b1ff4e,#e6ff19,#ffd600,#ffbd00,#ffc600,#ffe000,#fffd00,#ddff22,#f1ff0e,#fff100,#fff600,#fffd00,#e9ff16,#e4ff1b,#d2ff2d,#e1ff1e,#fffc00,#b7ff48,#5bffa4)"></div><div style="top:37.00px;background:linear-gradient(90deg,#00feff,#00f9ff,#00f5ff,#00f0ff,#00ebff,#00e5ff,#00e0ff,#00ddff,#00dcff,#00dfff,#00e9ff,#00e4ff,#00d7ff,#00f0ff,#06fff9,#20ffdf,#4bffb4,#4effb1,#5affa5,#95ff6a,#cdff32,#b1ff4e,#88ff77,#afff50,#bdff42,#7bff84,#69ff96,#8fff70,#bfff40,#bfff40,#bbff44,#e5ff1a,#ffe400,#ffbe00,#ffbb00,#ffe500,#fff000,#fff800,#caff35,#bcff43,#d6ff29,#c7ff38,#8fff70,#9fff60,#abff54,#a1ff5e,#89ff76,#aaff55,#b7ff48,#98ff67,#6cff93,#45ffba,#5affa5,#86ff79,#bbff44,#fcff03,#ceff31,#acff53,#d6ff29,#e2ff1d,#dfff20,#ddff22,#b6ff49,#8fff70,#69ff96,#7eff81,#97ff68,#91ff6e,#8cff73,#afff50,#ffe800,#ffc500,#ffd500,#ffff00,#b4ff4b,#73ff8c,#98ff67,#e1ff1e,#f8ff07,#f9ff06,#f2ff0d,#fdff02,#edff12,#f7ff08,#ffe300,#bdff42,#49ffb6)"></div><div style="top:38.00px;background:linear-gradient(90deg,#00f6ff,#00e8ff,#00ddff,#00d2ff,#00c9ff,#00c1ff,#00baff,#00b5ff,#00b3ff,#00bcff,#00c0ff,#00b8ff,#00bdff,#00dcff,#00faff,#00feff,#16ffe9,#19ffe6,#1cffe3,#5bffa4,#a6ff59,#b7ff48,#a1ff5e,#a9ff56,#a0ff5f,#8bff74,#9aff65,#a8ff57,#aeff51,#bdff42,#bdff42,#ebff14,#ffef00,#ffde00,#ffe100,#e8ff17,#e5ff1a,#ffd200,#ffee00,#cfff30,#c7ff38,#b3ff4c,#7cff83,#92ff6d,#93ff6c,#7eff81,#62ff9d,#74ff8b,#77ff88,#79ff86,#8dff72,#7eff81,#73ff8c,#76ff89,#7fff80,#b6ff49,#9bff64,#63ff9c,#7bff84,#8bff74,#86ff79,#82ff7d,#7fff80,#98ff67,#91ff6e,#9bff64,#8aff75,#4cffb3,#51ffae,#a6ff59,#fbff04,#efff10,#d4ff2b,#b6ff49,#85ff7a,#69ff96,#97ff68,#ccff33,#c9ff36,#e4ff1b,#fff800,#fffb00,#fbff04,#fff200,#f7ff08,#a3ff5c,#86ff79)"></div><div style="top:39.00px;background:linear-gradient(90deg,#00eeff,#00dbff,#00caff,#00bbff,#00afff,#00a3ff,#009aff,#0093ff,#0093ff,#0094ff,#0095ff,#009aff,#00b6ff,#00d7ff,#00eeff,#00f0ff,#29ffd6,#4fffb0,#5affa5,#6dff92,#b0ff4f,#baff45,#a9ff56,#a6ff59,#a8ff57,#c6ff39,#e0ff1f,#c5ff3a,#deff21,#ffee00,#ffe900,#ffc900,#ff9f00,#ff7300,#ff9e00,#fff000,#fffc00,#ffd100,#ffd000,#fffd00,#cdff32,#b5ff4a,#a9ff56,#abff54,#abff54,#94ff6b,#5dffa2,#4bffb4,#42ffbd,#65ff9a,#91ff6e,#8dff72,#9fff60,#7aff85,#2dffd2,#32ffcd,#40ffbf,#3bffc4,#46ffb9,#4affb5,#38ffc7,#32ffcd,#34ffcb,#66ff99,#84ff7b,#9aff65,#77ff88,#40ffbf,#45ffba,#6aff95,#93ff6c,#99ff66,#9dff62,#b5ff4a,#aaff55,#8dff72,#a5ff5a,#d4ff2b,#d7ff28,#feff01,#ffce00,#ffcd00,#faff05,#cfff30,#afff50,#9cff63,#a8ff57)"></div><div style="top:40.00px;background:linear-gradient(90deg,#00e4ff,#00d1ff,#00c0ff,#00b2ff,#00a5ff,#0099ff,#0090ff,#0088ff,#0088ff,#007eff,#006eff,#006aff,#0097ff,#00b8ff,#00baff,#00ceff,#04fffb,#2effd1,#55ffaa,#6bff94,#a2ff5d,#8fff70,#6aff95,#80ff7f,#9fff60,#b5ff4a,#c7ff38,#caff35,#deff21,#d3ff2c,#c3ff3c,#efff10,#fffb00,#ffe200,#f3ff0c,#c3ff3c,#b6ff49,#d6ff29,#f0ff0f,#fffa00,#e0ff1f,#a3ff5c,#8dff72,#8bff74,#88ff77,#79ff86,#60ff9f,#71ff8e,#7fff80,#8eff71,#b3ff4c,#c5ff3a,#cbff34,#a6ff59,#75ff8a,#7bff84,#81ff7e,#53ffac,#02fffd,#00e6ff,#08fff7,#3fffc0,#52ffad,#43ffbc,#36ffc9,#31ffce,#24ffdb,#34ffcb,#51ffae,#74ff8b,#8bff74,#89ff76,#87ff78,#9dff62,#83ff7c,#61ff9e,#84ff7b,#b4ff4b,#beff41,#e2ff1d,#fbff04,#e7ff18,#baff45,#91ff6e,#80ff7f,#93ff6c,#8aff75)"></div><div style="top:41.00px;background:linear-gradient(90deg,#00daff,#00c8ff,#00b8ff,#00a9ff,#009dff,#0092ff,#0088ff,#0080ff,#007dff,#0078ff,#006aff,#0068ff,#0082ff,#0094ff,#00a3ff,#00cdff,#00fbff,#00f6ff,#19ffe6,#21ffde,#40ffbf,#4dffb2,#4cffb3,#77ff88,#80ff7f,#71ff8e,#71ff8e,#8aff75,#8cff73,#56ffa9,#47ffb8,#60ff9f,#6eff91,#68ff97,#71ff8e,#65ff9a,#5dffa2,#73ff8c,#80ff7f,#a8ff57,#8cff73,#3effc1,#0bfff4,#00f6ff,#0ffff0,#20ffdf,#2affd5,#68ff97,#85ff7a,#4effb1,#48ffb7,#96ff69,#9aff65,#7dff82,#95ff6a,#93ff6c,#6dff92,#34ffcb,#00feff,#00fdff,#35ffca,#54ffab,#46ffb9,#2fffd0,#11ffee,#00efff,#00d8ff,#00fcff,#06fff9,#06fff9,#27ffd8,#32ffcd,#3effc1,#56ffa9,#45ffba,#34ffcb,#5fffa0,#9dff62,#b1ff4e,#cbff34,#ccff33,#b6ff49,#98ff67,#83ff7c,#6eff91,#68ff97,#6fff90)"></div><div style="top:42.00px;background:linear-gradient(90deg,#00d0ff,#00bfff,#00b0ff,#00a2ff,#0096ff,#008bff,#0081ff,#0078ff,#0078ff,#0075ff,#006eff,#0064ff,#006aff,#007eff,#0099ff,#00beff,#00d3ff,#00bdff,#00c7ff,#00d9ff,#00e8ff,#00f1ff,#10ffef,#3dffc2,#3dffc2,#4affb5,#4fffb0,#2dffd2,#25ffda,#1fffe0,#0dfff2,#00faff,#10ffef,#37ffc8,#72ff8d,#73ff8c,#52ffad,#3cffc3,#1cffe3,#23ffdc,#3effc1,#1dffe2,#00d7ff,#009eff,#00a6ff,#00d7ff,#0dfff2,#62ff9d,#7eff81,#2fffd0,#02fffd,#34ffcb,#3bffc4,#34ffcb,#5bffa4,#4fffb0,#24ffdb,#37ffc8,#54ffab,#52ffad,#45ffba,#2cffd3,#1fffe0,#29ffd6,#0dfff2,#00e8ff,#00dbff,#00e3ff,#00caff,#00aaff,#00d4ff,#00feff,#21ffde,#43ffbc,#65ff9a,#7aff85,#92ff6d,#99ff66,#9fff60,#cfff30,#e8ff17,#cbff34,#9aff65,#6aff95,#59ffa6,#55ffaa,#68ff97)"></div><div style="top:43.00px;background:linear-gradient(90deg,#00c6ff,#00b7ff,#00a8ff,#009bff,#008fff,#0084ff,#0079ff,#0070ff,#0069ff,#0058ff,#0050ff,#0062ff,#0075ff,#0071ff,#0075ff,#00b0ff,#00c5ff,#009fff,#008dff,#00aaff,#00c1ff,#00adff,#00c0ff,#00e5ff,#00f3ff,#2bffd4,#44ffbb,#13ffec,#00e8ff,#00e7ff,#00e1ff,#00ddff,#1effe1,#68ff97,#85ff7a,#6dff92,#35ffca,#00fdff,#00dfff,#00e8ff,#0afff5,#22ffdd,#04fffb,#00b8ff,#00adff,#00c0ff,#00e1ff,#1dffe2,#57ffa8,#59ffa6,#29ffd6,#11ffee,#1bffe4,#2cffd3,#5cffa3,#70ff8f,#52ffad,#6aff95,#7fff80,#60ff9f,#24ffdb,#0bfff4,#27ffd8,#45ffba,#29ffd6,#00f2ff,#00d4ff,#00e0ff,#00e4ff,#00f1ff,#1effe1,#33ffcc,#49ffb6,#56ffa9,#73ff8c,#8eff71,#83ff7c,#74ff8b,#70ff8f,#7aff85,#78ff87,#71ff8e,#74ff8b,#70ff8f,#75ff8a,#5dffa2,#5effa1)"></div><div style="top:44.00px;background:linear-gradient(90deg,#00bdff,#00afff,#00a1ff,#0095ff,#0089ff,#007dff,#0072ff,#0068ff,#0061ff,#0054ff,#004eff,#0057ff,#0069ff,#006eff,#0065ff,#008bff,#00a9ff,#0081ff,#0061ff,#007cff,#009aff,#008fff,#008fff,#00beff,#00deff,#00faff,#05fffa,#00e0ff,#00b3ff,#00abff,#00afff,#00c2ff,#02fffd,#39ffc6,#47ffb8,#32ffcd,#0efff1,#00f8ff,#02fffd,#12ffed,#24ffdb,#41ffbe,#33ffcc,#00faff,#00e2ff,#00c8ff,#00d2ff,#00ffff,#4affb5,#78ff87,#42ffbd,#00f3ff,#00e2ff,#07fff8,#2fffd0,#34ffcb,#36ffc9,#5effa1,#6dff92,#53ffac,#24ffdb,#0efff1,#20ffdf,#52ffad,#42ffbd,#19ffe6,#00feff,#00f2ff,#00fcff,#17ffe8,#28ffd7,#28ffd7,#45ffba,#51ffae,#4cffb3,#3effc1,#40ffbf,#66ff99,#5bffa4,#40ffbf,#2fffd0,#37ffc8,#55ffaa,#62ff9d,#57ffa8,#50ffaf,#56ffa9)"></div><div style="top:45.00px;background:linear-gradient(90deg,#00b5ff,#00a8ff,#009bff,#008fff,#0084ff,#0079ff,#006eff,#0062ff,#005cff,#0057ff,#0055ff,#0056ff,#0059ff,#0055ff,#004aff,#0058ff,#0079ff,#005dff,#0033ff,#004aff,#007cff,#008cff,#0082ff,#0088ff,#008fff,#0098ff,#00a9ff,#00aeff,#00b0ff,#00baff,#00c2ff,#00c4ff,#00ccff,#00dbff,#02fffd,#06fff9,#00e8ff,#00dbff,#00e0ff,#00e5ff,#00fdff,#1bffe4,#1cffe3,#0ffff0,#03fffc,#00f2ff,#01fffe,#23ffdc,#88ff77,#b4ff4b,#48ffb7,#00e9ff,#00e4ff,#00faff,#02fffd,#00f4ff,#05fffa,#2dffd2,#53ffac,#56ffa9,#44ffbb,#33ffcc,#22ffdd,#2affd5,#25ffda,#1bffe4,#11ffee,#0bfff4,#19ffe6,#35ffca,#3fffc0,#3fffc0,#3cffc3,#3fffc0,#32ffcd,#21ffde,#29ffd6,#4dffb2,#5cffa3,#46ffb9,#34ffcb,#2fffd0,#39ffc6,#48ffb7,#45ffba,#4fffb0,#60ff9f)"></div><div style="top:46.00px;background:linear-gradient(90deg,#00afff,#00a2ff,#0096ff,#008aff,#007fff,#0074ff,#0068ff,#005bff,#0053ff,#004eff,#004cff,#004dff,#0049ff,#0042ff,#003eff,#0045ff,#0057ff,#0055ff,#0045ff,#004dff,#0077ff,#008bff,#0086ff,#0081ff,#0079ff,#007dff,#0089ff,#008fff,#0095ff,#0094ff,#00a1ff,#00b3ff,#00b9ff,#00c2ff,#00d3ff,#00d2ff,#00d7ff,#00dfff,#00d7ff,#00d7ff,#00eeff,#07fff8,#0efff1,#06fff9,#00f2ff,#00e5ff,#00daff,#00e1ff,#25ffda,#4affb5,#14ffeb,#00e7ff,#00e9ff,#00f7ff,#02fffd,#04fffb,#17ffe8,#25ffda,#27ffd8,#26ffd9,#28ffd7,#21ffde,#12ffed,#0bfff4,#09fff6,#09fff6,#07fff8,#01fffe,#09fff6,#1bffe4,#30ffcf,#35ffca,#2bffd4,#2dffd2,#3cffc3,#3dffc2,#3affc5,#3fffc0,#46ffb9,#39ffc6,#2bffd4,#2effd1,#36ffc9,#37ffc8,#2fffd0,#2dffd2,#35ffca)"></div><div style="top:47.00px;background:linear-gradient(90deg,#00abff,#009eff,#0092ff,#0086ff,#007aff,#006fff,#0063ff,#0055ff,#0049ff,#0043ff,#003fff,#003aff,#0032ff,#002fff,#0032ff,#0034ff,#0030ff,#002fff,#0032ff,#003aff,#004eff,#005bff,#0061ff,#0063ff,#005cff,#0060ff,#006aff,#006fff,#0075ff,#007cff,#008cff,#009bff,#00a7ff,#00b8ff,#00c7ff,#00cdff,#00d7ff,#00deff,#00dcff,#00e1ff,#00f0ff,#00faff,#01fffe,#00f9ff,#00edff,#00deff,#00c9ff,#00bfff,#00cfff,#00e3ff,#00e8ff,#00edff,#00f4ff,#00f7ff,#00fdff,#02fffd,#04fffb,#02fffd,#00fdff,#00feff,#07fff8,#05fffa,#02fffd,#07fff8,#0cfff3,#09fff6,#03fffc,#00f8ff,#00f8ff,#0afff5,#23ffdc,#2dffd2,#30ffcf,#3bffc4,#47ffb8,#49ffb6,#40ffbf,#35ffca,#2cffd3,#22ffdd,#1effe1,#21ffde,#27ffd8,#29ffd6,#28ffd7,#21ffde,#20ffdf)"></div><div style="top:48.00px;background:linear-gradient(90deg,#00a8ff,#009bff,#008eff,#0082ff,#0076ff,#006aff,#005dff,#004fff,#0043ff,#003bff,#0035ff,#002eff,#0027ff,#0024ff,#0022ff,#001fff,#001cff,#0020ff,#0028ff,#0031ff,#003dff,#004aff,#0056ff,#0058ff,#0051ff,#0047ff,#0048ff,#0050ff,#005bff,#006bff,#007bff,#0088ff,#0092ff,#009eff,#00afff,#00baff,#00c3ff,#00c5ff,#00c4ff,#00cdff,#00dbff,#00e4ff,#00e8ff,#00e0ff,#00d1ff,#00c2ff,#00b6ff,#00b4ff,#00baff,#00cbff,#00dcff,#00e7ff,#00ebff,#00ecff,#00f0ff,#00f0ff,#00eeff,#00ecff,#00edff,#00efff,#00f3ff,#00f6ff,#00f7ff,#00fcff,#03fffc,#05fffa,#05fffa,#02fffd,#00feff,#05fffa,#15ffea,#22ffdd,#29ffd6,#34ffcb,#3cffc3,#3dffc2,#35ffca,#28ffd7,#1affe5,#18ffe7,#1fffe0,#25ffda,#28ffd7,#26ffd9,#1fffe0,#17ffe8,#16ffe9)"></div><div style="top:49.00px;background:linear-gradient(90deg,#00a6ff,#0099ff,#008cff,#007fff,#0072ff,#0065ff,#0058ff,#004bff,#003fff,#0037ff,#0030ff,#002aff,#0024ff,#0020ff,#001dff,#001cff,#0020ff,#002bff,#0038ff,#0042ff,#004aff,#0052ff,#0057ff,#0053ff,#0045ff,#0034ff,#002cff,#0032ff,#0042ff,#0057ff,#0069ff,#0072ff,#0075ff,#007bff,#0087ff,#0094ff,#009bff,#00a0ff,#00a4ff,#00abff,#00b5ff,#00bfff,#00c5ff,#00c1ff,#00b3ff,#00a3ff,#009aff,#009eff,#00aaff,#00baff,#00c8ff,#00d2ff,#00d4ff,#00d3ff,#00d4ff,#00d9ff,#00dcff,#00e0ff,#00e6ff,#00eaff,#00ebff,#00e9ff,#00eaff,#00eeff,#00f2ff,#00f7ff,#00f9ff,#00f9ff,#00f9ff,#00fdff,#09fff6,#14ffeb,#1dffe2,#26ffd9,#2cffd3,#2effd1,#29ffd6,#20ffdf,#16ffe9,#15ffea,#1bffe4,#23ffdc,#26ffd9,#21ffde,#15ffea,#08fff7,#01fffe)"></div><div style="top:50.00px;background:linear-gradient(90deg,#00a6ff,#0099ff,#008bff,#007dff,#006fff,#0062ff,#0055ff,#0048ff,#003eff,#0037ff,#0031ff,#002cff,#0029ff,#0028ff,#0027ff,#0029ff,#0031ff,#0040ff,#0050ff,#005bff,#0061ff,#0062ff,#005fff,#0054ff,#0041ff,#002eff,#0022ff,#0023ff,#0032ff,#0046ff,#0057ff,#005fff,#005fff,#005fff,#0063ff,#006eff,#007bff,#0086ff,#008fff,#0096ff,#009eff,#00a6ff,#00a9ff,#00a4ff,#0098ff,#008bff,#0085ff,#0089ff,#0095ff,#00a4ff,#00b2ff,#00b9ff,#00b9ff,#00b6ff,#00b5ff,#00b9ff,#00c2ff,#00ceff,#00dbff,#00e2ff,#00e0ff,#00dbff,#00d8ff,#00d9ff,#00dcff,#00e0ff,#00e5ff,#00eaff,#00f0ff,#00f9ff,#04fffb,#0cfff3,#12ffed,#1affe5,#22ffdd,#28ffd7,#27ffd8,#21ffde,#19ffe6,#16ffe9,#1affe5,#20ffdf,#23ffdc,#1effe1,#13ffec,#07fff8,#00ffff)"></div><div style="top:51.00px;background:linear-gradient(90deg,#00a7ff,#0099ff,#008bff,#007cff,#006dff,#0060ff,#0053ff,#0047ff,#003eff,#0038ff,#0034ff,#0033ff,#0034ff,#0036ff,#003aff,#003eff,#0046ff,#0052ff,#005fff,#0067ff,#006aff,#0067ff,#0060ff,#0053ff,#0040ff,#002dff,#0021ff,#0020ff,#002aff,#0037ff,#0042ff,#0047ff,#0045ff,#0043ff,#0048ff,#0057ff,#006aff,#007cff,#0088ff,#008fff,#0092ff,#0093ff,#0090ff,#0087ff,#007aff,#006eff,#0069ff,#006eff,#007cff,#008dff,#009bff,#00a2ff,#00a2ff,#009eff,#009cff,#009eff,#00a7ff,#00b5ff,#00c4ff,#00cdff,#00ceff,#00cbff,#00c9ff,#00caff,#00ccff,#00cfff,#00d4ff,#00dfff,#00edff,#00fbff,#08fff7,#0ffff0,#15ffea,#1dffe2,#26ffd9,#2dffd2,#2cffd3,#24ffdb,#1affe5,#16ffe9,#19ffe6,#1fffe0,#23ffdc,#22ffdd,#1bffe4,#13ffec,#11ffee)"></div><div style="top:52.00px;background:linear-gradient(90deg,#00a9ff,#009aff,#008bff,#007cff,#006dff,#005fff,#0052ff,#0046ff,#003dff,#0037ff,#0035ff,#0035ff,#0039ff,#003fff,#0047ff,#004dff,#0052ff,#005aff,#0060ff,#0065ff,#0066ff,#0064ff,#005dff,#0050ff,#003fff,#002eff,#0024ff,#0024ff,#002bff,#0033ff,#0037ff,#0036ff,#0033ff,#0033ff,#003dff,#004fff,#0065ff,#0077ff,#0082ff,#0084ff,#0083ff,#007eff,#0074ff,#0066ff,#0056ff,#0049ff,#0043ff,#0049ff,#005aff,#0071ff,#0084ff,#008cff,#008dff,#008aff,#0087ff,#0088ff,#008dff,#0098ff,#00a6ff,#00b2ff,#00baff,#00bfff,#00c3ff,#00c6ff,#00c7ff,#00c8ff,#00ceff,#00dbff,#00edff,#00feff,#0bfff4,#12ffed,#16ffe9,#1cffe3,#23ffdc,#27ffd8,#25ffda,#1effe1,#16ffe9,#13ffec,#17ffe8,#20ffdf,#27ffd8,#29ffd6,#24ffdb,#1cffe3,#1affe5)"></div><div style="top:53.00px;background:linear-gradient(90deg,#00aaff,#009cff,#008cff,#007cff,#006dff,#005fff,#0051ff,#0045ff,#003cff,#0036ff,#0033ff,#0033ff,#0037ff,#003fff,#0049ff,#0050ff,#0054ff,#0056ff,#0057ff,#005aff,#005cff,#005cff,#0059ff,#0051ff,#0043ff,#0033ff,#002aff,#002bff,#0033ff,#003bff,#003dff,#0039ff,#0035ff,#0037ff,#0042ff,#0053ff,#0065ff,#0071ff,#0075ff,#0073ff,#006eff,#0067ff,#005cff,#004cff,#003aff,#002bff,#0023ff,#0029ff,#003dff,#0058ff,#006fff,#007aff,#007cff,#0079ff,#0075ff,#0074ff,#0075ff,#007cff,#0087ff,#0096ff,#00a6ff,#00b4ff,#00bdff,#00c2ff,#00c1ff,#00bfff,#00c2ff,#00cdff,#00ddff,#00ecff,#00f5ff,#00faff,#00fdff,#02fffd,#08fff7,#0cfff3,#0dfff2,#0cfff3,#0afff5,#0dfff2,#16ffe9,#24ffdb,#2fffd0,#33ffcc,#2cffd3,#21ffde,#1cffe3)"></div><div style="top:54.00px;background:linear-gradient(90deg,#00acff,#009dff,#008dff,#007dff,#006dff,#005fff,#0052ff,#0045ff,#003dff,#0039ff,#0036ff,#0035ff,#0037ff,#003eff,#0048ff,#004fff,#004fff,#004bff,#0049ff,#004aff,#004eff,#0051ff,#0053ff,#0051ff,#0047ff,#003aff,#0030ff,#0030ff,#0038ff,#0041ff,#0046ff,#0046ff,#0046ff,#004cff,#0056ff,#0061ff,#0068ff,#0069ff,#0066ff,#0062ff,#005fff,#005bff,#0052ff,#0044ff,#0032ff,#0022ff,#001bff,#0020ff,#0032ff,#004cff,#0063ff,#0070ff,#0072ff,#006dff,#0067ff,#0061ff,#0060ff,#0063ff,#006dff,#007dff,#008eff,#009fff,#00abff,#00b0ff,#00adff,#00a8ff,#00a5ff,#00a9ff,#00b3ff,#00bdff,#00c4ff,#00c9ff,#00cdff,#00d4ff,#00ddff,#00e7ff,#00efff,#00f7ff,#00feff,#09fff6,#19ffe6,#2cffd3,#3cffc3,#42ffbd,#3effc1,#34ffcb,#2effd1)"></div><div style="top:55.00px;background:linear-gradient(90deg,#00adff,#009eff,#008eff,#007eff,#006eff,#005fff,#0053ff,#0048ff,#0042ff,#0040ff,#003eff,#003cff,#003dff,#0042ff,#004aff,#004eff,#0049ff,#0041ff,#003dff,#003fff,#0045ff,#004aff,#004dff,#004cff,#0044ff,#0038ff,#002dff,#002bff,#0032ff,#003eff,#0049ff,#0050ff,#0058ff,#0061ff,#006aff,#006dff,#0067ff,#005dff,#0054ff,#0051ff,#0054ff,#0057ff,#0053ff,#0047ff,#0037ff,#002aff,#0023ff,#0028ff,#0037ff,#004cff,#005fff,#0069ff,#0069ff,#0062ff,#0059ff,#0051ff,#004eff,#0052ff,#005bff,#0068ff,#0077ff,#0085ff,#008fff,#0093ff,#008fff,#0086ff,#007dff,#0079ff,#007dff,#0084ff,#008cff,#0094ff,#009dff,#00a9ff,#00baff,#00cdff,#00e0ff,#00f0ff,#00feff,#0ffff0,#23ffdc,#3affc5,#4effb1,#59ffa6,#59ffa6,#52ffad,#4fffb0)"></div><div style="top:56.00px;background:linear-gradient(90deg,#00adff,#009fff,#008fff,#007eff,#006eff,#0060ff,#0053ff,#004bff,#0047ff,#0047ff,#0045ff,#0043ff,#0043ff,#0047ff,#004dff,#004eff,#0047ff,#003cff,#0037ff,#003bff,#0044ff,#004aff,#004cff,#0046ff,#003bff,#002eff,#0023ff,#0020ff,#0028ff,#0036ff,#0045ff,#0053ff,#0060ff,#006dff,#0075ff,#0072ff,#0063ff,#004fff,#0043ff,#0043ff,#004cff,#0055ff,#0055ff,#004dff,#003eff,#0031ff,#002bff,#0030ff,#003eff,#0050ff,#005eff,#0062ff,#005eff,#0055ff,#004bff,#0044ff,#0041ff,#0045ff,#004eff,#0059ff,#0065ff,#006fff,#0077ff,#007aff,#0075ff,#0068ff,#005bff,#0053ff,#0052ff,#0059ff,#0063ff,#006fff,#007cff,#008eff,#00a5ff,#00c1ff,#00ddff,#00f3ff,#06fff9,#18ffe7,#2dffd2,#46ffb9,#5cffa3,#69ff96,#6cff93,#68ff97,#66ff99)"></div></div><svg width="448" height="252" viewBox="0 0 448 252"><defs><linearGradient id="jet" x1="0" y1="0" x2="0" y2="1"><stop offset="0.0000" stop-color="#800000"/><stop offset="0.0312" stop-color="#9f0000"/><stop offset="0.0625" stop-color="#bf0000"/><stop offset="0.0938" stop-color="#df0000"/><stop offset="0.1250" stop-color="#ff0000"/><stop offset="0.1562" stop-color="#ff2000"/><stop offset="0.1875" stop-color="#ff4000"/><stop offset="0.2188" stop-color="#ff6000"/><stop offset="0.2500" stop-color="#ff8000"/><stop offset="0.2812" stop-color="#ff9f00"/><stop offset="0.3125" stop-color="#ffbf00"/><stop offset="0.3438" stop-color="#ffdf00"/><stop offset="0.3750" stop-color="#ffff00"/><stop offset="0.4062" stop-color="#dfff20"/><stop offset="0.4375" stop-color="#bfff40"/><stop offset="0.4688" stop-color="#9fff60"/><stop offset="0.5000" stop-color="#80ff80"/><stop offset="0.5312" stop-color="#60ff9f"/><stop offset="0.5625" stop-color="#40ffbf"/><stop offset="0.5938" stop-color="#20ffdf"/><stop offset="0.6250" stop-color="#00ffff"/><stop offset="0.6562" stop-color="#00dfff"/><stop offset="0.6875" stop-color="#00bfff"/><stop offset="0.7188" stop-color="#009fff"/><stop offset="0.7500" stop-color="#0080ff"/><stop offset="0.7812" stop-color="#0060ff"/><stop offset="0.8125" stop-color="#0040ff"/><stop offset="0.8438" stop-color="#0020ff"/><stop offset="0.8750" stop-color="#0000ff"/><stop offset="0.9062" stop-color="#0000df"/><stop offset="0.9375" stop-color="#0000bf"/><stop offset="0.9688" stop-color="#00009f"/><stop offset="1.0000" stop-color="#000080"/></linearGradient></defs><path d="M19.50,104.10 L20.00,81.30 L21.17,81.32 L22.35,81.39 L23.52,81.51 L24.69,81.67 L25.87,81.88 L27.04,82.13 L28.21,82.43 L29.39,82.77 L30.56,83.15 L31.73,83.56 L32.91,84.02 L34.08,84.51 L35.26,85.04 L36.43,85.59 L37.60,86.18 L38.78,86.79 L39.95,87.43 L41.12,88.09 L42.30,88.76 L43.47,89.46 L44.64,90.16 L45.82,90.88 L46.99,91.61 L48.16,92.33 L49.34,93.07 L50.51,93.79 L51.68,94.52 L52.86,95.24 L54.03,95.94 L55.20,96.64 L56.38,97.31 L57.55,97.97 L58.72,98.61 L59.90,99.22 L61.07,99.81 L62.24,100.36 L63.42,100.89 L64.59,101.38 L65.77,101.84 L66.94,102.25 L68.11,102.63 L69.29,102.97 L70.46,103.27 L71.63,103.52 L72.81,103.73 L73.98,103.89 L75.15,104.01 L76.33,104.08 L77.50,104.10 L78.50,104.60 Z" fill="#fff"/><rect x="20.00" y="47.10" width="172.5" height="57.0" fill="none" stroke="#666" stroke-width="0.9"/><path d="M20.00,104.10v-1.6M20.00,47.10v1.6M48.75,104.10v-1.6M48.75,47.10v1.6M77.50,104.10v-1.6M77.50,47.10v1.6M106.25,104.10v-1.6M106.25,47.10v1.6M135.00,104.10v-1.6M135.00,47.10v1.6M163.75,104.10v-1.6M163.75,47.10v1.6M192.50,104.10v-1.6M192.50,47.10v1.6M20.00,104.10h1.6M192.50,104.10h-1.6M20.00,92.70h1.6M192.50,92.70h-1.6M20.00,81.30h1.6M192.50,81.30h-1.6M20.00,69.90h1.6M192.50,69.90h-1.6M20.00,58.50h1.6M192.50,58.50h-1.6M20.00,47.10h1.6M192.50,47.10h-1.6" stroke="#222" stroke-width="0.8"/><text x="20.00" y="113.30" text-anchor="middle" class="t">0</text><text x="48.75" y="113.30" text-anchor="middle" class="t">0.5</text><text x="77.50" y="113.30" text-anchor="middle" class="t">1</text><text x="106.25" y="113.30" text-anchor="middle" class="t">1.5</text><text x="135.00" y="113.30" text-anchor="middle" class="t">2</text><text x="163.75" y="113.30" text-anchor="middle" class="t">2.5</text><text x="192.50" y="113.30" text-anchor="middle" class="t">3</text><text x="17.40" y="106.00" text-anchor="end" class="t">0</text><text x="17.40" y="94.60" text-anchor="end" class="t">0.2</text><text x="17.40" y="83.20" text-anchor="end" class="t">0.4</text><text x="17.40" y="71.80" text-anchor="end" class="t">0.6</text><text x="17.40" y="60.40" text-anchor="end" class="t">0.8</text><text x="17.40" y="49.00" text-anchor="end" class="t">1</text><text x="106.25" y="123.00" text-anchor="middle" class="al">x/L</text><text transform="translate(6.70,74.80) rotate(-90)" text-anchor="middle" class="al">z/L</text><text x="0.00" y="49.30" class="t">(a)</text><rect x="65.50" y="25.60" width="80" height="15.3" fill="#fff" stroke="#222" stroke-width="0.9"/><text x="105.50" y="35.80" text-anchor="middle" class="tt">Using 1% DMD modes</text><rect x="199.50" y="47.10" width="6.3" height="57.0" fill="url(#jet)" stroke="#222" stroke-width="0.6"/><text x="207.50" y="49.20" class="t">7.5</text><text x="207.50" y="60.60" class="t">5</text><text x="207.50" y="72.00" class="t">2.5</text><text x="207.50" y="83.40" class="t">0</text><text x="207.50" y="94.80" class="t">-2.5</text><text x="207.50" y="106.20" class="t">-5</text><text x="194.00" y="40.60" class="t u"><tspan font-style="italic">U</tspan> (m/s)</text><path d="M249.80,104.10 L250.30,81.30 L251.47,81.32 L252.65,81.39 L253.82,81.51 L254.99,81.67 L256.17,81.88 L257.34,82.13 L258.51,82.43 L259.69,82.77 L260.86,83.15 L262.03,83.56 L263.21,84.02 L264.38,84.51 L265.56,85.04 L266.73,85.59 L267.90,86.18 L269.08,86.79 L270.25,87.43 L271.42,88.09 L272.60,88.76 L273.77,89.46 L274.94,90.16 L276.12,90.88 L277.29,91.61 L278.46,92.33 L279.64,93.07 L280.81,93.79 L281.98,94.52 L283.16,95.24 L284.33,95.94 L285.50,96.64 L286.68,97.31 L287.85,97.97 L289.02,98.61 L290.20,99.22 L291.37,99.81 L292.54,100.36 L293.72,100.89 L294.89,101.38 L296.07,101.84 L297.24,102.25 L298.41,102.63 L299.59,102.97 L300.76,103.27 L301.93,103.52 L303.11,103.73 L304.28,103.89 L305.45,104.01 L306.63,104.08 L307.80,104.10 L308.80,104.60 Z" fill="#fff"/><rect x="250.30" y="47.10" width="172.5" height="57.0" fill="none" stroke="#666" stroke-width="0.9"/><path d="M250.30,104.10v-1.6M250.30,47.10v1.6M279.05,104.10v-1.6M279.05,47.10v1.6M307.80,104.10v-1.6M307.80,47.10v1.6M336.55,104.10v-1.6M336.55,47.10v1.6M365.30,104.10v-1.6M365.30,47.10v1.6M394.05,104.10v-1.6M394.05,47.10v1.6M422.80,104.10v-1.6M422.80,47.10v1.6M250.30,104.10h1.6M422.80,104.10h-1.6M250.30,92.70h1.6M422.80,92.70h-1.6M250.30,81.30h1.6M422.80,81.30h-1.6M250.30,69.90h1.6M422.80,69.90h-1.6M250.30,58.50h1.6M422.80,58.50h-1.6M250.30,47.10h1.6M422.80,47.10h-1.6" stroke="#222" stroke-width="0.8"/><text x="250.30" y="113.30" text-anchor="middle" class="t">0</text><text x="279.05" y="113.30" text-anchor="middle" class="t">0.5</text><text x="307.80" y="113.30" text-anchor="middle" class="t">1</text><text x="336.55" y="113.30" text-anchor="middle" class="t">1.5</text><text x="365.30" y="113.30" text-anchor="middle" class="t">2</text><text x="394.05" y="113.30" text-anchor="middle" class="t">2.5</text><text x="422.80" y="113.30" text-anchor="middle" class="t">3</text><text x="247.70" y="106.00" text-anchor="end" class="t">0</text><text x="247.70" y="94.60" text-anchor="end" class="t">0.2</text><text x="247.70" y="83.20" text-anchor="end" class="t">0.4</text><text x="247.70" y="71.80" text-anchor="end" class="t">0.6</text><text x="247.70" y="60.40" text-anchor="end" class="t">0.8</text><text x="247.70" y="49.00" text-anchor="end" class="t">1</text><text x="336.55" y="123.00" text-anchor="middle" class="al">x/L</text><text transform="translate(237.00,74.80) rotate(-90)" text-anchor="middle" class="al">z/L</text><text x="230.30" y="49.30" class="t">(b)</text><rect x="296.00" y="25.60" width="80" height="15.3" fill="#fff" stroke="#222" stroke-width="0.9"/><text x="336.00" y="35.80" text-anchor="middle" class="tt">Using 10% DMD modes</text><rect x="429.80" y="47.10" width="6.3" height="57.0" fill="url(#jet)" stroke="#222" stroke-width="0.6"/><text x="437.80" y="49.20" class="t">7.5</text><text x="437.80" y="60.60" class="t">5</text><text x="437.80" y="72.00" class="t">2.5</text><text x="437.80" y="83.40" class="t">0</text><text x="437.80" y="94.80" class="t">-2.5</text><text x="437.80" y="106.20" class="t">-5</text><text x="424.30" y="40.60" class="t u"><tspan font-style="italic">U</tspan> (m/s)</text><path d="M19.50,207.80 L20.00,185.00 L21.17,185.02 L22.35,185.09 L23.52,185.21 L24.69,185.37 L25.87,185.58 L27.04,185.83 L28.21,186.13 L29.39,186.47 L30.56,186.85 L31.73,187.26 L32.91,187.72 L34.08,188.21 L35.26,188.74 L36.43,189.29 L37.60,189.88 L38.78,190.49 L39.95,191.13 L41.12,191.79 L42.30,192.46 L43.47,193.16 L44.64,193.86 L45.82,194.58 L46.99,195.31 L48.16,196.03 L49.34,196.77 L50.51,197.49 L51.68,198.22 L52.86,198.94 L54.03,199.64 L55.20,200.34 L56.38,201.01 L57.55,201.67 L58.72,202.31 L59.90,202.92 L61.07,203.51 L62.24,204.06 L63.42,204.59 L64.59,205.08 L65.77,205.54 L66.94,205.95 L68.11,206.33 L69.29,206.67 L70.46,206.97 L71.63,207.22 L72.81,207.43 L73.98,207.59 L75.15,207.71 L76.33,207.78 L77.50,207.80 L78.50,208.30 Z" fill="#fff"/><rect x="20.00" y="150.80" width="172.5" height="57.0" fill="none" stroke="#666" stroke-width="0.9"/><path d="M20.00,207.80v-1.6M20.00,150.80v1.6M48.75,207.80v-1.6M48.75,150.80v1.6M77.50,207.80v-1.6M77.50,150.80v1.6M106.25,207.80v-1.6M106.25,150.80v1.6M135.00,207.80v-1.6M135.00,150.80v1.6M163.75,207.80v-1.6M163.75,150.80v1.6M192.50,207.80v-1.6M192.50,150.80v1.6M20.00,207.80h1.6M192.50,207.80h-1.6M20.00,196.40h1.6M192.50,196.40h-1.6M20.00,185.00h1.6M192.50,185.00h-1.6M20.00,173.60h1.6M192.50,173.60h-1.6M20.00,162.20h1.6M192.50,162.20h-1.6M20.00,150.80h1.6M192.50,150.80h-1.6" stroke="#222" stroke-width="0.8"/><text x="20.00" y="217.00" text-anchor="middle" class="t">0</text><text x="48.75" y="217.00" text-anchor="middle" class="t">0.5</text><text x="77.50" y="217.00" text-anchor="middle" class="t">1</text><text x="106.25" y="217.00" text-anchor="middle" class="t">1.5</text><text x="135.00" y="217.00" text-anchor="middle" class="t">2</text><text x="163.75" y="217.00" text-anchor="middle" class="t">2.5</text><text x="192.50" y="217.00" text-anchor="middle" class="t">3</text><text x="17.40" y="209.70" text-anchor="end" class="t">0</text><text x="17.40" y="198.30" text-anchor="end" class="t">0.2</text><text x="17.40" y="186.90" text-anchor="end" class="t">0.4</text><text x="17.40" y="175.50" text-anchor="end" class="t">0.6</text><text x="17.40" y="164.10" text-anchor="end" class="t">0.8</text><text x="17.40" y="152.70" text-anchor="end" class="t">1</text><text x="106.25" y="226.70" text-anchor="middle" class="al">x/L</text><text transform="translate(6.70,178.50) rotate(-90)" text-anchor="middle" class="al">z/L</text><text x="0.00" y="153.00" class="t">(c)</text><rect x="65.50" y="129.30" width="80" height="15.3" fill="#fff" stroke="#222" stroke-width="0.9"/><text x="105.50" y="139.50" text-anchor="middle" class="tt">Using 30% DMD modes</text><rect x="199.50" y="150.80" width="6.3" height="57.0" fill="url(#jet)" stroke="#222" stroke-width="0.6"/><text x="207.50" y="152.90" class="t">7.5</text><text x="207.50" y="164.30" class="t">5</text><text x="207.50" y="175.70" class="t">2.5</text><text x="207.50" y="187.10" class="t">0</text><text x="207.50" y="198.50" class="t">-2.5</text><text x="207.50" y="209.90" class="t">-5</text><text x="194.00" y="144.30" class="t u"><tspan font-style="italic">U</tspan> (m/s)</text><path d="M249.80,207.80 L250.30,185.00 L251.47,185.02 L252.65,185.09 L253.82,185.21 L254.99,185.37 L256.17,185.58 L257.34,185.83 L258.51,186.13 L259.69,186.47 L260.86,186.85 L262.03,187.26 L263.21,187.72 L264.38,188.21 L265.56,188.74 L266.73,189.29 L267.90,189.88 L269.08,190.49 L270.25,191.13 L271.42,191.79 L272.60,192.46 L273.77,193.16 L274.94,193.86 L276.12,194.58 L277.29,195.31 L278.46,196.03 L279.64,196.77 L280.81,197.49 L281.98,198.22 L283.16,198.94 L284.33,199.64 L285.50,200.34 L286.68,201.01 L287.85,201.67 L289.02,202.31 L290.20,202.92 L291.37,203.51 L292.54,204.06 L293.72,204.59 L294.89,205.08 L296.07,205.54 L297.24,205.95 L298.41,206.33 L299.59,206.67 L300.76,206.97 L301.93,207.22 L303.11,207.43 L304.28,207.59 L305.45,207.71 L306.63,207.78 L307.80,207.80 L308.80,208.30 Z" fill="#fff"/><rect x="250.30" y="150.80" width="172.5" height="57.0" fill="none" stroke="#666" stroke-width="0.9"/><path d="M250.30,207.80v-1.6M250.30,150.80v1.6M279.05,207.80v-1.6M279.05,150.80v1.6M307.80,207.80v-1.6M307.80,150.80v1.6M336.55,207.80v-1.6M336.55,150.80v1.6M365.30,207.80v-1.6M365.30,150.80v1.6M394.05,207.80v-1.6M394.05,150.80v1.6M422.80,207.80v-1.6M422.80,150.80v1.6M250.30,207.80h1.6M422.80,207.80h-1.6M250.30,196.40h1.6M422.80,196.40h-1.6M250.30,185.00h1.6M422.80,185.00h-1.6M250.30,173.60h1.6M422.80,173.60h-1.6M250.30,162.20h1.6M422.80,162.20h-1.6M250.30,150.80h1.6M422.80,150.80h-1.6" stroke="#222" stroke-width="0.8"/><text x="250.30" y="217.00" text-anchor="middle" class="t">0</text><text x="279.05" y="217.00" text-anchor="middle" class="t">0.5</text><text x="307.80" y="217.00" text-anchor="middle" class="t">1</text><text x="336.55" y="217.00" text-anchor="middle" class="t">1.5</text><text x="365.30" y="217.00" text-anchor="middle" class="t">2</text><text x="394.05" y="217.00" text-anchor="middle" class="t">2.5</text><text x="422.80" y="217.00" text-anchor="middle" class="t">3</text><text x="247.70" y="209.70" text-anchor="end" class="t">0</text><text x="247.70" y="198.30" text-anchor="end" class="t">0.2</text><text x="247.70" y="186.90" text-anchor="end" class="t">0.4</text><text x="247.70" y="175.50" text-anchor="end" class="t">0.6</text><text x="247.70" y="164.10" text-anchor="end" class="t">0.8</text><text x="247.70" y="152.70" text-anchor="end" class="t">1</text><text x="336.55" y="226.70" text-anchor="middle" class="al">x/L</text><text transform="translate(237.00,178.50) rotate(-90)" text-anchor="middle" class="al">z/L</text><text x="230.30" y="153.00" class="t">(d)</text><rect x="296.00" y="129.30" width="81" height="15.3" fill="#fff" stroke="#222" stroke-width="0.9"/><text x="336.50" y="139.50" text-anchor="middle" class="tt">LES</text><rect x="429.80" y="150.80" width="6.3" height="57.0" fill="url(#jet)" stroke="#222" stroke-width="0.6"/><text x="437.80" y="152.90" class="t">7.5</text><text x="437.80" y="164.30" class="t">5</text><text x="437.80" y="175.70" class="t">2.5</text><text x="437.80" y="187.10" class="t">0</text><text x="437.80" y="198.50" class="t">-2.5</text><text x="437.80" y="209.90" class="t">-5</text><text x="424.30" y="144.30" class="t u"><tspan font-style="italic">U</tspan> (m/s)</text></svg></body></html>
